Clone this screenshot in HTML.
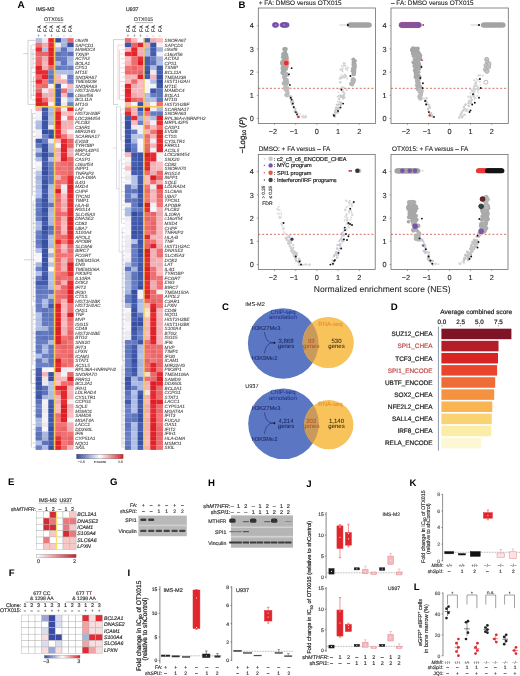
<!DOCTYPE html>
<html><head><meta charset="utf-8"><title>Figure</title>
<style>html,body{margin:0;padding:0;background:#fff;} svg{display:block;filter:blur(0.35px);} text{font-family:"Liberation Sans", Arial, sans-serif;text-rendering:geometricPrecision;}</style>
</head><body>
<svg width="520" height="676" viewBox="0 0 520 676">
<rect width="520" height="676" fill="#fff"/>
<text x="17.50" y="7.90" font-size="10.0" font-weight="bold" fill="#000">A</text>
<text x="36.00" y="10.60" font-size="5.3" fill="#333" stroke="#333" stroke-width="0.177">IMS-M2</text>
<text x="43.90" y="20.70" font-size="5.25" fill="#444" stroke="#444" stroke-width="0.120">OTX015</text>
<rect x="45.40" y="22.10" width="17.80" height="1.00" fill="#b8b8b8"/>
<text x="40.57" y="31.90" font-size="5.0" fill="#333" stroke="#333" stroke-width="0.150" transform="rotate(-90 40.57 31.90)" letter-spacing="0.5">FA</text>
<text x="38.77" y="37.00" font-size="4.2" text-anchor="middle" fill="#667" stroke="#667" stroke-width="0.140">+</text>
<text x="46.90" y="31.90" font-size="5.0" fill="#333" stroke="#333" stroke-width="0.150" transform="rotate(-90 46.90 31.90)" letter-spacing="0.5">FA</text>
<text x="45.10" y="37.00" font-size="4.2" text-anchor="middle" fill="#667" stroke="#667" stroke-width="0.140">+</text>
<text x="53.23" y="31.90" font-size="5.0" fill="#333" stroke="#333" stroke-width="0.150" transform="rotate(-90 53.23 31.90)" letter-spacing="0.5">FA</text>
<text x="51.43" y="37.00" font-size="4.2" text-anchor="middle" fill="#667" stroke="#667" stroke-width="0.140">+</text>
<text x="59.57" y="31.90" font-size="5.0" fill="#333" stroke="#333" stroke-width="0.150" transform="rotate(-90 59.57 31.90)" letter-spacing="0.5">FA</text>
<text x="57.77" y="37.00" font-size="4.2" text-anchor="middle" fill="#8aa0d8" stroke="#8aa0d8" stroke-width="0.140">–</text>
<text x="65.90" y="31.90" font-size="5.0" fill="#333" stroke="#333" stroke-width="0.150" transform="rotate(-90 65.90 31.90)" letter-spacing="0.5">FA</text>
<text x="64.10" y="37.00" font-size="4.2" text-anchor="middle" fill="#e89aa8" stroke="#e89aa8" stroke-width="0.140">–</text>
<text x="72.23" y="31.90" font-size="5.0" fill="#333" stroke="#333" stroke-width="0.150" transform="rotate(-90 72.23 31.90)" letter-spacing="0.5">FA</text>
<text x="70.43" y="37.00" font-size="4.2" text-anchor="middle" fill="#9cc8c0" stroke="#9cc8c0" stroke-width="0.140">–</text>
<text x="125.90" y="10.60" font-size="5.3" fill="#333" stroke="#333" stroke-width="0.177">U937</text>
<text x="133.70" y="20.70" font-size="5.25" fill="#444" stroke="#444" stroke-width="0.120">OTX015</text>
<rect x="135.20" y="22.10" width="17.80" height="1.00" fill="#b8b8b8"/>
<text x="129.87" y="31.90" font-size="5.0" fill="#333" stroke="#333" stroke-width="0.150" transform="rotate(-90 129.87 31.90)" letter-spacing="0.5">FA</text>
<text x="128.07" y="37.00" font-size="4.2" text-anchor="middle" fill="#667" stroke="#667" stroke-width="0.140">+</text>
<text x="136.20" y="31.90" font-size="5.0" fill="#333" stroke="#333" stroke-width="0.150" transform="rotate(-90 136.20 31.90)" letter-spacing="0.5">FA</text>
<text x="134.40" y="37.00" font-size="4.2" text-anchor="middle" fill="#667" stroke="#667" stroke-width="0.140">+</text>
<text x="142.53" y="31.90" font-size="5.0" fill="#333" stroke="#333" stroke-width="0.150" transform="rotate(-90 142.53 31.90)" letter-spacing="0.5">FA</text>
<text x="140.73" y="37.00" font-size="4.2" text-anchor="middle" fill="#667" stroke="#667" stroke-width="0.140">+</text>
<text x="148.87" y="31.90" font-size="5.0" fill="#333" stroke="#333" stroke-width="0.150" transform="rotate(-90 148.87 31.90)" letter-spacing="0.5">FA</text>
<text x="147.07" y="37.00" font-size="4.2" text-anchor="middle" fill="#8aa0d8" stroke="#8aa0d8" stroke-width="0.140">–</text>
<text x="155.20" y="31.90" font-size="5.0" fill="#333" stroke="#333" stroke-width="0.150" transform="rotate(-90 155.20 31.90)" letter-spacing="0.5">FA</text>
<text x="153.40" y="37.00" font-size="4.2" text-anchor="middle" fill="#e89aa8" stroke="#e89aa8" stroke-width="0.140">–</text>
<text x="161.53" y="31.90" font-size="5.0" fill="#333" stroke="#333" stroke-width="0.150" transform="rotate(-90 161.53 31.90)" letter-spacing="0.5">FA</text>
<text x="159.73" y="37.00" font-size="4.2" text-anchor="middle" fill="#9cc8c0" stroke="#9cc8c0" stroke-width="0.140">–</text>
<rect x="35.60" y="38.10" width="6.38" height="4.62" fill="#b0bde4"/>
<rect x="41.93" y="38.10" width="6.38" height="4.62" fill="#edeaf0"/>
<rect x="48.27" y="38.10" width="6.38" height="4.62" fill="#e72a2f"/>
<rect x="54.60" y="38.10" width="6.38" height="4.62" fill="#364fa1"/>
<rect x="60.93" y="38.10" width="6.38" height="4.62" fill="#a8b5dc"/>
<rect x="67.27" y="38.10" width="6.38" height="4.62" fill="#e96669"/>
<text x="75.20" y="41.99" font-size="4.62" font-style="italic" fill="#404040" stroke="#404040" stroke-width="0.080">c9orf9</text>
<rect x="35.60" y="42.68" width="6.38" height="4.62" fill="#f16e71"/>
<rect x="41.93" y="42.68" width="6.38" height="4.62" fill="#eeadb1"/>
<rect x="48.27" y="42.68" width="6.38" height="4.62" fill="#eb2e33"/>
<rect x="54.60" y="42.68" width="6.38" height="4.62" fill="#efecf2"/>
<rect x="60.93" y="42.68" width="6.38" height="4.62" fill="#a7b4db"/>
<rect x="67.27" y="42.68" width="6.38" height="4.62" fill="#3750a2"/>
<text x="75.20" y="46.56" font-size="4.62" font-style="italic" fill="#404040" stroke="#404040" stroke-width="0.080">SAPCD1</text>
<rect x="35.60" y="47.25" width="6.38" height="4.62" fill="#e82b30"/>
<rect x="41.93" y="47.25" width="6.38" height="4.62" fill="#b3c0e7"/>
<rect x="48.27" y="47.25" width="6.38" height="4.62" fill="#dd2025"/>
<rect x="54.60" y="47.25" width="6.38" height="4.62" fill="#adbae1"/>
<rect x="60.93" y="47.25" width="6.38" height="4.62" fill="#5d73ba"/>
<rect x="67.27" y="47.25" width="6.38" height="4.62" fill="#b3c0e7"/>
<text x="75.20" y="51.14" font-size="4.62" font-style="italic" fill="#404040" stroke="#404040" stroke-width="0.080">MAMDC4</text>
<rect x="35.60" y="51.83" width="6.38" height="4.62" fill="#e76467"/>
<rect x="41.93" y="51.83" width="6.38" height="4.62" fill="#e96669"/>
<rect x="48.27" y="51.83" width="6.38" height="4.62" fill="#e2252a"/>
<rect x="54.60" y="51.83" width="6.38" height="4.62" fill="#5c72b9"/>
<rect x="60.93" y="51.83" width="6.38" height="4.62" fill="#677dc4"/>
<rect x="67.27" y="51.83" width="6.38" height="4.62" fill="#5c72b9"/>
<text x="75.20" y="55.71" font-size="4.62" font-style="italic" fill="#404040" stroke="#404040" stroke-width="0.080">TXNIP</text>
<rect x="35.60" y="56.40" width="6.38" height="4.62" fill="#ed6a6d"/>
<rect x="41.93" y="56.40" width="6.38" height="4.62" fill="#eeadb1"/>
<rect x="48.27" y="56.40" width="6.38" height="4.62" fill="#df2227"/>
<rect x="54.60" y="56.40" width="6.38" height="4.62" fill="#647ac1"/>
<rect x="60.93" y="56.40" width="6.38" height="4.62" fill="#687ec5"/>
<rect x="67.27" y="56.40" width="6.38" height="4.62" fill="#aab7de"/>
<text x="75.20" y="60.29" font-size="4.62" font-style="italic" fill="#404040" stroke="#404040" stroke-width="0.080">ACTA2</text>
<rect x="35.60" y="60.98" width="6.38" height="4.62" fill="#e96669"/>
<rect x="41.93" y="60.98" width="6.38" height="4.62" fill="#f6b5b9"/>
<rect x="48.27" y="60.98" width="6.38" height="4.62" fill="#e02328"/>
<rect x="54.60" y="60.98" width="6.38" height="4.62" fill="#a9b6dd"/>
<rect x="60.93" y="60.98" width="6.38" height="4.62" fill="#6177be"/>
<rect x="67.27" y="60.98" width="6.38" height="4.62" fill="#b1bee5"/>
<text x="75.20" y="64.86" font-size="4.62" font-style="italic" fill="#404040" stroke="#404040" stroke-width="0.080">BOLA1</text>
<rect x="35.60" y="65.55" width="6.38" height="4.62" fill="#de2126"/>
<rect x="41.93" y="65.55" width="6.38" height="4.62" fill="#efaeb2"/>
<rect x="48.27" y="65.55" width="6.38" height="4.62" fill="#e76467"/>
<rect x="54.60" y="65.55" width="6.38" height="4.62" fill="#6177be"/>
<rect x="60.93" y="65.55" width="6.38" height="4.62" fill="#6a80c7"/>
<rect x="67.27" y="65.55" width="6.38" height="4.62" fill="#687ec5"/>
<text x="75.20" y="69.44" font-size="4.62" font-style="italic" fill="#404040" stroke="#404040" stroke-width="0.080">CPS1</text>
<rect x="35.60" y="70.12" width="6.38" height="4.62" fill="#e5282d"/>
<rect x="41.93" y="70.12" width="6.38" height="4.62" fill="#e92c31"/>
<rect x="48.27" y="70.12" width="6.38" height="4.62" fill="#697fc6"/>
<rect x="54.60" y="70.12" width="6.38" height="4.62" fill="#b1bee5"/>
<rect x="60.93" y="70.12" width="6.38" height="4.62" fill="#afbce3"/>
<rect x="67.27" y="70.12" width="6.38" height="4.62" fill="#adbae1"/>
<text x="75.20" y="74.01" font-size="4.62" font-style="italic" fill="#404040" stroke="#404040" stroke-width="0.080">MT1E</text>
<rect x="35.60" y="74.70" width="6.38" height="4.62" fill="#eb686b"/>
<rect x="41.93" y="74.70" width="6.38" height="4.62" fill="#e2252a"/>
<rect x="48.27" y="74.70" width="6.38" height="4.62" fill="#5d73ba"/>
<rect x="54.60" y="74.70" width="6.38" height="4.62" fill="#f6b5b9"/>
<rect x="60.93" y="74.70" width="6.38" height="4.62" fill="#f9f6fc"/>
<rect x="67.27" y="74.70" width="6.38" height="4.62" fill="#6a80c7"/>
<text x="75.20" y="78.59" font-size="4.62" font-style="italic" fill="#404040" stroke="#404040" stroke-width="0.080">SNORA67</text>
<rect x="35.60" y="79.28" width="6.38" height="4.62" fill="#e5282d"/>
<rect x="41.93" y="79.28" width="6.38" height="4.62" fill="#f47174"/>
<rect x="48.27" y="79.28" width="6.38" height="4.62" fill="#647ac1"/>
<rect x="54.60" y="79.28" width="6.38" height="4.62" fill="#efaeb2"/>
<rect x="60.93" y="79.28" width="6.38" height="4.62" fill="#f0afb3"/>
<rect x="67.27" y="79.28" width="6.38" height="4.62" fill="#6b81c8"/>
<text x="75.20" y="83.16" font-size="4.62" font-style="italic" fill="#404040" stroke="#404040" stroke-width="0.080">TMEM238</text>
<rect x="35.60" y="83.85" width="6.38" height="4.62" fill="#f37073"/>
<rect x="41.93" y="83.85" width="6.38" height="4.62" fill="#eb686b"/>
<rect x="48.27" y="83.85" width="6.38" height="4.62" fill="#f3f0f6"/>
<rect x="54.60" y="83.85" width="6.38" height="4.62" fill="#3952a4"/>
<rect x="60.93" y="83.85" width="6.38" height="4.62" fill="#f8f5fb"/>
<rect x="67.27" y="83.85" width="6.38" height="4.62" fill="#fab9bd"/>
<text x="75.20" y="87.74" font-size="4.62" font-style="italic" fill="#404040" stroke="#404040" stroke-width="0.080">SNORA63</text>
<rect x="35.60" y="88.43" width="6.38" height="4.62" fill="#e76467"/>
<rect x="41.93" y="88.43" width="6.38" height="4.62" fill="#ebe8ee"/>
<rect x="48.27" y="88.43" width="6.38" height="4.62" fill="#f7b6ba"/>
<rect x="54.60" y="88.43" width="6.38" height="4.62" fill="#3f58aa"/>
<rect x="60.93" y="88.43" width="6.38" height="4.62" fill="#f16e71"/>
<rect x="67.27" y="88.43" width="6.38" height="4.62" fill="#b5c2e9"/>
<text x="75.20" y="92.31" font-size="4.62" font-style="italic" fill="#404040" stroke="#404040" stroke-width="0.080">HIST1H2AH</text>
<rect x="35.60" y="93.00" width="6.38" height="4.62" fill="#e92c31"/>
<rect x="41.93" y="93.00" width="6.38" height="4.62" fill="#efaeb2"/>
<rect x="48.27" y="93.00" width="6.38" height="4.62" fill="#efaeb2"/>
<rect x="54.60" y="93.00" width="6.38" height="4.62" fill="#3d56a8"/>
<rect x="60.93" y="93.00" width="6.38" height="4.62" fill="#fcbbbf"/>
<rect x="67.27" y="93.00" width="6.38" height="4.62" fill="#5d73ba"/>
<text x="75.20" y="96.89" font-size="4.62" font-style="italic" fill="#404040" stroke="#404040" stroke-width="0.080">c16orf56</text>
<rect x="35.60" y="97.58" width="6.38" height="4.62" fill="#dc1f24"/>
<rect x="41.93" y="97.58" width="6.38" height="4.62" fill="#ef6c6f"/>
<rect x="48.27" y="97.58" width="6.38" height="4.62" fill="#fbbabe"/>
<rect x="54.60" y="97.58" width="6.38" height="4.62" fill="#3e57a9"/>
<rect x="60.93" y="97.58" width="6.38" height="4.62" fill="#f5f2f8"/>
<rect x="67.27" y="97.58" width="6.38" height="4.62" fill="#b1bee5"/>
<text x="75.20" y="101.46" font-size="4.62" font-style="italic" fill="#404040" stroke="#404040" stroke-width="0.080">BCL11A</text>
<rect x="35.60" y="102.15" width="6.38" height="4.62" fill="#db1e23"/>
<rect x="41.93" y="102.15" width="6.38" height="4.62" fill="#e92c31"/>
<rect x="48.27" y="102.15" width="6.38" height="4.62" fill="#f4f1f7"/>
<rect x="54.60" y="102.15" width="6.38" height="4.62" fill="#3a53a5"/>
<rect x="60.93" y="102.15" width="6.38" height="4.62" fill="#ece9ef"/>
<rect x="67.27" y="102.15" width="6.38" height="4.62" fill="#6a80c7"/>
<text x="75.20" y="106.04" font-size="4.62" font-style="italic" fill="#404040" stroke="#404040" stroke-width="0.080">MT1G</text>
<rect x="35.60" y="106.72" width="6.38" height="4.62" fill="#eeadb1"/>
<rect x="41.93" y="106.72" width="6.38" height="4.62" fill="#3b54a6"/>
<rect x="48.27" y="106.72" width="6.38" height="4.62" fill="#afbce3"/>
<rect x="54.60" y="106.72" width="6.38" height="4.62" fill="#ea676a"/>
<rect x="60.93" y="106.72" width="6.38" height="4.62" fill="#f0edf3"/>
<rect x="67.27" y="106.72" width="6.38" height="4.62" fill="#e72a2f"/>
<text x="75.20" y="110.61" font-size="4.62" font-style="italic" fill="#404040" stroke="#404040" stroke-width="0.080">LAT</text>
<rect x="35.60" y="111.30" width="6.38" height="4.62" fill="#f5f2f8"/>
<rect x="41.93" y="111.30" width="6.38" height="4.62" fill="#445daf"/>
<rect x="48.27" y="111.30" width="6.38" height="4.62" fill="#a8b5dc"/>
<rect x="54.60" y="111.30" width="6.38" height="4.62" fill="#e02328"/>
<rect x="60.93" y="111.30" width="6.38" height="4.62" fill="#fbbabe"/>
<rect x="67.27" y="111.30" width="6.38" height="4.62" fill="#f9b8bc"/>
<text x="75.20" y="115.19" font-size="4.62" font-style="italic" fill="#404040" stroke="#404040" stroke-width="0.080">HIST2H2BF</text>
<rect x="35.60" y="115.88" width="6.38" height="4.62" fill="#f1eef4"/>
<rect x="41.93" y="115.88" width="6.38" height="4.62" fill="#3952a4"/>
<rect x="48.27" y="115.88" width="6.38" height="4.62" fill="#b3c0e7"/>
<rect x="54.60" y="115.88" width="6.38" height="4.62" fill="#e3262b"/>
<rect x="60.93" y="115.88" width="6.38" height="4.62" fill="#f6f3f9"/>
<rect x="67.27" y="115.88" width="6.38" height="4.62" fill="#f16e71"/>
<text x="75.20" y="119.76" font-size="4.62" font-style="italic" fill="#404040" stroke="#404040" stroke-width="0.080">LOC284454</text>
<rect x="35.60" y="120.45" width="6.38" height="4.62" fill="#b2bfe6"/>
<rect x="41.93" y="120.45" width="6.38" height="4.62" fill="#3c55a7"/>
<rect x="48.27" y="120.45" width="6.38" height="4.62" fill="#aab7de"/>
<rect x="54.60" y="120.45" width="6.38" height="4.62" fill="#dd2025"/>
<rect x="60.93" y="120.45" width="6.38" height="4.62" fill="#f2b1b5"/>
<rect x="67.27" y="120.45" width="6.38" height="4.62" fill="#f1b0b4"/>
<text x="75.20" y="124.34" font-size="4.62" font-style="italic" fill="#404040" stroke="#404040" stroke-width="0.080">PLCB2</text>
<rect x="35.60" y="125.03" width="6.38" height="4.62" fill="#adbae1"/>
<rect x="41.93" y="125.03" width="6.38" height="4.62" fill="#3c55a7"/>
<rect x="48.27" y="125.03" width="6.38" height="4.62" fill="#e9e6ec"/>
<rect x="54.60" y="125.03" width="6.38" height="4.62" fill="#ea2d32"/>
<rect x="60.93" y="125.03" width="6.38" height="4.62" fill="#f2b1b5"/>
<rect x="67.27" y="125.03" width="6.38" height="4.62" fill="#f5b4b8"/>
<text x="75.20" y="128.91" font-size="4.62" font-style="italic" fill="#404040" stroke="#404040" stroke-width="0.080">C3AR1</text>
<rect x="35.60" y="129.60" width="6.38" height="4.62" fill="#f2eff5"/>
<rect x="41.93" y="129.60" width="6.38" height="4.62" fill="#354ea0"/>
<rect x="48.27" y="129.60" width="6.38" height="4.62" fill="#3952a4"/>
<rect x="54.60" y="129.60" width="6.38" height="4.62" fill="#e82b30"/>
<rect x="60.93" y="129.60" width="6.38" height="4.62" fill="#f8b7bb"/>
<rect x="67.27" y="129.60" width="6.38" height="4.62" fill="#f3f0f6"/>
<text x="75.20" y="133.49" font-size="4.62" font-style="italic" fill="#404040" stroke="#404040" stroke-width="0.080">MIR22HG</text>
<rect x="35.60" y="134.18" width="6.38" height="4.62" fill="#edeaf0"/>
<rect x="41.93" y="134.18" width="6.38" height="4.62" fill="#6b81c8"/>
<rect x="48.27" y="134.18" width="6.38" height="4.62" fill="#364fa1"/>
<rect x="54.60" y="134.18" width="6.38" height="4.62" fill="#e92c31"/>
<rect x="60.93" y="134.18" width="6.38" height="4.62" fill="#f26f72"/>
<rect x="67.27" y="134.18" width="6.38" height="4.62" fill="#f9b8bc"/>
<text x="75.20" y="138.06" font-size="4.62" font-style="italic" fill="#404040" stroke="#404040" stroke-width="0.080">SCARNA17</text>
<rect x="35.60" y="138.75" width="6.38" height="4.62" fill="#415aac"/>
<rect x="41.93" y="138.75" width="6.38" height="4.62" fill="#677dc4"/>
<rect x="48.27" y="138.75" width="6.38" height="4.62" fill="#ece9ef"/>
<rect x="54.60" y="138.75" width="6.38" height="4.62" fill="#fcbbbf"/>
<rect x="60.93" y="138.75" width="6.38" height="4.62" fill="#e72a2f"/>
<rect x="67.27" y="138.75" width="6.38" height="4.62" fill="#e76467"/>
<text x="75.20" y="142.64" font-size="4.62" font-style="italic" fill="#404040" stroke="#404040" stroke-width="0.080">EVI2B</text>
<rect x="35.60" y="143.33" width="6.38" height="4.62" fill="#6177be"/>
<rect x="41.93" y="143.33" width="6.38" height="4.62" fill="#3750a2"/>
<rect x="48.27" y="143.33" width="6.38" height="4.62" fill="#acb9e0"/>
<rect x="54.60" y="143.33" width="6.38" height="4.62" fill="#f7f4fa"/>
<rect x="60.93" y="143.33" width="6.38" height="4.62" fill="#e02328"/>
<rect x="67.27" y="143.33" width="6.38" height="4.62" fill="#e96669"/>
<text x="75.20" y="147.21" font-size="4.62" font-style="italic" fill="#404040" stroke="#404040" stroke-width="0.080">TYROBP</text>
<rect x="35.60" y="147.90" width="6.38" height="4.62" fill="#b0bde4"/>
<rect x="41.93" y="147.90" width="6.38" height="4.62" fill="#364fa1"/>
<rect x="48.27" y="147.90" width="6.38" height="4.62" fill="#a9b6dd"/>
<rect x="54.60" y="147.90" width="6.38" height="4.62" fill="#edacb0"/>
<rect x="60.93" y="147.90" width="6.38" height="4.62" fill="#df2227"/>
<rect x="67.27" y="147.90" width="6.38" height="4.62" fill="#f0afb3"/>
<text x="75.20" y="151.79" font-size="4.62" font-style="italic" fill="#404040" stroke="#404040" stroke-width="0.080">MRPL42P5</text>
<rect x="35.60" y="152.47" width="6.38" height="4.62" fill="#667cc3"/>
<rect x="41.93" y="152.47" width="6.38" height="4.62" fill="#354ea0"/>
<rect x="48.27" y="152.47" width="6.38" height="4.62" fill="#5d73ba"/>
<rect x="54.60" y="152.47" width="6.38" height="4.62" fill="#f3b2b6"/>
<rect x="60.93" y="152.47" width="6.38" height="4.62" fill="#e72a2f"/>
<rect x="67.27" y="152.47" width="6.38" height="4.62" fill="#f1b0b4"/>
<text x="75.20" y="156.36" font-size="4.62" font-style="italic" fill="#404040" stroke="#404040" stroke-width="0.080">FUCA2</text>
<rect x="35.60" y="157.05" width="6.38" height="4.62" fill="#aebbe2"/>
<rect x="41.93" y="157.05" width="6.38" height="4.62" fill="#4059ab"/>
<rect x="48.27" y="157.05" width="6.38" height="4.62" fill="#b1bee5"/>
<rect x="54.60" y="157.05" width="6.38" height="4.62" fill="#fcbbbf"/>
<rect x="60.93" y="157.05" width="6.38" height="4.62" fill="#de2126"/>
<rect x="67.27" y="157.05" width="6.38" height="4.62" fill="#e96669"/>
<text x="75.20" y="160.94" font-size="4.62" font-style="italic" fill="#404040" stroke="#404040" stroke-width="0.080">CASP1</text>
<rect x="35.60" y="161.62" width="6.38" height="4.62" fill="#f8f5fb"/>
<rect x="41.93" y="161.62" width="6.38" height="4.62" fill="#435cae"/>
<rect x="48.27" y="161.62" width="6.38" height="4.62" fill="#6a80c7"/>
<rect x="54.60" y="161.62" width="6.38" height="4.62" fill="#f57275"/>
<rect x="60.93" y="161.62" width="6.38" height="4.62" fill="#ef6c6f"/>
<rect x="67.27" y="161.62" width="6.38" height="4.62" fill="#e86568"/>
<text x="75.20" y="165.51" font-size="4.62" font-style="italic" fill="#404040" stroke="#404040" stroke-width="0.080">c16orf54</text>
<rect x="35.60" y="166.20" width="6.38" height="4.62" fill="#edeaf0"/>
<rect x="41.93" y="166.20" width="6.38" height="4.62" fill="#3851a3"/>
<rect x="48.27" y="166.20" width="6.38" height="4.62" fill="#657bc2"/>
<rect x="54.60" y="166.20" width="6.38" height="4.62" fill="#ee6b6e"/>
<rect x="60.93" y="166.20" width="6.38" height="4.62" fill="#f57275"/>
<rect x="67.27" y="166.20" width="6.38" height="4.62" fill="#eb686b"/>
<text x="75.20" y="170.09" font-size="4.62" font-style="italic" fill="#404040" stroke="#404040" stroke-width="0.080">INPP1</text>
<rect x="35.60" y="170.78" width="6.38" height="4.62" fill="#b6c3ea"/>
<rect x="41.93" y="170.78" width="6.38" height="4.62" fill="#354ea0"/>
<rect x="48.27" y="170.78" width="6.38" height="4.62" fill="#6177be"/>
<rect x="54.60" y="170.78" width="6.38" height="4.62" fill="#f67376"/>
<rect x="60.93" y="170.78" width="6.38" height="4.62" fill="#f16e71"/>
<rect x="67.27" y="170.78" width="6.38" height="4.62" fill="#ea676a"/>
<text x="75.20" y="174.66" font-size="4.62" font-style="italic" fill="#404040" stroke="#404040" stroke-width="0.080">TNFAIP2</text>
<rect x="35.60" y="175.35" width="6.38" height="4.62" fill="#a6b3da"/>
<rect x="41.93" y="175.35" width="6.38" height="4.62" fill="#455eb0"/>
<rect x="48.27" y="175.35" width="6.38" height="4.62" fill="#647ac1"/>
<rect x="54.60" y="175.35" width="6.38" height="4.62" fill="#efaeb2"/>
<rect x="60.93" y="175.35" width="6.38" height="4.62" fill="#ee6b6e"/>
<rect x="67.27" y="175.35" width="6.38" height="4.62" fill="#eb2e33"/>
<text x="75.20" y="179.24" font-size="4.62" font-style="italic" fill="#404040" stroke="#404040" stroke-width="0.080">HLA-DMA</text>
<rect x="35.60" y="179.93" width="6.38" height="4.62" fill="#b1bee5"/>
<rect x="41.93" y="179.93" width="6.38" height="4.62" fill="#3a53a5"/>
<rect x="48.27" y="179.93" width="6.38" height="4.62" fill="#667cc3"/>
<rect x="54.60" y="179.93" width="6.38" height="4.62" fill="#ed6a6d"/>
<rect x="60.93" y="179.93" width="6.38" height="4.62" fill="#f67376"/>
<rect x="67.27" y="179.93" width="6.38" height="4.62" fill="#e5282d"/>
<text x="75.20" y="183.81" font-size="4.62" font-style="italic" fill="#404040" stroke="#404040" stroke-width="0.080">IL4I1</text>
<rect x="35.60" y="184.50" width="6.38" height="4.62" fill="#adbae1"/>
<rect x="41.93" y="184.50" width="6.38" height="4.62" fill="#3b54a6"/>
<rect x="48.27" y="184.50" width="6.38" height="4.62" fill="#adbae1"/>
<rect x="54.60" y="184.50" width="6.38" height="4.62" fill="#f26f72"/>
<rect x="60.93" y="184.50" width="6.38" height="4.62" fill="#f0edf3"/>
<rect x="67.27" y="184.50" width="6.38" height="4.62" fill="#e12429"/>
<text x="75.20" y="188.39" font-size="4.62" font-style="italic" fill="#404040" stroke="#404040" stroke-width="0.080">MXD4</text>
<rect x="35.60" y="189.07" width="6.38" height="4.62" fill="#b6c3ea"/>
<rect x="41.93" y="189.07" width="6.38" height="4.62" fill="#445daf"/>
<rect x="48.27" y="189.07" width="6.38" height="4.62" fill="#b1bee5"/>
<rect x="54.60" y="189.07" width="6.38" height="4.62" fill="#db1e23"/>
<rect x="60.93" y="189.07" width="6.38" height="4.62" fill="#e9e6ec"/>
<rect x="67.27" y="189.07" width="6.38" height="4.62" fill="#e3262b"/>
<text x="75.20" y="192.96" font-size="4.62" font-style="italic" fill="#404040" stroke="#404040" stroke-width="0.080">CHPF</text>
<rect x="35.60" y="193.65" width="6.38" height="4.62" fill="#b5c2e9"/>
<rect x="41.93" y="193.65" width="6.38" height="4.62" fill="#3d56a8"/>
<rect x="48.27" y="193.65" width="6.38" height="4.62" fill="#acb9e0"/>
<rect x="54.60" y="193.65" width="6.38" height="4.62" fill="#f16e71"/>
<rect x="60.93" y="193.65" width="6.38" height="4.62" fill="#fbbabe"/>
<rect x="67.27" y="193.65" width="6.38" height="4.62" fill="#e6292e"/>
<text x="75.20" y="197.54" font-size="4.62" font-style="italic" fill="#404040" stroke="#404040" stroke-width="0.080">TPCN1</text>
<rect x="35.60" y="198.22" width="6.38" height="4.62" fill="#667cc3"/>
<rect x="41.93" y="198.22" width="6.38" height="4.62" fill="#3750a2"/>
<rect x="48.27" y="198.22" width="6.38" height="4.62" fill="#adbae1"/>
<rect x="54.60" y="198.22" width="6.38" height="4.62" fill="#e96669"/>
<rect x="60.93" y="198.22" width="6.38" height="4.62" fill="#f4b3b7"/>
<rect x="67.27" y="198.22" width="6.38" height="4.62" fill="#ea2d32"/>
<text x="75.20" y="202.11" font-size="4.62" font-style="italic" fill="#404040" stroke="#404040" stroke-width="0.080">TIMP1</text>
<rect x="35.60" y="202.80" width="6.38" height="4.62" fill="#6177be"/>
<rect x="41.93" y="202.80" width="6.38" height="4.62" fill="#3f58aa"/>
<rect x="48.27" y="202.80" width="6.38" height="4.62" fill="#6177be"/>
<rect x="54.60" y="202.80" width="6.38" height="4.62" fill="#f57275"/>
<rect x="60.93" y="202.80" width="6.38" height="4.62" fill="#edacb0"/>
<rect x="67.27" y="202.80" width="6.38" height="4.62" fill="#ea2d32"/>
<text x="75.20" y="206.69" font-size="4.62" font-style="italic" fill="#404040" stroke="#404040" stroke-width="0.080">HLA-B</text>
<rect x="35.60" y="207.38" width="6.38" height="4.62" fill="#667cc3"/>
<rect x="41.93" y="207.38" width="6.38" height="4.62" fill="#3750a2"/>
<rect x="48.27" y="207.38" width="6.38" height="4.62" fill="#a9b6dd"/>
<rect x="54.60" y="207.38" width="6.38" height="4.62" fill="#f26f72"/>
<rect x="60.93" y="207.38" width="6.38" height="4.62" fill="#f3b2b6"/>
<rect x="67.27" y="207.38" width="6.38" height="4.62" fill="#ea2d32"/>
<text x="75.20" y="211.26" font-size="4.62" font-style="italic" fill="#404040" stroke="#404040" stroke-width="0.080">RGS14</text>
<rect x="35.60" y="211.95" width="6.38" height="4.62" fill="#6076bd"/>
<rect x="41.93" y="211.95" width="6.38" height="4.62" fill="#425bad"/>
<rect x="48.27" y="211.95" width="6.38" height="4.62" fill="#b0bde4"/>
<rect x="54.60" y="211.95" width="6.38" height="4.62" fill="#e86568"/>
<rect x="60.93" y="211.95" width="6.38" height="4.62" fill="#f26f72"/>
<rect x="67.27" y="211.95" width="6.38" height="4.62" fill="#e92c31"/>
<text x="75.20" y="215.84" font-size="4.62" font-style="italic" fill="#404040" stroke="#404040" stroke-width="0.080">SLC45A3</text>
<rect x="35.60" y="216.53" width="6.38" height="4.62" fill="#677dc4"/>
<rect x="41.93" y="216.53" width="6.38" height="4.62" fill="#3750a2"/>
<rect x="48.27" y="216.53" width="6.38" height="4.62" fill="#abb8df"/>
<rect x="54.60" y="216.53" width="6.38" height="4.62" fill="#eb686b"/>
<rect x="60.93" y="216.53" width="6.38" height="4.62" fill="#f1b0b4"/>
<rect x="67.27" y="216.53" width="6.38" height="4.62" fill="#db1e23"/>
<text x="75.20" y="220.41" font-size="4.62" font-style="italic" fill="#404040" stroke="#404040" stroke-width="0.080">DNASE2</text>
<rect x="35.60" y="221.10" width="6.38" height="4.62" fill="#aab7de"/>
<rect x="41.93" y="221.10" width="6.38" height="4.62" fill="#435cae"/>
<rect x="48.27" y="221.10" width="6.38" height="4.62" fill="#aab7de"/>
<rect x="54.60" y="221.10" width="6.38" height="4.62" fill="#f57275"/>
<rect x="60.93" y="221.10" width="6.38" height="4.62" fill="#f8b7bb"/>
<rect x="67.27" y="221.10" width="6.38" height="4.62" fill="#df2227"/>
<text x="75.20" y="224.99" font-size="4.62" font-style="italic" fill="#404040" stroke="#404040" stroke-width="0.080">CD82</text>
<rect x="35.60" y="225.68" width="6.38" height="4.62" fill="#aab7de"/>
<rect x="41.93" y="225.68" width="6.38" height="4.62" fill="#354ea0"/>
<rect x="48.27" y="225.68" width="6.38" height="4.62" fill="#5b71b8"/>
<rect x="54.60" y="225.68" width="6.38" height="4.62" fill="#e96669"/>
<rect x="60.93" y="225.68" width="6.38" height="4.62" fill="#fdbcc0"/>
<rect x="67.27" y="225.68" width="6.38" height="4.62" fill="#df2227"/>
<text x="75.20" y="229.56" font-size="4.62" font-style="italic" fill="#404040" stroke="#404040" stroke-width="0.080">UBA7</text>
<rect x="35.60" y="230.25" width="6.38" height="4.62" fill="#687ec5"/>
<rect x="41.93" y="230.25" width="6.38" height="4.62" fill="#3b54a6"/>
<rect x="48.27" y="230.25" width="6.38" height="4.62" fill="#6177be"/>
<rect x="54.60" y="230.25" width="6.38" height="4.62" fill="#e66366"/>
<rect x="60.93" y="230.25" width="6.38" height="4.62" fill="#f5b4b8"/>
<rect x="67.27" y="230.25" width="6.38" height="4.62" fill="#e12429"/>
<text x="75.20" y="234.14" font-size="4.62" font-style="italic" fill="#404040" stroke="#404040" stroke-width="0.080">S100A4</text>
<rect x="35.60" y="234.82" width="6.38" height="4.62" fill="#647ac1"/>
<rect x="41.93" y="234.82" width="6.38" height="4.62" fill="#455eb0"/>
<rect x="48.27" y="234.82" width="6.38" height="4.62" fill="#adbae1"/>
<rect x="54.60" y="234.82" width="6.38" height="4.62" fill="#f06d70"/>
<rect x="60.93" y="234.82" width="6.38" height="4.62" fill="#ee6b6e"/>
<rect x="67.27" y="234.82" width="6.38" height="4.62" fill="#e82b30"/>
<text x="75.20" y="238.71" font-size="4.62" font-style="italic" fill="#404040" stroke="#404040" stroke-width="0.080">APOL2</text>
<rect x="35.60" y="239.40" width="6.38" height="4.62" fill="#5f75bc"/>
<rect x="41.93" y="239.40" width="6.38" height="4.62" fill="#364fa1"/>
<rect x="48.27" y="239.40" width="6.38" height="4.62" fill="#b1bee5"/>
<rect x="54.60" y="239.40" width="6.38" height="4.62" fill="#e92c31"/>
<rect x="60.93" y="239.40" width="6.38" height="4.62" fill="#f67376"/>
<rect x="67.27" y="239.40" width="6.38" height="4.62" fill="#e82b30"/>
<text x="75.20" y="243.29" font-size="4.62" font-style="italic" fill="#404040" stroke="#404040" stroke-width="0.080">APOBR</text>
<rect x="35.60" y="243.97" width="6.38" height="4.62" fill="#6b81c8"/>
<rect x="41.93" y="243.97" width="6.38" height="4.62" fill="#3952a4"/>
<rect x="48.27" y="243.97" width="6.38" height="4.62" fill="#aab7de"/>
<rect x="54.60" y="243.97" width="6.38" height="4.62" fill="#f67376"/>
<rect x="60.93" y="243.97" width="6.38" height="4.62" fill="#fdbcc0"/>
<rect x="67.27" y="243.97" width="6.38" height="4.62" fill="#e66366"/>
<text x="75.20" y="247.86" font-size="4.62" font-style="italic" fill="#404040" stroke="#404040" stroke-width="0.080">SLC6A6</text>
<rect x="35.60" y="248.55" width="6.38" height="4.62" fill="#b4c1e8"/>
<rect x="41.93" y="248.55" width="6.38" height="4.62" fill="#3a53a5"/>
<rect x="48.27" y="248.55" width="6.38" height="4.62" fill="#e9e6ec"/>
<rect x="54.60" y="248.55" width="6.38" height="4.62" fill="#ea676a"/>
<rect x="60.93" y="248.55" width="6.38" height="4.62" fill="#f2b1b5"/>
<rect x="67.27" y="248.55" width="6.38" height="4.62" fill="#ea676a"/>
<text x="75.20" y="252.44" font-size="4.62" font-style="italic" fill="#404040" stroke="#404040" stroke-width="0.080">BIRC7</text>
<rect x="35.60" y="253.12" width="6.38" height="4.62" fill="#f8f5fb"/>
<rect x="41.93" y="253.12" width="6.38" height="4.62" fill="#3851a3"/>
<rect x="48.27" y="253.12" width="6.38" height="4.62" fill="#a7b4db"/>
<rect x="54.60" y="253.12" width="6.38" height="4.62" fill="#f06d70"/>
<rect x="60.93" y="253.12" width="6.38" height="4.62" fill="#f67376"/>
<rect x="67.27" y="253.12" width="6.38" height="4.62" fill="#f67376"/>
<text x="75.20" y="257.01" font-size="4.62" font-style="italic" fill="#404040" stroke="#404040" stroke-width="0.080">FCGRT</text>
<rect x="35.60" y="257.70" width="6.38" height="4.62" fill="#f8f5fb"/>
<rect x="41.93" y="257.70" width="6.38" height="4.62" fill="#3851a3"/>
<rect x="48.27" y="257.70" width="6.38" height="4.62" fill="#eae7ed"/>
<rect x="54.60" y="257.70" width="6.38" height="4.62" fill="#ed6a6d"/>
<rect x="60.93" y="257.70" width="6.38" height="4.62" fill="#f3b2b6"/>
<rect x="67.27" y="257.70" width="6.38" height="4.62" fill="#ee6b6e"/>
<text x="75.20" y="261.59" font-size="4.62" font-style="italic" fill="#404040" stroke="#404040" stroke-width="0.080">TMEM150A</text>
<rect x="35.60" y="262.28" width="6.38" height="4.62" fill="#a7b4db"/>
<rect x="41.93" y="262.28" width="6.38" height="4.62" fill="#3851a3"/>
<rect x="48.27" y="262.28" width="6.38" height="4.62" fill="#b6c3ea"/>
<rect x="54.60" y="262.28" width="6.38" height="4.62" fill="#f47174"/>
<rect x="60.93" y="262.28" width="6.38" height="4.62" fill="#edacb0"/>
<rect x="67.27" y="262.28" width="6.38" height="4.62" fill="#dd2025"/>
<text x="75.20" y="266.16" font-size="4.62" font-style="italic" fill="#404040" stroke="#404040" stroke-width="0.080">ENG</text>
<rect x="35.60" y="266.85" width="6.38" height="4.62" fill="#697fc6"/>
<rect x="41.93" y="266.85" width="6.38" height="4.62" fill="#3f58aa"/>
<rect x="48.27" y="266.85" width="6.38" height="4.62" fill="#f9f6fc"/>
<rect x="54.60" y="266.85" width="6.38" height="4.62" fill="#f67376"/>
<rect x="60.93" y="266.85" width="6.38" height="4.62" fill="#f3b2b6"/>
<rect x="67.27" y="266.85" width="6.38" height="4.62" fill="#e3262b"/>
<text x="75.20" y="270.74" font-size="4.62" font-style="italic" fill="#404040" stroke="#404040" stroke-width="0.080">TMEM106A</text>
<rect x="35.60" y="271.43" width="6.38" height="4.62" fill="#b4c1e8"/>
<rect x="41.93" y="271.43" width="6.38" height="4.62" fill="#455eb0"/>
<rect x="48.27" y="271.43" width="6.38" height="4.62" fill="#b5c2e9"/>
<rect x="54.60" y="271.43" width="6.38" height="4.62" fill="#f67376"/>
<rect x="60.93" y="271.43" width="6.38" height="4.62" fill="#ed6a6d"/>
<rect x="67.27" y="271.43" width="6.38" height="4.62" fill="#eb2e33"/>
<text x="75.20" y="275.31" font-size="4.62" font-style="italic" fill="#404040" stroke="#404040" stroke-width="0.080">PIK3IP1</text>
<rect x="35.60" y="276.00" width="6.38" height="4.62" fill="#6379c0"/>
<rect x="41.93" y="276.00" width="6.38" height="4.62" fill="#3b54a6"/>
<rect x="48.27" y="276.00" width="6.38" height="4.62" fill="#b4c1e8"/>
<rect x="54.60" y="276.00" width="6.38" height="4.62" fill="#ea676a"/>
<rect x="60.93" y="276.00" width="6.38" height="4.62" fill="#f37073"/>
<rect x="67.27" y="276.00" width="6.38" height="4.62" fill="#e96669"/>
<text x="75.20" y="279.89" font-size="4.62" font-style="italic" fill="#404040" stroke="#404040" stroke-width="0.080">IL10RA</text>
<rect x="35.60" y="280.58" width="6.38" height="4.62" fill="#415aac"/>
<rect x="41.93" y="280.58" width="6.38" height="4.62" fill="#435cae"/>
<rect x="48.27" y="280.58" width="6.38" height="4.62" fill="#b0bde4"/>
<rect x="54.60" y="280.58" width="6.38" height="4.62" fill="#e86568"/>
<rect x="60.93" y="280.58" width="6.38" height="4.62" fill="#f4b3b7"/>
<rect x="67.27" y="280.58" width="6.38" height="4.62" fill="#e82b30"/>
<text x="75.20" y="284.46" font-size="4.62" font-style="italic" fill="#404040" stroke="#404040" stroke-width="0.080">DOK2</text>
<rect x="35.60" y="285.15" width="6.38" height="4.62" fill="#5d73ba"/>
<rect x="41.93" y="285.15" width="6.38" height="4.62" fill="#6177be"/>
<rect x="48.27" y="285.15" width="6.38" height="4.62" fill="#afbce3"/>
<rect x="54.60" y="285.15" width="6.38" height="4.62" fill="#f0afb3"/>
<rect x="60.93" y="285.15" width="6.38" height="4.62" fill="#ea676a"/>
<rect x="67.27" y="285.15" width="6.38" height="4.62" fill="#e6292e"/>
<text x="75.20" y="289.04" font-size="4.62" font-style="italic" fill="#404040" stroke="#404040" stroke-width="0.080">IFIT2</text>
<rect x="35.60" y="289.73" width="6.38" height="4.62" fill="#5f75bc"/>
<rect x="41.93" y="289.73" width="6.38" height="4.62" fill="#6379c0"/>
<rect x="48.27" y="289.73" width="6.38" height="4.62" fill="#5f75bc"/>
<rect x="54.60" y="289.73" width="6.38" height="4.62" fill="#f47174"/>
<rect x="60.93" y="289.73" width="6.38" height="4.62" fill="#ed6a6d"/>
<rect x="67.27" y="289.73" width="6.38" height="4.62" fill="#de2126"/>
<text x="75.20" y="293.61" font-size="4.62" font-style="italic" fill="#404040" stroke="#404040" stroke-width="0.080">IFI30</text>
<rect x="35.60" y="294.30" width="6.38" height="4.62" fill="#677dc4"/>
<rect x="41.93" y="294.30" width="6.38" height="4.62" fill="#6a80c7"/>
<rect x="48.27" y="294.30" width="6.38" height="4.62" fill="#abb8df"/>
<rect x="54.60" y="294.30" width="6.38" height="4.62" fill="#ed6a6d"/>
<rect x="60.93" y="294.30" width="6.38" height="4.62" fill="#eb686b"/>
<rect x="67.27" y="294.30" width="6.38" height="4.62" fill="#e82b30"/>
<text x="75.20" y="298.19" font-size="4.62" font-style="italic" fill="#404040" stroke="#404040" stroke-width="0.080">CTSS</text>
<rect x="35.60" y="298.88" width="6.38" height="4.62" fill="#6b81c8"/>
<rect x="41.93" y="298.88" width="6.38" height="4.62" fill="#b2bfe6"/>
<rect x="48.27" y="298.88" width="6.38" height="4.62" fill="#657bc2"/>
<rect x="54.60" y="298.88" width="6.38" height="4.62" fill="#f37073"/>
<rect x="60.93" y="298.88" width="6.38" height="4.62" fill="#f3b2b6"/>
<rect x="67.27" y="298.88" width="6.38" height="4.62" fill="#e6292e"/>
<text x="75.20" y="302.76" font-size="4.62" font-style="italic" fill="#404040" stroke="#404040" stroke-width="0.080">HIST1H2BK</text>
<rect x="35.60" y="303.45" width="6.38" height="4.62" fill="#657bc2"/>
<rect x="41.93" y="303.45" width="6.38" height="4.62" fill="#a8b5dc"/>
<rect x="48.27" y="303.45" width="6.38" height="4.62" fill="#4059ab"/>
<rect x="54.60" y="303.45" width="6.38" height="4.62" fill="#db1e23"/>
<rect x="60.93" y="303.45" width="6.38" height="4.62" fill="#f7b6ba"/>
<rect x="67.27" y="303.45" width="6.38" height="4.62" fill="#f47174"/>
<text x="75.20" y="307.34" font-size="4.62" font-style="italic" fill="#404040" stroke="#404040" stroke-width="0.080">HIST1H2AC</text>
<rect x="35.60" y="308.03" width="6.38" height="4.62" fill="#697fc6"/>
<rect x="41.93" y="308.03" width="6.38" height="4.62" fill="#5b71b8"/>
<rect x="48.27" y="308.03" width="6.38" height="4.62" fill="#677dc4"/>
<rect x="54.60" y="308.03" width="6.38" height="4.62" fill="#e5282d"/>
<rect x="60.93" y="308.03" width="6.38" height="4.62" fill="#fdbcc0"/>
<rect x="67.27" y="308.03" width="6.38" height="4.62" fill="#ef6c6f"/>
<text x="75.20" y="311.91" font-size="4.62" font-style="italic" fill="#404040" stroke="#404040" stroke-width="0.080">OAS1</text>
<rect x="35.60" y="312.60" width="6.38" height="4.62" fill="#b6c3ea"/>
<rect x="41.93" y="312.60" width="6.38" height="4.62" fill="#5d73ba"/>
<rect x="48.27" y="312.60" width="6.38" height="4.62" fill="#5e74bb"/>
<rect x="54.60" y="312.60" width="6.38" height="4.62" fill="#e2252a"/>
<rect x="60.93" y="312.60" width="6.38" height="4.62" fill="#f0afb3"/>
<rect x="67.27" y="312.60" width="6.38" height="4.62" fill="#dd2025"/>
<text x="75.20" y="316.49" font-size="4.62" font-style="italic" fill="#404040" stroke="#404040" stroke-width="0.080">TNF</text>
<rect x="35.60" y="317.18" width="6.38" height="4.62" fill="#aebbe2"/>
<rect x="41.93" y="317.18" width="6.38" height="4.62" fill="#6379c0"/>
<rect x="48.27" y="317.18" width="6.38" height="4.62" fill="#5c72b9"/>
<rect x="54.60" y="317.18" width="6.38" height="4.62" fill="#e02328"/>
<rect x="60.93" y="317.18" width="6.38" height="4.62" fill="#f5b4b8"/>
<rect x="67.27" y="317.18" width="6.38" height="4.62" fill="#ea676a"/>
<text x="75.20" y="321.06" font-size="4.62" font-style="italic" fill="#404040" stroke="#404040" stroke-width="0.080">MVP</text>
<rect x="35.60" y="321.75" width="6.38" height="4.62" fill="#b3c0e7"/>
<rect x="41.93" y="321.75" width="6.38" height="4.62" fill="#6379c0"/>
<rect x="48.27" y="321.75" width="6.38" height="4.62" fill="#677dc4"/>
<rect x="54.60" y="321.75" width="6.38" height="4.62" fill="#df2227"/>
<rect x="60.93" y="321.75" width="6.38" height="4.62" fill="#fdbcc0"/>
<rect x="67.27" y="321.75" width="6.38" height="4.62" fill="#f57275"/>
<text x="75.20" y="325.64" font-size="4.62" font-style="italic" fill="#404040" stroke="#404040" stroke-width="0.080">ISG15</text>
<rect x="35.60" y="326.33" width="6.38" height="4.62" fill="#b0bde4"/>
<rect x="41.93" y="326.33" width="6.38" height="4.62" fill="#a8b5dc"/>
<rect x="48.27" y="326.33" width="6.38" height="4.62" fill="#6379c0"/>
<rect x="54.60" y="326.33" width="6.38" height="4.62" fill="#dc1f24"/>
<rect x="60.93" y="326.33" width="6.38" height="4.62" fill="#f2b1b5"/>
<rect x="67.27" y="326.33" width="6.38" height="4.62" fill="#f37073"/>
<text x="75.20" y="330.21" font-size="4.62" font-style="italic" fill="#404040" stroke="#404040" stroke-width="0.080">CD48</text>
<rect x="35.60" y="330.90" width="6.38" height="4.62" fill="#5d73ba"/>
<rect x="41.93" y="330.90" width="6.38" height="4.62" fill="#6379c0"/>
<rect x="48.27" y="330.90" width="6.38" height="4.62" fill="#5b71b8"/>
<rect x="54.60" y="330.90" width="6.38" height="4.62" fill="#dd2025"/>
<rect x="60.93" y="330.90" width="6.38" height="4.62" fill="#f5b4b8"/>
<rect x="67.27" y="330.90" width="6.38" height="4.62" fill="#e86568"/>
<text x="75.20" y="334.79" font-size="4.62" font-style="italic" fill="#404040" stroke="#404040" stroke-width="0.080">HIST2H2BE</text>
<rect x="35.60" y="335.48" width="6.38" height="4.62" fill="#6278bf"/>
<rect x="41.93" y="335.48" width="6.38" height="4.62" fill="#5d73ba"/>
<rect x="48.27" y="335.48" width="6.38" height="4.62" fill="#6379c0"/>
<rect x="54.60" y="335.48" width="6.38" height="4.62" fill="#de2126"/>
<rect x="60.93" y="335.48" width="6.38" height="4.62" fill="#f47174"/>
<rect x="67.27" y="335.48" width="6.38" height="4.62" fill="#e66366"/>
<text x="75.20" y="339.36" font-size="4.62" font-style="italic" fill="#404040" stroke="#404040" stroke-width="0.080">BTG2</text>
<rect x="35.60" y="340.05" width="6.38" height="4.62" fill="#657bc2"/>
<rect x="41.93" y="340.05" width="6.38" height="4.62" fill="#687ec5"/>
<rect x="48.27" y="340.05" width="6.38" height="4.62" fill="#aebbe2"/>
<rect x="54.60" y="340.05" width="6.38" height="4.62" fill="#df2227"/>
<rect x="60.93" y="340.05" width="6.38" height="4.62" fill="#e76467"/>
<rect x="67.27" y="340.05" width="6.38" height="4.62" fill="#f67376"/>
<text x="75.20" y="343.94" font-size="4.62" font-style="italic" fill="#404040" stroke="#404040" stroke-width="0.080">SNX20</text>
<rect x="35.60" y="344.63" width="6.38" height="4.62" fill="#6278bf"/>
<rect x="41.93" y="344.63" width="6.38" height="4.62" fill="#a9b6dd"/>
<rect x="48.27" y="344.63" width="6.38" height="4.62" fill="#6076bd"/>
<rect x="54.60" y="344.63" width="6.38" height="4.62" fill="#ee6b6e"/>
<rect x="60.93" y="344.63" width="6.38" height="4.62" fill="#e76467"/>
<rect x="67.27" y="344.63" width="6.38" height="4.62" fill="#eb686b"/>
<text x="75.20" y="348.51" font-size="4.62" font-style="italic" fill="#404040" stroke="#404040" stroke-width="0.080">IFIT3</text>
<rect x="35.60" y="349.20" width="6.38" height="4.62" fill="#6177be"/>
<rect x="41.93" y="349.20" width="6.38" height="4.62" fill="#afbce3"/>
<rect x="48.27" y="349.20" width="6.38" height="4.62" fill="#647ac1"/>
<rect x="54.60" y="349.20" width="6.38" height="4.62" fill="#f67376"/>
<rect x="60.93" y="349.20" width="6.38" height="4.62" fill="#ec696c"/>
<rect x="67.27" y="349.20" width="6.38" height="4.62" fill="#ef6c6f"/>
<text x="75.20" y="353.09" font-size="4.62" font-style="italic" fill="#404040" stroke="#404040" stroke-width="0.080">LPXN</text>
<rect x="35.60" y="353.78" width="6.38" height="4.62" fill="#b4c1e8"/>
<rect x="41.93" y="353.78" width="6.38" height="4.62" fill="#6b81c8"/>
<rect x="48.27" y="353.78" width="6.38" height="4.62" fill="#6076bd"/>
<rect x="54.60" y="353.78" width="6.38" height="4.62" fill="#ee6b6e"/>
<rect x="60.93" y="353.78" width="6.38" height="4.62" fill="#f16e71"/>
<rect x="67.27" y="353.78" width="6.38" height="4.62" fill="#e66366"/>
<text x="75.20" y="357.66" font-size="4.62" font-style="italic" fill="#404040" stroke="#404040" stroke-width="0.080">ICAM1</text>
<rect x="35.60" y="358.35" width="6.38" height="4.62" fill="#6379c0"/>
<rect x="41.93" y="358.35" width="6.38" height="4.62" fill="#a7b4db"/>
<rect x="48.27" y="358.35" width="6.38" height="4.62" fill="#5b71b8"/>
<rect x="54.60" y="358.35" width="6.38" height="4.62" fill="#db1e23"/>
<rect x="60.93" y="358.35" width="6.38" height="4.62" fill="#f67376"/>
<rect x="67.27" y="358.35" width="6.38" height="4.62" fill="#ec696c"/>
<text x="75.20" y="362.24" font-size="4.62" font-style="italic" fill="#404040" stroke="#404040" stroke-width="0.080">STAT1</text>
<rect x="35.60" y="362.93" width="6.38" height="4.62" fill="#6b81c8"/>
<rect x="41.93" y="362.93" width="6.38" height="4.62" fill="#6a80c7"/>
<rect x="48.27" y="362.93" width="6.38" height="4.62" fill="#6278bf"/>
<rect x="54.60" y="362.93" width="6.38" height="4.62" fill="#e92c31"/>
<rect x="60.93" y="362.93" width="6.38" height="4.62" fill="#e96669"/>
<rect x="67.27" y="362.93" width="6.38" height="4.62" fill="#f37073"/>
<text x="75.20" y="366.81" font-size="4.62" font-style="italic" fill="#404040" stroke="#404040" stroke-width="0.080">ACSL5</text>
<rect x="35.60" y="367.50" width="6.38" height="4.62" fill="#445daf"/>
<rect x="41.93" y="367.50" width="6.38" height="4.62" fill="#f5f2f8"/>
<rect x="48.27" y="367.50" width="6.38" height="4.62" fill="#f9f6fc"/>
<rect x="54.60" y="367.50" width="6.38" height="4.62" fill="#e4272c"/>
<rect x="60.93" y="367.50" width="6.38" height="4.62" fill="#efecf2"/>
<rect x="67.27" y="367.50" width="6.38" height="4.62" fill="#f0edf3"/>
<text x="75.20" y="371.39" font-size="4.62" font-style="italic" fill="#404040" stroke="#404040" stroke-width="0.080">RPL36A-HNRNPH2</text>
<rect x="35.60" y="372.08" width="6.38" height="4.62" fill="#3f58aa"/>
<rect x="41.93" y="372.08" width="6.38" height="4.62" fill="#f3b2b6"/>
<rect x="48.27" y="372.08" width="6.38" height="4.62" fill="#3952a4"/>
<rect x="54.60" y="372.08" width="6.38" height="4.62" fill="#f9b8bc"/>
<rect x="60.93" y="372.08" width="6.38" height="4.62" fill="#f4f1f7"/>
<rect x="67.27" y="372.08" width="6.38" height="4.62" fill="#e76467"/>
<text x="75.20" y="375.96" font-size="4.62" font-style="italic" fill="#404040" stroke="#404040" stroke-width="0.080">SNORA70</text>
<rect x="35.60" y="376.65" width="6.38" height="4.62" fill="#3952a4"/>
<rect x="41.93" y="376.65" width="6.38" height="4.62" fill="#e9e6ec"/>
<rect x="48.27" y="376.65" width="6.38" height="4.62" fill="#3750a2"/>
<rect x="54.60" y="376.65" width="6.38" height="4.62" fill="#f5b4b8"/>
<rect x="60.93" y="376.65" width="6.38" height="4.62" fill="#fab9bd"/>
<rect x="67.27" y="376.65" width="6.38" height="4.62" fill="#e02328"/>
<text x="75.20" y="380.54" font-size="4.62" font-style="italic" fill="#404040" stroke="#404040" stroke-width="0.080">FRRS1</text>
<rect x="35.60" y="381.23" width="6.38" height="4.62" fill="#364fa1"/>
<rect x="41.93" y="381.23" width="6.38" height="4.62" fill="#ebe8ee"/>
<rect x="48.27" y="381.23" width="6.38" height="4.62" fill="#b2bfe6"/>
<rect x="54.60" y="381.23" width="6.38" height="4.62" fill="#fdbcc0"/>
<rect x="60.93" y="381.23" width="6.38" height="4.62" fill="#ef6c6f"/>
<rect x="67.27" y="381.23" width="6.38" height="4.62" fill="#ed6a6d"/>
<text x="75.20" y="385.11" font-size="4.62" font-style="italic" fill="#404040" stroke="#404040" stroke-width="0.080">BCL2A1</text>
<rect x="35.60" y="385.80" width="6.38" height="4.62" fill="#3e57a9"/>
<rect x="41.93" y="385.80" width="6.38" height="4.62" fill="#5c72b9"/>
<rect x="48.27" y="385.80" width="6.38" height="4.62" fill="#b4c1e8"/>
<rect x="54.60" y="385.80" width="6.38" height="4.62" fill="#e02328"/>
<rect x="60.93" y="385.80" width="6.38" height="4.62" fill="#e02328"/>
<rect x="67.27" y="385.80" width="6.38" height="4.62" fill="#f5b4b8"/>
<text x="75.20" y="389.69" font-size="4.62" font-style="italic" fill="#404040" stroke="#404040" stroke-width="0.080">IFIH1</text>
<rect x="35.60" y="390.38" width="6.38" height="4.62" fill="#435cae"/>
<rect x="41.93" y="390.38" width="6.38" height="4.62" fill="#5b71b8"/>
<rect x="48.27" y="390.38" width="6.38" height="4.62" fill="#aebbe2"/>
<rect x="54.60" y="390.38" width="6.38" height="4.62" fill="#f16e71"/>
<rect x="60.93" y="390.38" width="6.38" height="4.62" fill="#e5282d"/>
<rect x="67.27" y="390.38" width="6.38" height="4.62" fill="#f7b6ba"/>
<text x="75.20" y="394.26" font-size="4.62" font-style="italic" fill="#404040" stroke="#404040" stroke-width="0.080">LDLRAD4</text>
<rect x="35.60" y="394.95" width="6.38" height="4.62" fill="#3c55a7"/>
<rect x="41.93" y="394.95" width="6.38" height="4.62" fill="#a7b4db"/>
<rect x="48.27" y="394.95" width="6.38" height="4.62" fill="#afbce3"/>
<rect x="54.60" y="394.95" width="6.38" height="4.62" fill="#f3b2b6"/>
<rect x="60.93" y="394.95" width="6.38" height="4.62" fill="#e6292e"/>
<rect x="67.27" y="394.95" width="6.38" height="4.62" fill="#f2b1b5"/>
<text x="75.20" y="398.84" font-size="4.62" font-style="italic" fill="#404040" stroke="#404040" stroke-width="0.080">CYSLTR1</text>
<rect x="35.60" y="399.53" width="6.38" height="4.62" fill="#5b71b8"/>
<rect x="41.93" y="399.53" width="6.38" height="4.62" fill="#f3f0f6"/>
<rect x="48.27" y="399.53" width="6.38" height="4.62" fill="#415aac"/>
<rect x="54.60" y="399.53" width="6.38" height="4.62" fill="#efaeb2"/>
<rect x="60.93" y="399.53" width="6.38" height="4.62" fill="#ea2d32"/>
<rect x="67.27" y="399.53" width="6.38" height="4.62" fill="#f1eef4"/>
<text x="75.20" y="403.41" font-size="4.62" font-style="italic" fill="#404040" stroke="#404040" stroke-width="0.080">CCPG1</text>
<rect x="35.60" y="404.10" width="6.38" height="4.62" fill="#6b81c8"/>
<rect x="41.93" y="404.10" width="6.38" height="4.62" fill="#efecf2"/>
<rect x="48.27" y="404.10" width="6.38" height="4.62" fill="#3c55a7"/>
<rect x="54.60" y="404.10" width="6.38" height="4.62" fill="#fdbcc0"/>
<rect x="60.93" y="404.10" width="6.38" height="4.62" fill="#db1e23"/>
<rect x="67.27" y="404.10" width="6.38" height="4.62" fill="#efaeb2"/>
<text x="75.20" y="407.99" font-size="4.62" font-style="italic" fill="#404040" stroke="#404040" stroke-width="0.080">SQLE</text>
<rect x="35.60" y="408.68" width="6.38" height="4.62" fill="#6379c0"/>
<rect x="41.93" y="408.68" width="6.38" height="4.62" fill="#ebe8ee"/>
<rect x="48.27" y="408.68" width="6.38" height="4.62" fill="#3952a4"/>
<rect x="54.60" y="408.68" width="6.38" height="4.62" fill="#f9b8bc"/>
<rect x="60.93" y="408.68" width="6.38" height="4.62" fill="#dc1f24"/>
<rect x="67.27" y="408.68" width="6.38" height="4.62" fill="#f9b8bc"/>
<text x="75.20" y="412.56" font-size="4.62" font-style="italic" fill="#404040" stroke="#404040" stroke-width="0.080">MSMO1</text>
<rect x="35.60" y="413.25" width="6.38" height="4.62" fill="#5b71b8"/>
<rect x="41.93" y="413.25" width="6.38" height="4.62" fill="#f2eff5"/>
<rect x="48.27" y="413.25" width="6.38" height="4.62" fill="#3e57a9"/>
<rect x="54.60" y="413.25" width="6.38" height="4.62" fill="#ed6a6d"/>
<rect x="60.93" y="413.25" width="6.38" height="4.62" fill="#dd2025"/>
<rect x="67.27" y="413.25" width="6.38" height="4.62" fill="#fdbcc0"/>
<text x="75.20" y="417.14" font-size="4.62" font-style="italic" fill="#404040" stroke="#404040" stroke-width="0.080">SAMD9</text>
<rect x="35.60" y="417.83" width="6.38" height="4.62" fill="#aab7de"/>
<rect x="41.93" y="417.83" width="6.38" height="4.62" fill="#f5f2f8"/>
<rect x="48.27" y="417.83" width="6.38" height="4.62" fill="#3f58aa"/>
<rect x="54.60" y="417.83" width="6.38" height="4.62" fill="#f57275"/>
<rect x="60.93" y="417.83" width="6.38" height="4.62" fill="#df2227"/>
<rect x="67.27" y="417.83" width="6.38" height="4.62" fill="#f2eff5"/>
<text x="75.20" y="421.71" font-size="4.62" font-style="italic" fill="#404040" stroke="#404040" stroke-width="0.080">MGAT4A</text>
<rect x="35.60" y="422.40" width="6.38" height="4.62" fill="#aab7de"/>
<rect x="41.93" y="422.40" width="6.38" height="4.62" fill="#eae7ed"/>
<rect x="48.27" y="422.40" width="6.38" height="4.62" fill="#455eb0"/>
<rect x="54.60" y="422.40" width="6.38" height="4.62" fill="#f37073"/>
<rect x="60.93" y="422.40" width="6.38" height="4.62" fill="#f67376"/>
<rect x="67.27" y="422.40" width="6.38" height="4.62" fill="#f1b0b4"/>
<text x="75.20" y="426.29" font-size="4.62" font-style="italic" fill="#404040" stroke="#404040" stroke-width="0.080">LACC1</text>
<rect x="35.60" y="426.98" width="6.38" height="4.62" fill="#6b81c8"/>
<rect x="41.93" y="426.98" width="6.38" height="4.62" fill="#f9f6fc"/>
<rect x="48.27" y="426.98" width="6.38" height="4.62" fill="#354ea0"/>
<rect x="54.60" y="426.98" width="6.38" height="4.62" fill="#ed6a6d"/>
<rect x="60.93" y="426.98" width="6.38" height="4.62" fill="#e86568"/>
<rect x="67.27" y="426.98" width="6.38" height="4.62" fill="#edacb0"/>
<text x="75.20" y="430.86" font-size="4.62" font-style="italic" fill="#404040" stroke="#404040" stroke-width="0.080">DDX60L</text>
<rect x="35.60" y="431.55" width="6.38" height="4.62" fill="#5c72b9"/>
<rect x="41.93" y="431.55" width="6.38" height="4.62" fill="#aab7de"/>
<rect x="48.27" y="431.55" width="6.38" height="4.62" fill="#4059ab"/>
<rect x="54.60" y="431.55" width="6.38" height="4.62" fill="#e96669"/>
<rect x="60.93" y="431.55" width="6.38" height="4.62" fill="#f26f72"/>
<rect x="67.27" y="431.55" width="6.38" height="4.62" fill="#f47174"/>
<text x="75.20" y="435.44" font-size="4.62" font-style="italic" fill="#404040" stroke="#404040" stroke-width="0.080">IFI6</text>
<rect x="35.60" y="436.13" width="6.38" height="4.62" fill="#5c72b9"/>
<rect x="41.93" y="436.13" width="6.38" height="4.62" fill="#a6b3da"/>
<rect x="48.27" y="436.13" width="6.38" height="4.62" fill="#3c55a7"/>
<rect x="54.60" y="436.13" width="6.38" height="4.62" fill="#ea2d32"/>
<rect x="60.93" y="436.13" width="6.38" height="4.62" fill="#ee6b6e"/>
<rect x="67.27" y="436.13" width="6.38" height="4.62" fill="#e66366"/>
<text x="75.20" y="440.01" font-size="4.62" font-style="italic" fill="#404040" stroke="#404040" stroke-width="0.080">CYP51A1</text>
<rect x="35.60" y="440.70" width="6.38" height="4.62" fill="#b4c1e8"/>
<rect x="41.93" y="440.70" width="6.38" height="4.62" fill="#5d73ba"/>
<rect x="48.27" y="440.70" width="6.38" height="4.62" fill="#455eb0"/>
<rect x="54.60" y="440.70" width="6.38" height="4.62" fill="#dd2025"/>
<rect x="60.93" y="440.70" width="6.38" height="4.62" fill="#f67376"/>
<rect x="67.27" y="440.70" width="6.38" height="4.62" fill="#e86568"/>
<text x="75.20" y="444.59" font-size="4.62" font-style="italic" fill="#404040" stroke="#404040" stroke-width="0.080">NQO1</text>
<rect x="35.60" y="445.28" width="6.38" height="4.62" fill="#6a80c7"/>
<rect x="41.93" y="445.28" width="6.38" height="4.62" fill="#aebbe2"/>
<rect x="48.27" y="445.28" width="6.38" height="4.62" fill="#3750a2"/>
<rect x="54.60" y="445.28" width="6.38" height="4.62" fill="#e3262b"/>
<rect x="60.93" y="445.28" width="6.38" height="4.62" fill="#ed6a6d"/>
<rect x="67.27" y="445.28" width="6.38" height="4.62" fill="#f3b2b6"/>
<text x="75.20" y="449.16" font-size="4.62" font-style="italic" fill="#404040" stroke="#404040" stroke-width="0.080">SKIL</text>
<rect x="53.80" y="38.10" width="1.60" height="411.75" fill="#f2cc5a"/>
<rect x="35.60" y="105.92" width="38.00" height="1.60" fill="#f2cc5a"/>
<rect x="124.90" y="38.10" width="6.38" height="4.62" fill="#ed6a6d"/>
<rect x="131.23" y="38.10" width="6.38" height="4.62" fill="#fbbabe"/>
<rect x="137.57" y="38.10" width="6.38" height="4.62" fill="#f8f5fb"/>
<rect x="143.90" y="38.10" width="6.38" height="4.62" fill="#415aac"/>
<rect x="150.23" y="38.10" width="6.38" height="4.62" fill="#efaeb2"/>
<rect x="156.56" y="38.10" width="6.38" height="4.62" fill="#fcbbbf"/>
<text x="164.60" y="41.99" font-size="4.62" font-style="italic" fill="#404040" stroke="#404040" stroke-width="0.080">SNORA67</text>
<rect x="124.90" y="42.68" width="6.38" height="4.62" fill="#3e57a9"/>
<rect x="131.23" y="42.68" width="6.38" height="4.62" fill="#e76467"/>
<rect x="137.57" y="42.68" width="6.38" height="4.62" fill="#e12429"/>
<rect x="143.90" y="42.68" width="6.38" height="4.62" fill="#efaeb2"/>
<rect x="150.23" y="42.68" width="6.38" height="4.62" fill="#3952a4"/>
<rect x="156.56" y="42.68" width="6.38" height="4.62" fill="#f3f0f6"/>
<text x="164.60" y="46.56" font-size="4.62" font-style="italic" fill="#404040" stroke="#404040" stroke-width="0.080">SAPCD1</text>
<rect x="124.90" y="47.25" width="6.38" height="4.62" fill="#f5b4b8"/>
<rect x="131.23" y="47.25" width="6.38" height="4.62" fill="#e4272c"/>
<rect x="137.57" y="47.25" width="6.38" height="4.62" fill="#f1b0b4"/>
<rect x="143.90" y="47.25" width="6.38" height="4.62" fill="#a6b3da"/>
<rect x="150.23" y="47.25" width="6.38" height="4.62" fill="#445daf"/>
<rect x="156.56" y="47.25" width="6.38" height="4.62" fill="#a7b4db"/>
<text x="164.60" y="51.14" font-size="4.62" font-style="italic" fill="#404040" stroke="#404040" stroke-width="0.080">c9orf9</text>
<rect x="124.90" y="51.83" width="6.38" height="4.62" fill="#ea2d32"/>
<rect x="131.23" y="51.83" width="6.38" height="4.62" fill="#e3262b"/>
<rect x="137.57" y="51.83" width="6.38" height="4.62" fill="#f0afb3"/>
<rect x="143.90" y="51.83" width="6.38" height="4.62" fill="#acb9e0"/>
<rect x="150.23" y="51.83" width="6.38" height="4.62" fill="#445daf"/>
<rect x="156.56" y="51.83" width="6.38" height="4.62" fill="#f2eff5"/>
<text x="164.60" y="55.71" font-size="4.62" font-style="italic" fill="#404040" stroke="#404040" stroke-width="0.080">c16orf56</text>
<rect x="124.90" y="56.40" width="6.38" height="4.62" fill="#fdbcc0"/>
<rect x="131.23" y="56.40" width="6.38" height="4.62" fill="#ef6c6f"/>
<rect x="137.57" y="56.40" width="6.38" height="4.62" fill="#e92c31"/>
<rect x="143.90" y="56.40" width="6.38" height="4.62" fill="#435cae"/>
<rect x="150.23" y="56.40" width="6.38" height="4.62" fill="#697fc6"/>
<rect x="156.56" y="56.40" width="6.38" height="4.62" fill="#a9b6dd"/>
<text x="164.60" y="60.29" font-size="4.62" font-style="italic" fill="#404040" stroke="#404040" stroke-width="0.080">ACTA2</text>
<rect x="124.90" y="60.98" width="6.38" height="4.62" fill="#f3b2b6"/>
<rect x="131.23" y="60.98" width="6.38" height="4.62" fill="#ef6c6f"/>
<rect x="137.57" y="60.98" width="6.38" height="4.62" fill="#dd2025"/>
<rect x="143.90" y="60.98" width="6.38" height="4.62" fill="#445daf"/>
<rect x="150.23" y="60.98" width="6.38" height="4.62" fill="#5b71b8"/>
<rect x="156.56" y="60.98" width="6.38" height="4.62" fill="#afbce3"/>
<text x="164.60" y="64.86" font-size="4.62" font-style="italic" fill="#404040" stroke="#404040" stroke-width="0.080">CPS1</text>
<rect x="124.90" y="65.55" width="6.38" height="4.62" fill="#f47174"/>
<rect x="131.23" y="65.55" width="6.38" height="4.62" fill="#e86568"/>
<rect x="137.57" y="65.55" width="6.38" height="4.62" fill="#f67376"/>
<rect x="143.90" y="65.55" width="6.38" height="4.62" fill="#435cae"/>
<rect x="150.23" y="65.55" width="6.38" height="4.62" fill="#aebbe2"/>
<rect x="156.56" y="65.55" width="6.38" height="4.62" fill="#415aac"/>
<text x="164.60" y="69.44" font-size="4.62" font-style="italic" fill="#404040" stroke="#404040" stroke-width="0.080">TXNIP</text>
<rect x="124.90" y="70.12" width="6.38" height="4.62" fill="#ec696c"/>
<rect x="131.23" y="70.12" width="6.38" height="4.62" fill="#ec696c"/>
<rect x="137.57" y="70.12" width="6.38" height="4.62" fill="#e86568"/>
<rect x="143.90" y="70.12" width="6.38" height="4.62" fill="#3750a2"/>
<rect x="150.23" y="70.12" width="6.38" height="4.62" fill="#edeaf0"/>
<rect x="156.56" y="70.12" width="6.38" height="4.62" fill="#455eb0"/>
<text x="164.60" y="74.01" font-size="4.62" font-style="italic" fill="#404040" stroke="#404040" stroke-width="0.080">BCL11A</text>
<rect x="124.90" y="74.70" width="6.38" height="4.62" fill="#f5b4b8"/>
<rect x="131.23" y="74.70" width="6.38" height="4.62" fill="#f8b7bb"/>
<rect x="137.57" y="74.70" width="6.38" height="4.62" fill="#df2227"/>
<rect x="143.90" y="74.70" width="6.38" height="4.62" fill="#455eb0"/>
<rect x="150.23" y="74.70" width="6.38" height="4.62" fill="#f5b4b8"/>
<rect x="156.56" y="74.70" width="6.38" height="4.62" fill="#3851a3"/>
<text x="164.60" y="78.59" font-size="4.62" font-style="italic" fill="#404040" stroke="#404040" stroke-width="0.080">TMEM238</text>
<rect x="124.90" y="79.28" width="6.38" height="4.62" fill="#f8b7bb"/>
<rect x="131.23" y="79.28" width="6.38" height="4.62" fill="#ed6a6d"/>
<rect x="137.57" y="79.28" width="6.38" height="4.62" fill="#fcbbbf"/>
<rect x="143.90" y="79.28" width="6.38" height="4.62" fill="#f8f5fb"/>
<rect x="150.23" y="79.28" width="6.38" height="4.62" fill="#b2bfe6"/>
<rect x="156.56" y="79.28" width="6.38" height="4.62" fill="#354ea0"/>
<text x="164.60" y="83.16" font-size="4.62" font-style="italic" fill="#404040" stroke="#404040" stroke-width="0.080">HIST1H2AH</text>
<rect x="124.90" y="83.85" width="6.38" height="4.62" fill="#e02328"/>
<rect x="131.23" y="83.85" width="6.38" height="4.62" fill="#edacb0"/>
<rect x="137.57" y="83.85" width="6.38" height="4.62" fill="#fcbbbf"/>
<rect x="143.90" y="83.85" width="6.38" height="4.62" fill="#f7f4fa"/>
<rect x="150.23" y="83.85" width="6.38" height="4.62" fill="#f5f2f8"/>
<rect x="156.56" y="83.85" width="6.38" height="4.62" fill="#3e57a9"/>
<text x="164.60" y="87.74" font-size="4.62" font-style="italic" fill="#404040" stroke="#404040" stroke-width="0.080">MT1E</text>
<rect x="124.90" y="88.43" width="6.38" height="4.62" fill="#df2227"/>
<rect x="131.23" y="88.43" width="6.38" height="4.62" fill="#fab9bd"/>
<rect x="137.57" y="88.43" width="6.38" height="4.62" fill="#f8b7bb"/>
<rect x="143.90" y="88.43" width="6.38" height="4.62" fill="#f5f2f8"/>
<rect x="150.23" y="88.43" width="6.38" height="4.62" fill="#3f58aa"/>
<rect x="156.56" y="88.43" width="6.38" height="4.62" fill="#5e74bb"/>
<text x="164.60" y="92.31" font-size="4.62" font-style="italic" fill="#404040" stroke="#404040" stroke-width="0.080">MAMDC4</text>
<rect x="124.90" y="93.00" width="6.38" height="4.62" fill="#e5282d"/>
<rect x="131.23" y="93.00" width="6.38" height="4.62" fill="#edacb0"/>
<rect x="137.57" y="93.00" width="6.38" height="4.62" fill="#f7b6ba"/>
<rect x="143.90" y="93.00" width="6.38" height="4.62" fill="#b0bde4"/>
<rect x="150.23" y="93.00" width="6.38" height="4.62" fill="#677dc4"/>
<rect x="156.56" y="93.00" width="6.38" height="4.62" fill="#5e74bb"/>
<text x="164.60" y="96.89" font-size="4.62" font-style="italic" fill="#404040" stroke="#404040" stroke-width="0.080">BOLA1</text>
<rect x="124.90" y="97.58" width="6.38" height="4.62" fill="#e12429"/>
<rect x="131.23" y="97.58" width="6.38" height="4.62" fill="#e66366"/>
<rect x="137.57" y="97.58" width="6.38" height="4.62" fill="#ef6c6f"/>
<rect x="143.90" y="97.58" width="6.38" height="4.62" fill="#aebbe2"/>
<rect x="150.23" y="97.58" width="6.38" height="4.62" fill="#b1bee5"/>
<rect x="156.56" y="97.58" width="6.38" height="4.62" fill="#5d73ba"/>
<text x="164.60" y="101.46" font-size="4.62" font-style="italic" fill="#404040" stroke="#404040" stroke-width="0.080">MT1G</text>
<rect x="124.90" y="102.15" width="6.38" height="4.62" fill="#f9b8bc"/>
<rect x="131.23" y="102.15" width="6.38" height="4.62" fill="#f5f2f8"/>
<rect x="137.57" y="102.15" width="6.38" height="4.62" fill="#3750a2"/>
<rect x="143.90" y="102.15" width="6.38" height="4.62" fill="#f8b7bb"/>
<rect x="150.23" y="102.15" width="6.38" height="4.62" fill="#f6f3f9"/>
<rect x="156.56" y="102.15" width="6.38" height="4.62" fill="#ee6b6e"/>
<text x="164.60" y="106.04" font-size="4.62" font-style="italic" fill="#404040" stroke="#404040" stroke-width="0.080">HIST2H2BF</text>
<rect x="124.90" y="106.72" width="6.38" height="4.62" fill="#e76467"/>
<rect x="131.23" y="106.72" width="6.38" height="4.62" fill="#f5b4b8"/>
<rect x="137.57" y="106.72" width="6.38" height="4.62" fill="#3851a3"/>
<rect x="143.90" y="106.72" width="6.38" height="4.62" fill="#dc1f24"/>
<rect x="150.23" y="106.72" width="6.38" height="4.62" fill="#f2eff5"/>
<rect x="156.56" y="106.72" width="6.38" height="4.62" fill="#aab7de"/>
<text x="164.60" y="110.61" font-size="4.62" font-style="italic" fill="#404040" stroke="#404040" stroke-width="0.080">SCARNA17</text>
<rect x="124.90" y="111.30" width="6.38" height="4.62" fill="#e2252a"/>
<rect x="131.23" y="111.30" width="6.38" height="4.62" fill="#f5b4b8"/>
<rect x="137.57" y="111.30" width="6.38" height="4.62" fill="#687ec5"/>
<rect x="143.90" y="111.30" width="6.38" height="4.62" fill="#f67376"/>
<rect x="150.23" y="111.30" width="6.38" height="4.62" fill="#657bc2"/>
<rect x="156.56" y="111.30" width="6.38" height="4.62" fill="#6177be"/>
<text x="164.60" y="115.19" font-size="4.62" font-style="italic" fill="#404040" stroke="#404040" stroke-width="0.080">SNORA63</text>
<rect x="124.90" y="115.88" width="6.38" height="4.62" fill="#4059ab"/>
<rect x="131.23" y="115.88" width="6.38" height="4.62" fill="#e82b30"/>
<rect x="137.57" y="115.88" width="6.38" height="4.62" fill="#a6b3da"/>
<rect x="143.90" y="115.88" width="6.38" height="4.62" fill="#f9b8bc"/>
<rect x="150.23" y="115.88" width="6.38" height="4.62" fill="#acb9e0"/>
<rect x="156.56" y="115.88" width="6.38" height="4.62" fill="#dd2025"/>
<text x="164.60" y="119.76" font-size="4.62" font-style="italic" fill="#404040" stroke="#404040" stroke-width="0.080">RPL36A-HNRNPH2</text>
<rect x="124.90" y="120.45" width="6.38" height="4.62" fill="#364fa1"/>
<rect x="131.23" y="120.45" width="6.38" height="4.62" fill="#fab9bd"/>
<rect x="137.57" y="120.45" width="6.38" height="4.62" fill="#697fc6"/>
<rect x="143.90" y="120.45" width="6.38" height="4.62" fill="#f1b0b4"/>
<rect x="150.23" y="120.45" width="6.38" height="4.62" fill="#f2eff5"/>
<rect x="156.56" y="120.45" width="6.38" height="4.62" fill="#ea2d32"/>
<text x="164.60" y="124.34" font-size="4.62" font-style="italic" fill="#404040" stroke="#404040" stroke-width="0.080">MRPL42P5</text>
<rect x="124.90" y="125.03" width="6.38" height="4.62" fill="#364fa1"/>
<rect x="131.23" y="125.03" width="6.38" height="4.62" fill="#edeaf0"/>
<rect x="137.57" y="125.03" width="6.38" height="4.62" fill="#eeebf1"/>
<rect x="143.90" y="125.03" width="6.38" height="4.62" fill="#f57275"/>
<rect x="150.23" y="125.03" width="6.38" height="4.62" fill="#fab9bd"/>
<rect x="156.56" y="125.03" width="6.38" height="4.62" fill="#f06d70"/>
<text x="164.60" y="128.91" font-size="4.62" font-style="italic" fill="#404040" stroke="#404040" stroke-width="0.080">CASP1</text>
<rect x="124.90" y="129.60" width="6.38" height="4.62" fill="#3e57a9"/>
<rect x="131.23" y="129.60" width="6.38" height="4.62" fill="#647ac1"/>
<rect x="137.57" y="129.60" width="6.38" height="4.62" fill="#f1eef4"/>
<rect x="143.90" y="129.60" width="6.38" height="4.62" fill="#f5b4b8"/>
<rect x="150.23" y="129.60" width="6.38" height="4.62" fill="#f26f72"/>
<rect x="156.56" y="129.60" width="6.38" height="4.62" fill="#e2252a"/>
<text x="164.60" y="133.49" font-size="4.62" font-style="italic" fill="#404040" stroke="#404040" stroke-width="0.080">EVI2B</text>
<rect x="124.90" y="134.18" width="6.38" height="4.62" fill="#3e57a9"/>
<rect x="131.23" y="134.18" width="6.38" height="4.62" fill="#b5c2e9"/>
<rect x="137.57" y="134.18" width="6.38" height="4.62" fill="#b2bfe6"/>
<rect x="143.90" y="134.18" width="6.38" height="4.62" fill="#e96669"/>
<rect x="150.23" y="134.18" width="6.38" height="4.62" fill="#f2b1b5"/>
<rect x="156.56" y="134.18" width="6.38" height="4.62" fill="#e02328"/>
<text x="164.60" y="138.06" font-size="4.62" font-style="italic" fill="#404040" stroke="#404040" stroke-width="0.080">CTSS</text>
<rect x="124.90" y="138.75" width="6.38" height="4.62" fill="#3750a2"/>
<rect x="131.23" y="138.75" width="6.38" height="4.62" fill="#acb9e0"/>
<rect x="137.57" y="138.75" width="6.38" height="4.62" fill="#f9f6fc"/>
<rect x="143.90" y="138.75" width="6.38" height="4.62" fill="#f57275"/>
<rect x="150.23" y="138.75" width="6.38" height="4.62" fill="#f0edf3"/>
<rect x="156.56" y="138.75" width="6.38" height="4.62" fill="#e92c31"/>
<text x="164.60" y="142.64" font-size="4.62" font-style="italic" fill="#404040" stroke="#404040" stroke-width="0.080">CYSLTR1</text>
<rect x="124.90" y="143.33" width="6.38" height="4.62" fill="#3f58aa"/>
<rect x="131.23" y="143.33" width="6.38" height="4.62" fill="#697fc6"/>
<rect x="137.57" y="143.33" width="6.38" height="4.62" fill="#f6f3f9"/>
<rect x="143.90" y="143.33" width="6.38" height="4.62" fill="#ea676a"/>
<rect x="150.23" y="143.33" width="6.38" height="4.62" fill="#f3b2b6"/>
<rect x="156.56" y="143.33" width="6.38" height="4.62" fill="#e2252a"/>
<text x="164.60" y="147.21" font-size="4.62" font-style="italic" fill="#404040" stroke="#404040" stroke-width="0.080">FRRS1</text>
<rect x="124.90" y="147.90" width="6.38" height="4.62" fill="#3750a2"/>
<rect x="131.23" y="147.90" width="6.38" height="4.62" fill="#6076bd"/>
<rect x="137.57" y="147.90" width="6.38" height="4.62" fill="#f3f0f6"/>
<rect x="143.90" y="147.90" width="6.38" height="4.62" fill="#e86568"/>
<rect x="150.23" y="147.90" width="6.38" height="4.62" fill="#f3f0f6"/>
<rect x="156.56" y="147.90" width="6.38" height="4.62" fill="#e2252a"/>
<text x="164.60" y="151.79" font-size="4.62" font-style="italic" fill="#404040" stroke="#404040" stroke-width="0.080">ACSL5</text>
<rect x="124.90" y="152.47" width="6.38" height="4.62" fill="#f8b7bb"/>
<rect x="131.23" y="152.47" width="6.38" height="4.62" fill="#3d56a8"/>
<rect x="137.57" y="152.47" width="6.38" height="4.62" fill="#3b54a6"/>
<rect x="143.90" y="152.47" width="6.38" height="4.62" fill="#db1e23"/>
<rect x="150.23" y="152.47" width="6.38" height="4.62" fill="#e82b30"/>
<rect x="156.56" y="152.47" width="6.38" height="4.62" fill="#f5f2f8"/>
<text x="164.60" y="156.36" font-size="4.62" font-style="italic" fill="#404040" stroke="#404040" stroke-width="0.080">LOC284454</text>
<rect x="124.90" y="157.05" width="6.38" height="4.62" fill="#f6f3f9"/>
<rect x="131.23" y="157.05" width="6.38" height="4.62" fill="#455eb0"/>
<rect x="137.57" y="157.05" width="6.38" height="4.62" fill="#3b54a6"/>
<rect x="143.90" y="157.05" width="6.38" height="4.62" fill="#e72a2f"/>
<rect x="150.23" y="157.05" width="6.38" height="4.62" fill="#e3262b"/>
<rect x="156.56" y="157.05" width="6.38" height="4.62" fill="#f3f0f6"/>
<text x="164.60" y="160.94" font-size="4.62" font-style="italic" fill="#404040" stroke="#404040" stroke-width="0.080">SNX20</text>
<rect x="124.90" y="161.62" width="6.38" height="4.62" fill="#eae7ed"/>
<rect x="131.23" y="161.62" width="6.38" height="4.62" fill="#445daf"/>
<rect x="137.57" y="161.62" width="6.38" height="4.62" fill="#3d56a8"/>
<rect x="143.90" y="161.62" width="6.38" height="4.62" fill="#e6292e"/>
<rect x="150.23" y="161.62" width="6.38" height="4.62" fill="#f1b0b4"/>
<rect x="156.56" y="161.62" width="6.38" height="4.62" fill="#fdbcc0"/>
<text x="164.60" y="165.51" font-size="4.62" font-style="italic" fill="#404040" stroke="#404040" stroke-width="0.080">CD82</text>
<rect x="124.90" y="166.20" width="6.38" height="4.62" fill="#fdbcc0"/>
<rect x="131.23" y="166.20" width="6.38" height="4.62" fill="#3b54a6"/>
<rect x="137.57" y="166.20" width="6.38" height="4.62" fill="#3750a2"/>
<rect x="143.90" y="166.20" width="6.38" height="4.62" fill="#e3262b"/>
<rect x="150.23" y="166.20" width="6.38" height="4.62" fill="#f4b3b7"/>
<rect x="156.56" y="166.20" width="6.38" height="4.62" fill="#f9b8bc"/>
<text x="164.60" y="170.09" font-size="4.62" font-style="italic" fill="#404040" stroke="#404040" stroke-width="0.080">SNORA70</text>
<rect x="124.90" y="170.78" width="6.38" height="4.62" fill="#f5f2f8"/>
<rect x="131.23" y="170.78" width="6.38" height="4.62" fill="#435cae"/>
<rect x="137.57" y="170.78" width="6.38" height="4.62" fill="#425bad"/>
<rect x="143.90" y="170.78" width="6.38" height="4.62" fill="#ef6c6f"/>
<rect x="150.23" y="170.78" width="6.38" height="4.62" fill="#edacb0"/>
<rect x="156.56" y="170.78" width="6.38" height="4.62" fill="#ea676a"/>
<text x="164.60" y="174.66" font-size="4.62" font-style="italic" fill="#404040" stroke="#404040" stroke-width="0.080">RGS14</text>
<rect x="124.90" y="175.35" width="6.38" height="4.62" fill="#eae7ed"/>
<rect x="131.23" y="175.35" width="6.38" height="4.62" fill="#b3c0e7"/>
<rect x="137.57" y="175.35" width="6.38" height="4.62" fill="#445daf"/>
<rect x="143.90" y="175.35" width="6.38" height="4.62" fill="#fcbbbf"/>
<rect x="150.23" y="175.35" width="6.38" height="4.62" fill="#db1e23"/>
<rect x="156.56" y="175.35" width="6.38" height="4.62" fill="#e86568"/>
<text x="164.60" y="179.24" font-size="4.62" font-style="italic" fill="#404040" stroke="#404040" stroke-width="0.080">INPP1</text>
<rect x="124.90" y="179.93" width="6.38" height="4.62" fill="#f5f2f8"/>
<rect x="131.23" y="179.93" width="6.38" height="4.62" fill="#b6c3ea"/>
<rect x="137.57" y="179.93" width="6.38" height="4.62" fill="#435cae"/>
<rect x="143.90" y="179.93" width="6.38" height="4.62" fill="#fbbabe"/>
<rect x="150.23" y="179.93" width="6.38" height="4.62" fill="#ed6a6d"/>
<rect x="156.56" y="179.93" width="6.38" height="4.62" fill="#f0afb3"/>
<text x="164.60" y="183.81" font-size="4.62" font-style="italic" fill="#404040" stroke="#404040" stroke-width="0.080">SQLE</text>
<rect x="124.90" y="184.50" width="6.38" height="4.62" fill="#6278bf"/>
<rect x="131.23" y="184.50" width="6.38" height="4.62" fill="#aab7de"/>
<rect x="137.57" y="184.50" width="6.38" height="4.62" fill="#3952a4"/>
<rect x="143.90" y="184.50" width="6.38" height="4.62" fill="#f67376"/>
<rect x="150.23" y="184.50" width="6.38" height="4.62" fill="#ece9ef"/>
<rect x="156.56" y="184.50" width="6.38" height="4.62" fill="#e92c31"/>
<text x="164.60" y="188.39" font-size="4.62" font-style="italic" fill="#404040" stroke="#404040" stroke-width="0.080">LDLRAD4</text>
<rect x="124.90" y="189.07" width="6.38" height="4.62" fill="#5d73ba"/>
<rect x="131.23" y="189.07" width="6.38" height="4.62" fill="#5c72b9"/>
<rect x="137.57" y="189.07" width="6.38" height="4.62" fill="#354ea0"/>
<rect x="143.90" y="189.07" width="6.38" height="4.62" fill="#ea676a"/>
<rect x="150.23" y="189.07" width="6.38" height="4.62" fill="#f4b3b7"/>
<rect x="156.56" y="189.07" width="6.38" height="4.62" fill="#e76467"/>
<text x="164.60" y="192.96" font-size="4.62" font-style="italic" fill="#404040" stroke="#404040" stroke-width="0.080">SLC6A6</text>
<rect x="124.90" y="193.65" width="6.38" height="4.62" fill="#647ac1"/>
<rect x="131.23" y="193.65" width="6.38" height="4.62" fill="#aab7de"/>
<rect x="137.57" y="193.65" width="6.38" height="4.62" fill="#3d56a8"/>
<rect x="143.90" y="193.65" width="6.38" height="4.62" fill="#f67376"/>
<rect x="150.23" y="193.65" width="6.38" height="4.62" fill="#fab9bd"/>
<rect x="156.56" y="193.65" width="6.38" height="4.62" fill="#e96669"/>
<text x="164.60" y="197.54" font-size="4.62" font-style="italic" fill="#404040" stroke="#404040" stroke-width="0.080">UBA7</text>
<rect x="124.90" y="198.22" width="6.38" height="4.62" fill="#5e74bb"/>
<rect x="131.23" y="198.22" width="6.38" height="4.62" fill="#5d73ba"/>
<rect x="137.57" y="198.22" width="6.38" height="4.62" fill="#3e57a9"/>
<rect x="143.90" y="198.22" width="6.38" height="4.62" fill="#f67376"/>
<rect x="150.23" y="198.22" width="6.38" height="4.62" fill="#f3b2b6"/>
<rect x="156.56" y="198.22" width="6.38" height="4.62" fill="#f26f72"/>
<text x="164.60" y="202.11" font-size="4.62" font-style="italic" fill="#404040" stroke="#404040" stroke-width="0.080">TPCN1</text>
<rect x="124.90" y="202.80" width="6.38" height="4.62" fill="#f1eef4"/>
<rect x="131.23" y="202.80" width="6.38" height="4.62" fill="#6278bf"/>
<rect x="137.57" y="202.80" width="6.38" height="4.62" fill="#354ea0"/>
<rect x="143.90" y="202.80" width="6.38" height="4.62" fill="#db1e23"/>
<rect x="150.23" y="202.80" width="6.38" height="4.62" fill="#f2eff5"/>
<rect x="156.56" y="202.80" width="6.38" height="4.62" fill="#f47174"/>
<text x="164.60" y="206.69" font-size="4.62" font-style="italic" fill="#404040" stroke="#404040" stroke-width="0.080">APOBR</text>
<rect x="124.90" y="207.38" width="6.38" height="4.62" fill="#aebbe2"/>
<rect x="131.23" y="207.38" width="6.38" height="4.62" fill="#657bc2"/>
<rect x="137.57" y="207.38" width="6.38" height="4.62" fill="#6278bf"/>
<rect x="143.90" y="207.38" width="6.38" height="4.62" fill="#ea2d32"/>
<rect x="150.23" y="207.38" width="6.38" height="4.62" fill="#f9f6fc"/>
<rect x="156.56" y="207.38" width="6.38" height="4.62" fill="#f4b3b7"/>
<text x="164.60" y="211.26" font-size="4.62" font-style="italic" fill="#404040" stroke="#404040" stroke-width="0.080">PLCB2</text>
<rect x="124.90" y="211.95" width="6.38" height="4.62" fill="#adbae1"/>
<rect x="131.23" y="211.95" width="6.38" height="4.62" fill="#354ea0"/>
<rect x="137.57" y="211.95" width="6.38" height="4.62" fill="#425bad"/>
<rect x="143.90" y="211.95" width="6.38" height="4.62" fill="#ef6c6f"/>
<rect x="150.23" y="211.95" width="6.38" height="4.62" fill="#e76467"/>
<rect x="156.56" y="211.95" width="6.38" height="4.62" fill="#edacb0"/>
<text x="164.60" y="215.84" font-size="4.62" font-style="italic" fill="#404040" stroke="#404040" stroke-width="0.080">IL10RA</text>
<rect x="124.90" y="216.53" width="6.38" height="4.62" fill="#efecf2"/>
<rect x="131.23" y="216.53" width="6.38" height="4.62" fill="#445daf"/>
<rect x="137.57" y="216.53" width="6.38" height="4.62" fill="#425bad"/>
<rect x="143.90" y="216.53" width="6.38" height="4.62" fill="#e86568"/>
<rect x="150.23" y="216.53" width="6.38" height="4.62" fill="#ee6b6e"/>
<rect x="156.56" y="216.53" width="6.38" height="4.62" fill="#f4b3b7"/>
<text x="164.60" y="220.41" font-size="4.62" font-style="italic" fill="#404040" stroke="#404040" stroke-width="0.080">c16orf54</text>
<rect x="124.90" y="221.10" width="6.38" height="4.62" fill="#f6f3f9"/>
<rect x="131.23" y="221.10" width="6.38" height="4.62" fill="#4059ab"/>
<rect x="137.57" y="221.10" width="6.38" height="4.62" fill="#3c55a7"/>
<rect x="143.90" y="221.10" width="6.38" height="4.62" fill="#f57275"/>
<rect x="150.23" y="221.10" width="6.38" height="4.62" fill="#e76467"/>
<rect x="156.56" y="221.10" width="6.38" height="4.62" fill="#f7b6ba"/>
<text x="164.60" y="224.99" font-size="4.62" font-style="italic" fill="#404040" stroke="#404040" stroke-width="0.080">MXD4</text>
<rect x="124.90" y="225.68" width="6.38" height="4.62" fill="#f6f3f9"/>
<rect x="131.23" y="225.68" width="6.38" height="4.62" fill="#4059ab"/>
<rect x="137.57" y="225.68" width="6.38" height="4.62" fill="#415aac"/>
<rect x="143.90" y="225.68" width="6.38" height="4.62" fill="#ec696c"/>
<rect x="150.23" y="225.68" width="6.38" height="4.62" fill="#e66366"/>
<rect x="156.56" y="225.68" width="6.38" height="4.62" fill="#f6b5b9"/>
<text x="164.60" y="229.56" font-size="4.62" font-style="italic" fill="#404040" stroke="#404040" stroke-width="0.080">CHPF</text>
<rect x="124.90" y="230.25" width="6.38" height="4.62" fill="#f9f6fc"/>
<rect x="131.23" y="230.25" width="6.38" height="4.62" fill="#3750a2"/>
<rect x="137.57" y="230.25" width="6.38" height="4.62" fill="#3b54a6"/>
<rect x="143.90" y="230.25" width="6.38" height="4.62" fill="#f57275"/>
<rect x="150.23" y="230.25" width="6.38" height="4.62" fill="#ec696c"/>
<rect x="156.56" y="230.25" width="6.38" height="4.62" fill="#f6b5b9"/>
<text x="164.60" y="234.14" font-size="4.62" font-style="italic" fill="#404040" stroke="#404040" stroke-width="0.080">TNFAIP2</text>
<rect x="124.90" y="234.82" width="6.38" height="4.62" fill="#efecf2"/>
<rect x="131.23" y="234.82" width="6.38" height="4.62" fill="#3c55a7"/>
<rect x="137.57" y="234.82" width="6.38" height="4.62" fill="#435cae"/>
<rect x="143.90" y="234.82" width="6.38" height="4.62" fill="#e2252a"/>
<rect x="150.23" y="234.82" width="6.38" height="4.62" fill="#f5b4b8"/>
<rect x="156.56" y="234.82" width="6.38" height="4.62" fill="#f6b5b9"/>
<text x="164.60" y="238.71" font-size="4.62" font-style="italic" fill="#404040" stroke="#404040" stroke-width="0.080">HLA-B</text>
<rect x="124.90" y="239.40" width="6.38" height="4.62" fill="#ece9ef"/>
<rect x="131.23" y="239.40" width="6.38" height="4.62" fill="#b5c2e9"/>
<rect x="137.57" y="239.40" width="6.38" height="4.62" fill="#3a53a5"/>
<rect x="143.90" y="239.40" width="6.38" height="4.62" fill="#ed6a6d"/>
<rect x="150.23" y="239.40" width="6.38" height="4.62" fill="#f57275"/>
<rect x="156.56" y="239.40" width="6.38" height="4.62" fill="#fab9bd"/>
<text x="164.60" y="243.29" font-size="4.62" font-style="italic" fill="#404040" stroke="#404040" stroke-width="0.080">TNF</text>
<rect x="124.90" y="243.97" width="6.38" height="4.62" fill="#eae7ed"/>
<rect x="131.23" y="243.97" width="6.38" height="4.62" fill="#5f75bc"/>
<rect x="137.57" y="243.97" width="6.38" height="4.62" fill="#415aac"/>
<rect x="143.90" y="243.97" width="6.38" height="4.62" fill="#e76467"/>
<rect x="150.23" y="243.97" width="6.38" height="4.62" fill="#e12429"/>
<rect x="156.56" y="243.97" width="6.38" height="4.62" fill="#edacb0"/>
<text x="164.60" y="247.86" font-size="4.62" font-style="italic" fill="#404040" stroke="#404040" stroke-width="0.080">HIST1H2AC</text>
<rect x="124.90" y="248.55" width="6.38" height="4.62" fill="#edeaf0"/>
<rect x="131.23" y="248.55" width="6.38" height="4.62" fill="#687ec5"/>
<rect x="137.57" y="248.55" width="6.38" height="4.62" fill="#364fa1"/>
<rect x="143.90" y="248.55" width="6.38" height="4.62" fill="#dc1f24"/>
<rect x="150.23" y="248.55" width="6.38" height="4.62" fill="#f2b1b5"/>
<rect x="156.56" y="248.55" width="6.38" height="4.62" fill="#f26f72"/>
<text x="164.60" y="252.44" font-size="4.62" font-style="italic" fill="#404040" stroke="#404040" stroke-width="0.080">DNASE2</text>
<rect x="124.90" y="253.12" width="6.38" height="4.62" fill="#f7f4fa"/>
<rect x="131.23" y="253.12" width="6.38" height="4.62" fill="#657bc2"/>
<rect x="137.57" y="253.12" width="6.38" height="4.62" fill="#3851a3"/>
<rect x="143.90" y="253.12" width="6.38" height="4.62" fill="#dd2025"/>
<rect x="150.23" y="253.12" width="6.38" height="4.62" fill="#f2b1b5"/>
<rect x="156.56" y="253.12" width="6.38" height="4.62" fill="#f06d70"/>
<text x="164.60" y="257.01" font-size="4.62" font-style="italic" fill="#404040" stroke="#404040" stroke-width="0.080">SLC45A3</text>
<rect x="124.90" y="257.70" width="6.38" height="4.62" fill="#efecf2"/>
<rect x="131.23" y="257.70" width="6.38" height="4.62" fill="#6076bd"/>
<rect x="137.57" y="257.70" width="6.38" height="4.62" fill="#455eb0"/>
<rect x="143.90" y="257.70" width="6.38" height="4.62" fill="#e92c31"/>
<rect x="150.23" y="257.70" width="6.38" height="4.62" fill="#eeadb1"/>
<rect x="156.56" y="257.70" width="6.38" height="4.62" fill="#f6b5b9"/>
<text x="164.60" y="261.59" font-size="4.62" font-style="italic" fill="#404040" stroke="#404040" stroke-width="0.080">DOK2</text>
<rect x="124.90" y="262.28" width="6.38" height="4.62" fill="#b2bfe6"/>
<rect x="131.23" y="262.28" width="6.38" height="4.62" fill="#667cc3"/>
<rect x="137.57" y="262.28" width="6.38" height="4.62" fill="#3f58aa"/>
<rect x="143.90" y="262.28" width="6.38" height="4.62" fill="#e92c31"/>
<rect x="150.23" y="262.28" width="6.38" height="4.62" fill="#f2b1b5"/>
<rect x="156.56" y="262.28" width="6.38" height="4.62" fill="#f0afb3"/>
<text x="164.60" y="266.16" font-size="4.62" font-style="italic" fill="#404040" stroke="#404040" stroke-width="0.080">LAT</text>
<rect x="124.90" y="266.85" width="6.38" height="4.62" fill="#5b71b8"/>
<rect x="131.23" y="266.85" width="6.38" height="4.62" fill="#a8b5dc"/>
<rect x="137.57" y="266.85" width="6.38" height="4.62" fill="#3d56a8"/>
<rect x="143.90" y="266.85" width="6.38" height="4.62" fill="#dd2025"/>
<rect x="150.23" y="266.85" width="6.38" height="4.62" fill="#f16e71"/>
<rect x="156.56" y="266.85" width="6.38" height="4.62" fill="#fab9bd"/>
<text x="164.60" y="270.74" font-size="4.62" font-style="italic" fill="#404040" stroke="#404040" stroke-width="0.080">IL4I1</text>
<rect x="124.90" y="271.43" width="6.38" height="4.62" fill="#a9b6dd"/>
<rect x="131.23" y="271.43" width="6.38" height="4.62" fill="#6177be"/>
<rect x="137.57" y="271.43" width="6.38" height="4.62" fill="#415aac"/>
<rect x="143.90" y="271.43" width="6.38" height="4.62" fill="#e6292e"/>
<rect x="150.23" y="271.43" width="6.38" height="4.62" fill="#ef6c6f"/>
<rect x="156.56" y="271.43" width="6.38" height="4.62" fill="#fab9bd"/>
<text x="164.60" y="275.31" font-size="4.62" font-style="italic" fill="#404040" stroke="#404040" stroke-width="0.080">TYROBP</text>
<rect x="124.90" y="276.00" width="6.38" height="4.62" fill="#a8b5dc"/>
<rect x="131.23" y="276.00" width="6.38" height="4.62" fill="#5c72b9"/>
<rect x="137.57" y="276.00" width="6.38" height="4.62" fill="#445daf"/>
<rect x="143.90" y="276.00" width="6.38" height="4.62" fill="#e12429"/>
<rect x="150.23" y="276.00" width="6.38" height="4.62" fill="#f16e71"/>
<rect x="156.56" y="276.00" width="6.38" height="4.62" fill="#f47174"/>
<text x="164.60" y="279.89" font-size="4.62" font-style="italic" fill="#404040" stroke="#404040" stroke-width="0.080">FCGRT</text>
<rect x="124.90" y="280.58" width="6.38" height="4.62" fill="#acb9e0"/>
<rect x="131.23" y="280.58" width="6.38" height="4.62" fill="#657bc2"/>
<rect x="137.57" y="280.58" width="6.38" height="4.62" fill="#4059ab"/>
<rect x="143.90" y="280.58" width="6.38" height="4.62" fill="#ea2d32"/>
<rect x="150.23" y="280.58" width="6.38" height="4.62" fill="#edacb0"/>
<rect x="156.56" y="280.58" width="6.38" height="4.62" fill="#f37073"/>
<text x="164.60" y="284.46" font-size="4.62" font-style="italic" fill="#404040" stroke="#404040" stroke-width="0.080">ENG</text>
<rect x="124.90" y="285.15" width="6.38" height="4.62" fill="#adbae1"/>
<rect x="131.23" y="285.15" width="6.38" height="4.62" fill="#677dc4"/>
<rect x="137.57" y="285.15" width="6.38" height="4.62" fill="#364fa1"/>
<rect x="143.90" y="285.15" width="6.38" height="4.62" fill="#e72a2f"/>
<rect x="150.23" y="285.15" width="6.38" height="4.62" fill="#eeadb1"/>
<rect x="156.56" y="285.15" width="6.38" height="4.62" fill="#f47174"/>
<text x="164.60" y="289.04" font-size="4.62" font-style="italic" fill="#404040" stroke="#404040" stroke-width="0.080">BIRC7</text>
<rect x="124.90" y="289.73" width="6.38" height="4.62" fill="#a8b5dc"/>
<rect x="131.23" y="289.73" width="6.38" height="4.62" fill="#364fa1"/>
<rect x="137.57" y="289.73" width="6.38" height="4.62" fill="#f1eef4"/>
<rect x="143.90" y="289.73" width="6.38" height="4.62" fill="#e12429"/>
<rect x="150.23" y="289.73" width="6.38" height="4.62" fill="#e86568"/>
<rect x="156.56" y="289.73" width="6.38" height="4.62" fill="#f3f0f6"/>
<text x="164.60" y="293.61" font-size="4.62" font-style="italic" fill="#404040" stroke="#404040" stroke-width="0.080">TMEM150A</text>
<rect x="124.90" y="294.30" width="6.38" height="4.62" fill="#667cc3"/>
<rect x="131.23" y="294.30" width="6.38" height="4.62" fill="#3d56a8"/>
<rect x="137.57" y="294.30" width="6.38" height="4.62" fill="#f3f0f6"/>
<rect x="143.90" y="294.30" width="6.38" height="4.62" fill="#dc1f24"/>
<rect x="150.23" y="294.30" width="6.38" height="4.62" fill="#ee6b6e"/>
<rect x="156.56" y="294.30" width="6.38" height="4.62" fill="#f06d70"/>
<text x="164.60" y="298.19" font-size="4.62" font-style="italic" fill="#404040" stroke="#404040" stroke-width="0.080">APOL2</text>
<rect x="124.90" y="298.88" width="6.38" height="4.62" fill="#6379c0"/>
<rect x="131.23" y="298.88" width="6.38" height="4.62" fill="#3e57a9"/>
<rect x="137.57" y="298.88" width="6.38" height="4.62" fill="#a6b3da"/>
<rect x="143.90" y="298.88" width="6.38" height="4.62" fill="#e86568"/>
<rect x="150.23" y="298.88" width="6.38" height="4.62" fill="#e66366"/>
<rect x="156.56" y="298.88" width="6.38" height="4.62" fill="#ed6a6d"/>
<text x="164.60" y="302.76" font-size="4.62" font-style="italic" fill="#404040" stroke="#404040" stroke-width="0.080">C3AR1</text>
<rect x="124.90" y="303.45" width="6.38" height="4.62" fill="#a9b6dd"/>
<rect x="131.23" y="303.45" width="6.38" height="4.62" fill="#445daf"/>
<rect x="137.57" y="303.45" width="6.38" height="4.62" fill="#b4c1e8"/>
<rect x="143.90" y="303.45" width="6.38" height="4.62" fill="#f9b8bc"/>
<rect x="150.23" y="303.45" width="6.38" height="4.62" fill="#e3262b"/>
<rect x="156.56" y="303.45" width="6.38" height="4.62" fill="#f37073"/>
<text x="164.60" y="307.34" font-size="4.62" font-style="italic" fill="#404040" stroke="#404040" stroke-width="0.080">LPXN</text>
<rect x="124.90" y="308.03" width="6.38" height="4.62" fill="#f8f5fb"/>
<rect x="131.23" y="308.03" width="6.38" height="4.62" fill="#3952a4"/>
<rect x="137.57" y="308.03" width="6.38" height="4.62" fill="#b5c2e9"/>
<rect x="143.90" y="308.03" width="6.38" height="4.62" fill="#f3e6c5"/>
<rect x="150.23" y="308.03" width="6.38" height="4.62" fill="#db1e23"/>
<rect x="156.56" y="308.03" width="6.38" height="4.62" fill="#f6b5b9"/>
<text x="164.60" y="311.91" font-size="4.62" font-style="italic" fill="#404040" stroke="#404040" stroke-width="0.080">CD48</text>
<rect x="124.90" y="312.60" width="6.38" height="4.62" fill="#edeaf0"/>
<rect x="131.23" y="312.60" width="6.38" height="4.62" fill="#3c55a7"/>
<rect x="137.57" y="312.60" width="6.38" height="4.62" fill="#657bc2"/>
<rect x="143.90" y="312.60" width="6.38" height="4.62" fill="#f8ebca"/>
<rect x="150.23" y="312.60" width="6.38" height="4.62" fill="#e92c31"/>
<rect x="156.56" y="312.60" width="6.38" height="4.62" fill="#f8b7bb"/>
<text x="164.60" y="316.49" font-size="4.62" font-style="italic" fill="#404040" stroke="#404040" stroke-width="0.080">NQO1</text>
<rect x="124.90" y="317.18" width="6.38" height="4.62" fill="#ebe8ee"/>
<rect x="131.23" y="317.18" width="6.38" height="4.62" fill="#455eb0"/>
<rect x="137.57" y="317.18" width="6.38" height="4.62" fill="#3b54a6"/>
<rect x="143.90" y="317.18" width="6.38" height="4.62" fill="#f9b8bc"/>
<rect x="150.23" y="317.18" width="6.38" height="4.62" fill="#e02328"/>
<rect x="156.56" y="317.18" width="6.38" height="4.62" fill="#f4b3b7"/>
<text x="164.60" y="321.06" font-size="4.62" font-style="italic" fill="#404040" stroke="#404040" stroke-width="0.080">HIST2H2BE</text>
<rect x="124.90" y="321.75" width="6.38" height="4.62" fill="#f6f3f9"/>
<rect x="131.23" y="321.75" width="6.38" height="4.62" fill="#3750a2"/>
<rect x="137.57" y="321.75" width="6.38" height="4.62" fill="#364fa1"/>
<rect x="143.90" y="321.75" width="6.38" height="4.62" fill="#fcbbbf"/>
<rect x="150.23" y="321.75" width="6.38" height="4.62" fill="#e5282d"/>
<rect x="156.56" y="321.75" width="6.38" height="4.62" fill="#f2b1b5"/>
<text x="164.60" y="325.64" font-size="4.62" font-style="italic" fill="#404040" stroke="#404040" stroke-width="0.080">HIST1H2BK</text>
<rect x="124.90" y="326.33" width="6.38" height="4.62" fill="#f6f3f9"/>
<rect x="131.23" y="326.33" width="6.38" height="4.62" fill="#3851a3"/>
<rect x="137.57" y="326.33" width="6.38" height="4.62" fill="#5d73ba"/>
<rect x="143.90" y="326.33" width="6.38" height="4.62" fill="#f5b4b8"/>
<rect x="150.23" y="326.33" width="6.38" height="4.62" fill="#dd2025"/>
<rect x="156.56" y="326.33" width="6.38" height="4.62" fill="#f3b2b6"/>
<text x="164.60" y="330.21" font-size="4.62" font-style="italic" fill="#404040" stroke="#404040" stroke-width="0.080">S100A4</text>
<rect x="124.90" y="330.90" width="6.38" height="4.62" fill="#ece9ef"/>
<rect x="131.23" y="330.90" width="6.38" height="4.62" fill="#425bad"/>
<rect x="137.57" y="330.90" width="6.38" height="4.62" fill="#6a80c7"/>
<rect x="143.90" y="330.90" width="6.38" height="4.62" fill="#fbbabe"/>
<rect x="150.23" y="330.90" width="6.38" height="4.62" fill="#e02328"/>
<rect x="156.56" y="330.90" width="6.38" height="4.62" fill="#f4b3b7"/>
<text x="164.60" y="334.79" font-size="4.62" font-style="italic" fill="#404040" stroke="#404040" stroke-width="0.080">BTG2</text>
<rect x="124.90" y="335.48" width="6.38" height="4.62" fill="#edeaf0"/>
<rect x="131.23" y="335.48" width="6.38" height="4.62" fill="#425bad"/>
<rect x="137.57" y="335.48" width="6.38" height="4.62" fill="#697fc6"/>
<rect x="143.90" y="335.48" width="6.38" height="4.62" fill="#f4b3b7"/>
<rect x="150.23" y="335.48" width="6.38" height="4.62" fill="#de2126"/>
<rect x="156.56" y="335.48" width="6.38" height="4.62" fill="#f6b5b9"/>
<text x="164.60" y="339.36" font-size="4.62" font-style="italic" fill="#404040" stroke="#404040" stroke-width="0.080">ISG15</text>
<rect x="124.90" y="340.05" width="6.38" height="4.62" fill="#647ac1"/>
<rect x="131.23" y="340.05" width="6.38" height="4.62" fill="#6379c0"/>
<rect x="137.57" y="340.05" width="6.38" height="4.62" fill="#3d56a8"/>
<rect x="143.90" y="340.05" width="6.38" height="4.62" fill="#f16e71"/>
<rect x="150.23" y="340.05" width="6.38" height="4.62" fill="#e3262b"/>
<rect x="156.56" y="340.05" width="6.38" height="4.62" fill="#f5b4b8"/>
<text x="164.60" y="343.94" font-size="4.62" font-style="italic" fill="#404040" stroke="#404040" stroke-width="0.080">IFI6</text>
<rect x="124.90" y="344.63" width="6.38" height="4.62" fill="#6177be"/>
<rect x="131.23" y="344.63" width="6.38" height="4.62" fill="#435cae"/>
<rect x="137.57" y="344.63" width="6.38" height="4.62" fill="#adbae1"/>
<rect x="143.90" y="344.63" width="6.38" height="4.62" fill="#eb686b"/>
<rect x="150.23" y="344.63" width="6.38" height="4.62" fill="#ed6a6d"/>
<rect x="156.56" y="344.63" width="6.38" height="4.62" fill="#ed6a6d"/>
<text x="164.60" y="348.51" font-size="4.62" font-style="italic" fill="#404040" stroke="#404040" stroke-width="0.080">MVP</text>
<rect x="124.90" y="349.20" width="6.38" height="4.62" fill="#5f75bc"/>
<rect x="131.23" y="349.20" width="6.38" height="4.62" fill="#3e57a9"/>
<rect x="137.57" y="349.20" width="6.38" height="4.62" fill="#acb9e0"/>
<rect x="143.90" y="349.20" width="6.38" height="4.62" fill="#f06d70"/>
<rect x="150.23" y="349.20" width="6.38" height="4.62" fill="#e86568"/>
<rect x="156.56" y="349.20" width="6.38" height="4.62" fill="#f26f72"/>
<text x="164.60" y="353.09" font-size="4.62" font-style="italic" fill="#404040" stroke="#404040" stroke-width="0.080">TIMP1</text>
<rect x="124.90" y="353.78" width="6.38" height="4.62" fill="#6379c0"/>
<rect x="131.23" y="353.78" width="6.38" height="4.62" fill="#3c55a7"/>
<rect x="137.57" y="353.78" width="6.38" height="4.62" fill="#b6c3ea"/>
<rect x="143.90" y="353.78" width="6.38" height="4.62" fill="#f67376"/>
<rect x="150.23" y="353.78" width="6.38" height="4.62" fill="#ed6a6d"/>
<rect x="156.56" y="353.78" width="6.38" height="4.62" fill="#e96669"/>
<text x="164.60" y="357.66" font-size="4.62" font-style="italic" fill="#404040" stroke="#404040" stroke-width="0.080">IFI30</text>
<rect x="124.90" y="358.35" width="6.38" height="4.62" fill="#697fc6"/>
<rect x="131.23" y="358.35" width="6.38" height="4.62" fill="#364fa1"/>
<rect x="137.57" y="358.35" width="6.38" height="4.62" fill="#a9b6dd"/>
<rect x="143.90" y="358.35" width="6.38" height="4.62" fill="#e66366"/>
<rect x="150.23" y="358.35" width="6.38" height="4.62" fill="#f57275"/>
<rect x="156.56" y="358.35" width="6.38" height="4.62" fill="#ed6a6d"/>
<text x="164.60" y="362.24" font-size="4.62" font-style="italic" fill="#404040" stroke="#404040" stroke-width="0.080">ICAM1</text>
<rect x="124.90" y="362.93" width="6.38" height="4.62" fill="#697fc6"/>
<rect x="131.23" y="362.93" width="6.38" height="4.62" fill="#4059ab"/>
<rect x="137.57" y="362.93" width="6.38" height="4.62" fill="#a7b4db"/>
<rect x="143.90" y="362.93" width="6.38" height="4.62" fill="#ef6c6f"/>
<rect x="150.23" y="362.93" width="6.38" height="4.62" fill="#e2252a"/>
<rect x="156.56" y="362.93" width="6.38" height="4.62" fill="#e96669"/>
<text x="164.60" y="366.81" font-size="4.62" font-style="italic" fill="#404040" stroke="#404040" stroke-width="0.080">MIR22HG</text>
<rect x="124.90" y="367.50" width="6.38" height="4.62" fill="#5c72b9"/>
<rect x="131.23" y="367.50" width="6.38" height="4.62" fill="#3b54a6"/>
<rect x="137.57" y="367.50" width="6.38" height="4.62" fill="#acb9e0"/>
<rect x="143.90" y="367.50" width="6.38" height="4.62" fill="#e86568"/>
<rect x="150.23" y="367.50" width="6.38" height="4.62" fill="#e6292e"/>
<rect x="156.56" y="367.50" width="6.38" height="4.62" fill="#f67376"/>
<text x="164.60" y="371.39" font-size="4.62" font-style="italic" fill="#404040" stroke="#404040" stroke-width="0.080">PIK3IP1</text>
<rect x="124.90" y="372.08" width="6.38" height="4.62" fill="#6076bd"/>
<rect x="131.23" y="372.08" width="6.38" height="4.62" fill="#435cae"/>
<rect x="137.57" y="372.08" width="6.38" height="4.62" fill="#aebbe2"/>
<rect x="143.90" y="372.08" width="6.38" height="4.62" fill="#eee1c0"/>
<rect x="150.23" y="372.08" width="6.38" height="4.62" fill="#e96669"/>
<rect x="156.56" y="372.08" width="6.38" height="4.62" fill="#e6292e"/>
<text x="164.60" y="375.96" font-size="4.62" font-style="italic" fill="#404040" stroke="#404040" stroke-width="0.080">TMEM106A</text>
<rect x="124.90" y="376.65" width="6.38" height="4.62" fill="#3b54a6"/>
<rect x="131.23" y="376.65" width="6.38" height="4.62" fill="#a7b4db"/>
<rect x="137.57" y="376.65" width="6.38" height="4.62" fill="#667cc3"/>
<rect x="143.90" y="376.65" width="6.38" height="4.62" fill="#f06d70"/>
<rect x="150.23" y="376.65" width="6.38" height="4.62" fill="#ea676a"/>
<rect x="156.56" y="376.65" width="6.38" height="4.62" fill="#dc1f24"/>
<text x="164.60" y="380.54" font-size="4.62" font-style="italic" fill="#404040" stroke="#404040" stroke-width="0.080">SAMD9</text>
<rect x="124.90" y="381.23" width="6.38" height="4.62" fill="#3b54a6"/>
<rect x="131.23" y="381.23" width="6.38" height="4.62" fill="#aebbe2"/>
<rect x="137.57" y="381.23" width="6.38" height="4.62" fill="#a7b4db"/>
<rect x="143.90" y="381.23" width="6.38" height="4.62" fill="#f3b2b6"/>
<rect x="150.23" y="381.23" width="6.38" height="4.62" fill="#db1e23"/>
<rect x="156.56" y="381.23" width="6.38" height="4.62" fill="#e5282d"/>
<text x="164.60" y="385.11" font-size="4.62" font-style="italic" fill="#404040" stroke="#404040" stroke-width="0.080">DDX60L</text>
<rect x="124.90" y="385.80" width="6.38" height="4.62" fill="#425bad"/>
<rect x="131.23" y="385.80" width="6.38" height="4.62" fill="#667cc3"/>
<rect x="137.57" y="385.80" width="6.38" height="4.62" fill="#abb8df"/>
<rect x="143.90" y="385.80" width="6.38" height="4.62" fill="#f6b5b9"/>
<rect x="150.23" y="385.80" width="6.38" height="4.62" fill="#dd2025"/>
<rect x="156.56" y="385.80" width="6.38" height="4.62" fill="#ec696c"/>
<text x="164.60" y="389.69" font-size="4.62" font-style="italic" fill="#404040" stroke="#404040" stroke-width="0.080">BCL2A1</text>
<rect x="124.90" y="390.38" width="6.38" height="4.62" fill="#5c72b9"/>
<rect x="131.23" y="390.38" width="6.38" height="4.62" fill="#b5c2e9"/>
<rect x="137.57" y="390.38" width="6.38" height="4.62" fill="#445daf"/>
<rect x="143.90" y="390.38" width="6.38" height="4.62" fill="#ebe8ee"/>
<rect x="150.23" y="390.38" width="6.38" height="4.62" fill="#e82b30"/>
<rect x="156.56" y="390.38" width="6.38" height="4.62" fill="#e96669"/>
<text x="164.60" y="394.26" font-size="4.62" font-style="italic" fill="#404040" stroke="#404040" stroke-width="0.080">CCPG1</text>
<rect x="124.90" y="394.95" width="6.38" height="4.62" fill="#677dc4"/>
<rect x="131.23" y="394.95" width="6.38" height="4.62" fill="#aab7de"/>
<rect x="137.57" y="394.95" width="6.38" height="4.62" fill="#3750a2"/>
<rect x="143.90" y="394.95" width="6.38" height="4.62" fill="#f2b1b5"/>
<rect x="150.23" y="394.95" width="6.38" height="4.62" fill="#e72a2f"/>
<rect x="156.56" y="394.95" width="6.38" height="4.62" fill="#ee6b6e"/>
<text x="164.60" y="398.84" font-size="4.62" font-style="italic" fill="#404040" stroke="#404040" stroke-width="0.080">STAT1</text>
<rect x="124.90" y="399.53" width="6.38" height="4.62" fill="#425bad"/>
<rect x="131.23" y="399.53" width="6.38" height="4.62" fill="#afbce3"/>
<rect x="137.57" y="399.53" width="6.38" height="4.62" fill="#3e57a9"/>
<rect x="143.90" y="399.53" width="6.38" height="4.62" fill="#fab9bd"/>
<rect x="150.23" y="399.53" width="6.38" height="4.62" fill="#dc1f24"/>
<rect x="156.56" y="399.53" width="6.38" height="4.62" fill="#e4272c"/>
<text x="164.60" y="403.41" font-size="4.62" font-style="italic" fill="#404040" stroke="#404040" stroke-width="0.080">LACC1</text>
<rect x="124.90" y="404.10" width="6.38" height="4.62" fill="#667cc3"/>
<rect x="131.23" y="404.10" width="6.38" height="4.62" fill="#b3c0e7"/>
<rect x="137.57" y="404.10" width="6.38" height="4.62" fill="#425bad"/>
<rect x="143.90" y="404.10" width="6.38" height="4.62" fill="#edacb0"/>
<rect x="150.23" y="404.10" width="6.38" height="4.62" fill="#e6292e"/>
<rect x="156.56" y="404.10" width="6.38" height="4.62" fill="#ec696c"/>
<text x="164.60" y="407.99" font-size="4.62" font-style="italic" fill="#404040" stroke="#404040" stroke-width="0.080">CYP51A1</text>
<rect x="124.90" y="408.68" width="6.38" height="4.62" fill="#677dc4"/>
<rect x="131.23" y="408.68" width="6.38" height="4.62" fill="#b2bfe6"/>
<rect x="137.57" y="408.68" width="6.38" height="4.62" fill="#3b54a6"/>
<rect x="143.90" y="408.68" width="6.38" height="4.62" fill="#edacb0"/>
<rect x="150.23" y="408.68" width="6.38" height="4.62" fill="#e82b30"/>
<rect x="156.56" y="408.68" width="6.38" height="4.62" fill="#eb686b"/>
<text x="164.60" y="412.56" font-size="4.62" font-style="italic" fill="#404040" stroke="#404040" stroke-width="0.080">MGAT4A</text>
<rect x="124.90" y="413.25" width="6.38" height="4.62" fill="#687ec5"/>
<rect x="131.23" y="413.25" width="6.38" height="4.62" fill="#5e74bb"/>
<rect x="137.57" y="413.25" width="6.38" height="4.62" fill="#3750a2"/>
<rect x="143.90" y="413.25" width="6.38" height="4.62" fill="#f9b8bc"/>
<rect x="150.23" y="413.25" width="6.38" height="4.62" fill="#e6292e"/>
<rect x="156.56" y="413.25" width="6.38" height="4.62" fill="#f47174"/>
<text x="164.60" y="417.14" font-size="4.62" font-style="italic" fill="#404040" stroke="#404040" stroke-width="0.080">IFIT3</text>
<rect x="124.90" y="417.83" width="6.38" height="4.62" fill="#6076bd"/>
<rect x="131.23" y="417.83" width="6.38" height="4.62" fill="#5f75bc"/>
<rect x="137.57" y="417.83" width="6.38" height="4.62" fill="#354ea0"/>
<rect x="143.90" y="417.83" width="6.38" height="4.62" fill="#eeadb1"/>
<rect x="150.23" y="417.83" width="6.38" height="4.62" fill="#df2227"/>
<rect x="156.56" y="417.83" width="6.38" height="4.62" fill="#f26f72"/>
<text x="164.60" y="421.71" font-size="4.62" font-style="italic" fill="#404040" stroke="#404040" stroke-width="0.080">FUCA2</text>
<rect x="124.90" y="422.40" width="6.38" height="4.62" fill="#5d73ba"/>
<rect x="131.23" y="422.40" width="6.38" height="4.62" fill="#b1bee5"/>
<rect x="137.57" y="422.40" width="6.38" height="4.62" fill="#455eb0"/>
<rect x="143.90" y="422.40" width="6.38" height="4.62" fill="#f2b1b5"/>
<rect x="150.23" y="422.40" width="6.38" height="4.62" fill="#df2227"/>
<rect x="156.56" y="422.40" width="6.38" height="4.62" fill="#f16e71"/>
<text x="164.60" y="426.29" font-size="4.62" font-style="italic" fill="#404040" stroke="#404040" stroke-width="0.080">OAS1</text>
<rect x="124.90" y="426.98" width="6.38" height="4.62" fill="#647ac1"/>
<rect x="131.23" y="426.98" width="6.38" height="4.62" fill="#abb8df"/>
<rect x="137.57" y="426.98" width="6.38" height="4.62" fill="#455eb0"/>
<rect x="143.90" y="426.98" width="6.38" height="4.62" fill="#f2b1b5"/>
<rect x="150.23" y="426.98" width="6.38" height="4.62" fill="#dd2025"/>
<rect x="156.56" y="426.98" width="6.38" height="4.62" fill="#e96669"/>
<text x="164.60" y="430.86" font-size="4.62" font-style="italic" fill="#404040" stroke="#404040" stroke-width="0.080">IFIT2</text>
<rect x="124.90" y="431.55" width="6.38" height="4.62" fill="#677dc4"/>
<rect x="131.23" y="431.55" width="6.38" height="4.62" fill="#b5c2e9"/>
<rect x="137.57" y="431.55" width="6.38" height="4.62" fill="#3b54a6"/>
<rect x="143.90" y="431.55" width="6.38" height="4.62" fill="#f6b5b9"/>
<rect x="150.23" y="431.55" width="6.38" height="4.62" fill="#df2227"/>
<rect x="156.56" y="431.55" width="6.38" height="4.62" fill="#e76467"/>
<text x="164.60" y="435.44" font-size="4.62" font-style="italic" fill="#404040" stroke="#404040" stroke-width="0.080">IFIH1</text>
<rect x="124.90" y="436.13" width="6.38" height="4.62" fill="#6a80c7"/>
<rect x="131.23" y="436.13" width="6.38" height="4.62" fill="#b0bde4"/>
<rect x="137.57" y="436.13" width="6.38" height="4.62" fill="#364fa1"/>
<rect x="143.90" y="436.13" width="6.38" height="4.62" fill="#f9b8bc"/>
<rect x="150.23" y="436.13" width="6.38" height="4.62" fill="#dd2025"/>
<rect x="156.56" y="436.13" width="6.38" height="4.62" fill="#eb686b"/>
<text x="164.60" y="440.01" font-size="4.62" font-style="italic" fill="#404040" stroke="#404040" stroke-width="0.080">HLA-DMA</text>
<rect x="124.90" y="440.70" width="6.38" height="4.62" fill="#6278bf"/>
<rect x="131.23" y="440.70" width="6.38" height="4.62" fill="#b2bfe6"/>
<rect x="137.57" y="440.70" width="6.38" height="4.62" fill="#3b54a6"/>
<rect x="143.90" y="440.70" width="6.38" height="4.62" fill="#fcbbbf"/>
<rect x="150.23" y="440.70" width="6.38" height="4.62" fill="#e02328"/>
<rect x="156.56" y="440.70" width="6.38" height="4.62" fill="#ec696c"/>
<text x="164.60" y="444.59" font-size="4.62" font-style="italic" fill="#404040" stroke="#404040" stroke-width="0.080">MSMO1</text>
<rect x="124.90" y="445.28" width="6.38" height="4.62" fill="#5c72b9"/>
<rect x="131.23" y="445.28" width="6.38" height="4.62" fill="#b2bfe6"/>
<rect x="137.57" y="445.28" width="6.38" height="4.62" fill="#455eb0"/>
<rect x="143.90" y="445.28" width="6.38" height="4.62" fill="#f2b1b5"/>
<rect x="150.23" y="445.28" width="6.38" height="4.62" fill="#e72a2f"/>
<rect x="156.56" y="445.28" width="6.38" height="4.62" fill="#f16e71"/>
<text x="164.60" y="449.16" font-size="4.62" font-style="italic" fill="#404040" stroke="#404040" stroke-width="0.080">SKIL</text>
<rect x="143.10" y="38.10" width="1.60" height="411.75" fill="#f2cc5a"/>
<rect x="124.90" y="105.92" width="38.00" height="1.60" fill="#f2cc5a"/>
<line x1="28.00" y1="40.39" x2="35.60" y2="40.39" stroke="#9a9aa6" stroke-width="0.45"/>
<line x1="28.00" y1="40.39" x2="28.00" y2="104.44" stroke="#9a9aa6" stroke-width="0.45"/>
<line x1="23.30" y1="53.70" x2="28.00" y2="53.70" stroke="#9a9aa6" stroke-width="0.45"/>
<line x1="28.00" y1="104.44" x2="35.60" y2="104.44" stroke="#9a9aa6" stroke-width="0.45"/>
<line x1="32.30" y1="44.96" x2="35.60" y2="44.96" stroke="#9a9aa6" stroke-width="0.45"/>
<line x1="33.60" y1="49.54" x2="35.60" y2="49.54" stroke="#9a9aa6" stroke-width="0.45"/>
<line x1="31.00" y1="54.11" x2="35.60" y2="54.11" stroke="#9a9aa6" stroke-width="0.45"/>
<line x1="32.30" y1="58.69" x2="35.60" y2="58.69" stroke="#9a9aa6" stroke-width="0.45"/>
<line x1="33.60" y1="63.26" x2="35.60" y2="63.26" stroke="#9a9aa6" stroke-width="0.45"/>
<line x1="31.00" y1="67.84" x2="35.60" y2="67.84" stroke="#9a9aa6" stroke-width="0.45"/>
<line x1="32.30" y1="72.41" x2="35.60" y2="72.41" stroke="#9a9aa6" stroke-width="0.45"/>
<line x1="33.60" y1="76.99" x2="35.60" y2="76.99" stroke="#9a9aa6" stroke-width="0.45"/>
<line x1="31.00" y1="81.56" x2="35.60" y2="81.56" stroke="#9a9aa6" stroke-width="0.45"/>
<line x1="32.30" y1="86.14" x2="35.60" y2="86.14" stroke="#9a9aa6" stroke-width="0.45"/>
<line x1="33.60" y1="90.71" x2="35.60" y2="90.71" stroke="#9a9aa6" stroke-width="0.45"/>
<line x1="31.00" y1="95.29" x2="35.60" y2="95.29" stroke="#9a9aa6" stroke-width="0.45"/>
<line x1="32.30" y1="99.86" x2="35.60" y2="99.86" stroke="#9a9aa6" stroke-width="0.45"/>
<line x1="31.00" y1="44.96" x2="31.00" y2="99.86" stroke="#9a9aa6" stroke-width="0.45"/>
<line x1="33.00" y1="49.54" x2="33.00" y2="67.84" stroke="#9a9aa6" stroke-width="0.45"/>
<line x1="33.50" y1="76.99" x2="33.50" y2="95.29" stroke="#9a9aa6" stroke-width="0.45"/>
<line x1="31.40" y1="109.01" x2="31.40" y2="369.79" stroke="#9a9aa6" stroke-width="0.45"/>
<line x1="24.00" y1="259.80" x2="31.40" y2="259.80" stroke="#9a9aa6" stroke-width="0.45"/>
<line x1="34.60" y1="109.01" x2="35.60" y2="109.01" stroke="#9a9aa6" stroke-width="0.45"/>
<line x1="32.50" y1="113.59" x2="35.60" y2="113.59" stroke="#9a9aa6" stroke-width="0.45"/>
<line x1="33.20" y1="118.16" x2="35.60" y2="118.16" stroke="#9a9aa6" stroke-width="0.45"/>
<line x1="33.90" y1="122.74" x2="35.60" y2="122.74" stroke="#9a9aa6" stroke-width="0.45"/>
<line x1="34.60" y1="127.31" x2="35.60" y2="127.31" stroke="#9a9aa6" stroke-width="0.45"/>
<line x1="32.50" y1="131.89" x2="35.60" y2="131.89" stroke="#9a9aa6" stroke-width="0.45"/>
<line x1="33.20" y1="136.46" x2="35.60" y2="136.46" stroke="#9a9aa6" stroke-width="0.45"/>
<line x1="33.90" y1="141.04" x2="35.60" y2="141.04" stroke="#9a9aa6" stroke-width="0.45"/>
<line x1="34.60" y1="145.61" x2="35.60" y2="145.61" stroke="#9a9aa6" stroke-width="0.45"/>
<line x1="32.50" y1="150.19" x2="35.60" y2="150.19" stroke="#9a9aa6" stroke-width="0.45"/>
<line x1="33.20" y1="154.76" x2="35.60" y2="154.76" stroke="#9a9aa6" stroke-width="0.45"/>
<line x1="33.90" y1="159.34" x2="35.60" y2="159.34" stroke="#9a9aa6" stroke-width="0.45"/>
<line x1="34.60" y1="163.91" x2="35.60" y2="163.91" stroke="#9a9aa6" stroke-width="0.45"/>
<line x1="32.50" y1="168.49" x2="35.60" y2="168.49" stroke="#9a9aa6" stroke-width="0.45"/>
<line x1="33.20" y1="173.06" x2="35.60" y2="173.06" stroke="#9a9aa6" stroke-width="0.45"/>
<line x1="33.90" y1="177.64" x2="35.60" y2="177.64" stroke="#9a9aa6" stroke-width="0.45"/>
<line x1="34.60" y1="182.21" x2="35.60" y2="182.21" stroke="#9a9aa6" stroke-width="0.45"/>
<line x1="32.50" y1="186.79" x2="35.60" y2="186.79" stroke="#9a9aa6" stroke-width="0.45"/>
<line x1="33.20" y1="191.36" x2="35.60" y2="191.36" stroke="#9a9aa6" stroke-width="0.45"/>
<line x1="33.90" y1="195.94" x2="35.60" y2="195.94" stroke="#9a9aa6" stroke-width="0.45"/>
<line x1="34.60" y1="200.51" x2="35.60" y2="200.51" stroke="#9a9aa6" stroke-width="0.45"/>
<line x1="32.50" y1="205.09" x2="35.60" y2="205.09" stroke="#9a9aa6" stroke-width="0.45"/>
<line x1="33.20" y1="209.66" x2="35.60" y2="209.66" stroke="#9a9aa6" stroke-width="0.45"/>
<line x1="33.90" y1="214.24" x2="35.60" y2="214.24" stroke="#9a9aa6" stroke-width="0.45"/>
<line x1="34.60" y1="218.81" x2="35.60" y2="218.81" stroke="#9a9aa6" stroke-width="0.45"/>
<line x1="32.50" y1="223.39" x2="35.60" y2="223.39" stroke="#9a9aa6" stroke-width="0.45"/>
<line x1="33.20" y1="227.96" x2="35.60" y2="227.96" stroke="#9a9aa6" stroke-width="0.45"/>
<line x1="33.90" y1="232.54" x2="35.60" y2="232.54" stroke="#9a9aa6" stroke-width="0.45"/>
<line x1="34.60" y1="237.11" x2="35.60" y2="237.11" stroke="#9a9aa6" stroke-width="0.45"/>
<line x1="32.50" y1="241.69" x2="35.60" y2="241.69" stroke="#9a9aa6" stroke-width="0.45"/>
<line x1="33.20" y1="246.26" x2="35.60" y2="246.26" stroke="#9a9aa6" stroke-width="0.45"/>
<line x1="33.90" y1="250.84" x2="35.60" y2="250.84" stroke="#9a9aa6" stroke-width="0.45"/>
<line x1="34.60" y1="255.41" x2="35.60" y2="255.41" stroke="#9a9aa6" stroke-width="0.45"/>
<line x1="32.50" y1="259.99" x2="35.60" y2="259.99" stroke="#9a9aa6" stroke-width="0.45"/>
<line x1="33.20" y1="264.56" x2="35.60" y2="264.56" stroke="#9a9aa6" stroke-width="0.45"/>
<line x1="33.90" y1="269.14" x2="35.60" y2="269.14" stroke="#9a9aa6" stroke-width="0.45"/>
<line x1="34.60" y1="273.71" x2="35.60" y2="273.71" stroke="#9a9aa6" stroke-width="0.45"/>
<line x1="32.50" y1="278.29" x2="35.60" y2="278.29" stroke="#9a9aa6" stroke-width="0.45"/>
<line x1="33.20" y1="282.86" x2="35.60" y2="282.86" stroke="#9a9aa6" stroke-width="0.45"/>
<line x1="33.90" y1="287.44" x2="35.60" y2="287.44" stroke="#9a9aa6" stroke-width="0.45"/>
<line x1="34.60" y1="292.01" x2="35.60" y2="292.01" stroke="#9a9aa6" stroke-width="0.45"/>
<line x1="32.50" y1="296.59" x2="35.60" y2="296.59" stroke="#9a9aa6" stroke-width="0.45"/>
<line x1="33.20" y1="301.16" x2="35.60" y2="301.16" stroke="#9a9aa6" stroke-width="0.45"/>
<line x1="33.90" y1="305.74" x2="35.60" y2="305.74" stroke="#9a9aa6" stroke-width="0.45"/>
<line x1="34.60" y1="310.31" x2="35.60" y2="310.31" stroke="#9a9aa6" stroke-width="0.45"/>
<line x1="32.50" y1="314.89" x2="35.60" y2="314.89" stroke="#9a9aa6" stroke-width="0.45"/>
<line x1="33.20" y1="319.46" x2="35.60" y2="319.46" stroke="#9a9aa6" stroke-width="0.45"/>
<line x1="33.90" y1="324.04" x2="35.60" y2="324.04" stroke="#9a9aa6" stroke-width="0.45"/>
<line x1="34.60" y1="328.61" x2="35.60" y2="328.61" stroke="#9a9aa6" stroke-width="0.45"/>
<line x1="32.50" y1="333.19" x2="35.60" y2="333.19" stroke="#9a9aa6" stroke-width="0.45"/>
<line x1="33.20" y1="337.76" x2="35.60" y2="337.76" stroke="#9a9aa6" stroke-width="0.45"/>
<line x1="33.90" y1="342.34" x2="35.60" y2="342.34" stroke="#9a9aa6" stroke-width="0.45"/>
<line x1="34.60" y1="346.91" x2="35.60" y2="346.91" stroke="#9a9aa6" stroke-width="0.45"/>
<line x1="32.50" y1="351.49" x2="35.60" y2="351.49" stroke="#9a9aa6" stroke-width="0.45"/>
<line x1="33.20" y1="356.06" x2="35.60" y2="356.06" stroke="#9a9aa6" stroke-width="0.45"/>
<line x1="33.90" y1="360.64" x2="35.60" y2="360.64" stroke="#9a9aa6" stroke-width="0.45"/>
<line x1="34.60" y1="365.21" x2="35.60" y2="365.21" stroke="#9a9aa6" stroke-width="0.45"/>
<line x1="32.50" y1="369.79" x2="35.60" y2="369.79" stroke="#9a9aa6" stroke-width="0.45"/>
<line x1="33.20" y1="374.36" x2="35.60" y2="374.36" stroke="#9a9aa6" stroke-width="0.45"/>
<line x1="33.90" y1="378.94" x2="35.60" y2="378.94" stroke="#9a9aa6" stroke-width="0.45"/>
<line x1="34.60" y1="383.51" x2="35.60" y2="383.51" stroke="#9a9aa6" stroke-width="0.45"/>
<line x1="32.50" y1="388.09" x2="35.60" y2="388.09" stroke="#9a9aa6" stroke-width="0.45"/>
<line x1="33.20" y1="392.66" x2="35.60" y2="392.66" stroke="#9a9aa6" stroke-width="0.45"/>
<line x1="33.90" y1="397.24" x2="35.60" y2="397.24" stroke="#9a9aa6" stroke-width="0.45"/>
<line x1="34.60" y1="401.81" x2="35.60" y2="401.81" stroke="#9a9aa6" stroke-width="0.45"/>
<line x1="32.50" y1="406.39" x2="35.60" y2="406.39" stroke="#9a9aa6" stroke-width="0.45"/>
<line x1="33.20" y1="410.96" x2="35.60" y2="410.96" stroke="#9a9aa6" stroke-width="0.45"/>
<line x1="33.90" y1="415.54" x2="35.60" y2="415.54" stroke="#9a9aa6" stroke-width="0.45"/>
<line x1="34.60" y1="420.11" x2="35.60" y2="420.11" stroke="#9a9aa6" stroke-width="0.45"/>
<line x1="32.50" y1="424.69" x2="35.60" y2="424.69" stroke="#9a9aa6" stroke-width="0.45"/>
<line x1="33.20" y1="429.26" x2="35.60" y2="429.26" stroke="#9a9aa6" stroke-width="0.45"/>
<line x1="33.90" y1="433.84" x2="35.60" y2="433.84" stroke="#9a9aa6" stroke-width="0.45"/>
<line x1="34.60" y1="438.41" x2="35.60" y2="438.41" stroke="#9a9aa6" stroke-width="0.45"/>
<line x1="32.50" y1="442.99" x2="35.60" y2="442.99" stroke="#9a9aa6" stroke-width="0.45"/>
<line x1="33.20" y1="447.56" x2="35.60" y2="447.56" stroke="#9a9aa6" stroke-width="0.45"/>
<line x1="32.50" y1="113.59" x2="32.50" y2="195.94" stroke="#9a9aa6" stroke-width="0.45"/>
<line x1="33.20" y1="200.51" x2="33.20" y2="301.16" stroke="#9a9aa6" stroke-width="0.45"/>
<line x1="32.80" y1="305.74" x2="32.80" y2="365.21" stroke="#9a9aa6" stroke-width="0.45"/>
<line x1="31.40" y1="369.79" x2="31.40" y2="447.56" stroke="#9a9aa6" stroke-width="0.45"/>
<line x1="31.40" y1="369.79" x2="35.60" y2="369.79" stroke="#9a9aa6" stroke-width="0.45"/>
<line x1="31.40" y1="383.51" x2="35.60" y2="383.51" stroke="#9a9aa6" stroke-width="0.45"/>
<line x1="31.00" y1="369.79" x2="31.00" y2="383.51" stroke="#9a9aa6" stroke-width="0.45"/>
<line x1="113.50" y1="39.60" x2="124.90" y2="39.60" stroke="#7fb89a" stroke-width="0.5"/>
<line x1="113.50" y1="39.60" x2="113.50" y2="104.44" stroke="#7fb89a" stroke-width="0.5"/>
<line x1="113.50" y1="104.44" x2="118.00" y2="104.44" stroke="#7fb89a" stroke-width="0.5"/>
<line x1="118.00" y1="44.96" x2="118.00" y2="99.86" stroke="#e0a0a8" stroke-width="0.45"/>
<line x1="118.00" y1="44.96" x2="124.90" y2="44.96" stroke="#e0a0a8" stroke-width="0.45"/>
<line x1="121.90" y1="49.54" x2="124.90" y2="49.54" stroke="#e0a0a8" stroke-width="0.45"/>
<line x1="119.50" y1="54.11" x2="124.90" y2="54.11" stroke="#e0a0a8" stroke-width="0.45"/>
<line x1="120.70" y1="58.69" x2="124.90" y2="58.69" stroke="#e0a0a8" stroke-width="0.45"/>
<line x1="121.90" y1="63.26" x2="124.90" y2="63.26" stroke="#e0a0a8" stroke-width="0.45"/>
<line x1="119.50" y1="67.84" x2="124.90" y2="67.84" stroke="#e0a0a8" stroke-width="0.45"/>
<line x1="120.70" y1="72.41" x2="124.90" y2="72.41" stroke="#e0a0a8" stroke-width="0.45"/>
<line x1="121.90" y1="76.99" x2="124.90" y2="76.99" stroke="#e0a0a8" stroke-width="0.45"/>
<line x1="119.50" y1="81.56" x2="124.90" y2="81.56" stroke="#e0a0a8" stroke-width="0.45"/>
<line x1="120.70" y1="86.14" x2="124.90" y2="86.14" stroke="#e0a0a8" stroke-width="0.45"/>
<line x1="121.90" y1="90.71" x2="124.90" y2="90.71" stroke="#e0a0a8" stroke-width="0.45"/>
<line x1="119.50" y1="95.29" x2="124.90" y2="95.29" stroke="#e0a0a8" stroke-width="0.45"/>
<line x1="120.70" y1="99.86" x2="124.90" y2="99.86" stroke="#e0a0a8" stroke-width="0.45"/>
<line x1="119.50" y1="49.54" x2="119.50" y2="99.86" stroke="#e0a0a8" stroke-width="0.45"/>
<line x1="116.50" y1="106.70" x2="116.50" y2="188.80" stroke="#b4b4c4" stroke-width="0.45"/>
<line x1="112.80" y1="148.00" x2="116.50" y2="148.00" stroke="#b4b4c4" stroke-width="0.45"/>
<line x1="116.50" y1="106.70" x2="120.50" y2="106.70" stroke="#b4b4c4" stroke-width="0.45"/>
<line x1="116.50" y1="188.80" x2="119.20" y2="188.80" stroke="#b4b4c4" stroke-width="0.45"/>
<line x1="119.20" y1="160.00" x2="119.20" y2="252.00" stroke="#b4b4c4" stroke-width="0.45"/>
<line x1="119.20" y1="252.00" x2="123.00" y2="252.00" stroke="#b4b4c4" stroke-width="0.45"/>
<line x1="119.20" y1="160.00" x2="121.00" y2="160.00" stroke="#b4b4c4" stroke-width="0.45"/>
<line x1="120.50" y1="106.70" x2="120.50" y2="140.00" stroke="#b4b4c4" stroke-width="0.45"/>
<line x1="120.50" y1="140.00" x2="122.00" y2="140.00" stroke="#b4b4c4" stroke-width="0.45"/>
<line x1="120.50" y1="110.00" x2="122.00" y2="110.00" stroke="#b4b4c4" stroke-width="0.45"/>
<line x1="121.50" y1="109.01" x2="124.90" y2="109.01" stroke="#b4b4c4" stroke-width="0.45"/>
<line x1="122.40" y1="113.59" x2="124.90" y2="113.59" stroke="#b4b4c4" stroke-width="0.45"/>
<line x1="123.30" y1="118.16" x2="124.90" y2="118.16" stroke="#b4b4c4" stroke-width="0.45"/>
<line x1="121.50" y1="122.74" x2="124.90" y2="122.74" stroke="#b4b4c4" stroke-width="0.45"/>
<line x1="122.40" y1="127.31" x2="124.90" y2="127.31" stroke="#b4b4c4" stroke-width="0.45"/>
<line x1="123.30" y1="131.89" x2="124.90" y2="131.89" stroke="#b4b4c4" stroke-width="0.45"/>
<line x1="121.50" y1="136.46" x2="124.90" y2="136.46" stroke="#b4b4c4" stroke-width="0.45"/>
<line x1="122.40" y1="141.04" x2="124.90" y2="141.04" stroke="#b4b4c4" stroke-width="0.45"/>
<line x1="123.30" y1="145.61" x2="124.90" y2="145.61" stroke="#b4b4c4" stroke-width="0.45"/>
<line x1="121.50" y1="150.19" x2="124.90" y2="150.19" stroke="#b4b4c4" stroke-width="0.45"/>
<line x1="122.40" y1="154.76" x2="124.90" y2="154.76" stroke="#b4b4c4" stroke-width="0.45"/>
<line x1="123.30" y1="159.34" x2="124.90" y2="159.34" stroke="#b4b4c4" stroke-width="0.45"/>
<line x1="121.50" y1="163.91" x2="124.90" y2="163.91" stroke="#b4b4c4" stroke-width="0.45"/>
<line x1="122.40" y1="168.49" x2="124.90" y2="168.49" stroke="#b4b4c4" stroke-width="0.45"/>
<line x1="123.30" y1="173.06" x2="124.90" y2="173.06" stroke="#b4b4c4" stroke-width="0.45"/>
<line x1="121.50" y1="177.64" x2="124.90" y2="177.64" stroke="#b4b4c4" stroke-width="0.45"/>
<line x1="122.40" y1="182.21" x2="124.90" y2="182.21" stroke="#b4b4c4" stroke-width="0.45"/>
<line x1="123.30" y1="186.79" x2="124.90" y2="186.79" stroke="#b4b4c4" stroke-width="0.45"/>
<line x1="121.50" y1="191.36" x2="124.90" y2="191.36" stroke="#b4b4c4" stroke-width="0.45"/>
<line x1="122.40" y1="195.94" x2="124.90" y2="195.94" stroke="#b4b4c4" stroke-width="0.45"/>
<line x1="123.30" y1="200.51" x2="124.90" y2="200.51" stroke="#b4b4c4" stroke-width="0.45"/>
<line x1="121.50" y1="205.09" x2="124.90" y2="205.09" stroke="#b4b4c4" stroke-width="0.45"/>
<line x1="122.40" y1="209.66" x2="124.90" y2="209.66" stroke="#b4b4c4" stroke-width="0.45"/>
<line x1="123.30" y1="214.24" x2="124.90" y2="214.24" stroke="#b4b4c4" stroke-width="0.45"/>
<line x1="121.50" y1="218.81" x2="124.90" y2="218.81" stroke="#b4b4c4" stroke-width="0.45"/>
<line x1="122.40" y1="223.39" x2="124.90" y2="223.39" stroke="#b4b4c4" stroke-width="0.45"/>
<line x1="123.30" y1="227.96" x2="124.90" y2="227.96" stroke="#b4b4c4" stroke-width="0.45"/>
<line x1="121.50" y1="232.54" x2="124.90" y2="232.54" stroke="#b4b4c4" stroke-width="0.45"/>
<line x1="122.40" y1="237.11" x2="124.90" y2="237.11" stroke="#b4b4c4" stroke-width="0.45"/>
<line x1="123.30" y1="241.69" x2="124.90" y2="241.69" stroke="#b4b4c4" stroke-width="0.45"/>
<line x1="121.50" y1="246.26" x2="124.90" y2="246.26" stroke="#b4b4c4" stroke-width="0.45"/>
<line x1="122.40" y1="250.84" x2="124.90" y2="250.84" stroke="#b4b4c4" stroke-width="0.45"/>
<line x1="123.30" y1="255.41" x2="124.90" y2="255.41" stroke="#b4b4c4" stroke-width="0.45"/>
<line x1="121.50" y1="259.99" x2="124.90" y2="259.99" stroke="#b4b4c4" stroke-width="0.45"/>
<line x1="122.40" y1="264.56" x2="124.90" y2="264.56" stroke="#b4b4c4" stroke-width="0.45"/>
<line x1="123.30" y1="269.14" x2="124.90" y2="269.14" stroke="#b4b4c4" stroke-width="0.45"/>
<line x1="121.50" y1="273.71" x2="124.90" y2="273.71" stroke="#b4b4c4" stroke-width="0.45"/>
<line x1="122.40" y1="278.29" x2="124.90" y2="278.29" stroke="#b4b4c4" stroke-width="0.45"/>
<line x1="123.30" y1="282.86" x2="124.90" y2="282.86" stroke="#b4b4c4" stroke-width="0.45"/>
<line x1="121.50" y1="287.44" x2="124.90" y2="287.44" stroke="#b4b4c4" stroke-width="0.45"/>
<line x1="122.40" y1="292.01" x2="124.90" y2="292.01" stroke="#b4b4c4" stroke-width="0.45"/>
<line x1="123.30" y1="296.59" x2="124.90" y2="296.59" stroke="#b4b4c4" stroke-width="0.45"/>
<line x1="121.50" y1="301.16" x2="124.90" y2="301.16" stroke="#b4b4c4" stroke-width="0.45"/>
<line x1="122.40" y1="305.74" x2="124.90" y2="305.74" stroke="#b4b4c4" stroke-width="0.45"/>
<line x1="123.30" y1="310.31" x2="124.90" y2="310.31" stroke="#b4b4c4" stroke-width="0.45"/>
<line x1="121.50" y1="314.89" x2="124.90" y2="314.89" stroke="#b4b4c4" stroke-width="0.45"/>
<line x1="122.40" y1="319.46" x2="124.90" y2="319.46" stroke="#b4b4c4" stroke-width="0.45"/>
<line x1="123.30" y1="324.04" x2="124.90" y2="324.04" stroke="#b4b4c4" stroke-width="0.45"/>
<line x1="121.50" y1="328.61" x2="124.90" y2="328.61" stroke="#b4b4c4" stroke-width="0.45"/>
<line x1="122.40" y1="333.19" x2="124.90" y2="333.19" stroke="#b4b4c4" stroke-width="0.45"/>
<line x1="123.30" y1="337.76" x2="124.90" y2="337.76" stroke="#b4b4c4" stroke-width="0.45"/>
<line x1="121.50" y1="342.34" x2="124.90" y2="342.34" stroke="#b4b4c4" stroke-width="0.45"/>
<line x1="122.40" y1="346.91" x2="124.90" y2="346.91" stroke="#b4b4c4" stroke-width="0.45"/>
<line x1="123.30" y1="351.49" x2="124.90" y2="351.49" stroke="#b4b4c4" stroke-width="0.45"/>
<line x1="121.50" y1="356.06" x2="124.90" y2="356.06" stroke="#b4b4c4" stroke-width="0.45"/>
<line x1="122.40" y1="360.64" x2="124.90" y2="360.64" stroke="#b4b4c4" stroke-width="0.45"/>
<line x1="123.30" y1="365.21" x2="124.90" y2="365.21" stroke="#b4b4c4" stroke-width="0.45"/>
<line x1="121.50" y1="369.79" x2="124.90" y2="369.79" stroke="#b4b4c4" stroke-width="0.45"/>
<line x1="122.40" y1="374.36" x2="124.90" y2="374.36" stroke="#b4b4c4" stroke-width="0.45"/>
<line x1="123.30" y1="378.94" x2="124.90" y2="378.94" stroke="#b4b4c4" stroke-width="0.45"/>
<line x1="121.50" y1="383.51" x2="124.90" y2="383.51" stroke="#b4b4c4" stroke-width="0.45"/>
<line x1="122.40" y1="388.09" x2="124.90" y2="388.09" stroke="#b4b4c4" stroke-width="0.45"/>
<line x1="123.30" y1="392.66" x2="124.90" y2="392.66" stroke="#b4b4c4" stroke-width="0.45"/>
<line x1="121.50" y1="397.24" x2="124.90" y2="397.24" stroke="#b4b4c4" stroke-width="0.45"/>
<line x1="122.40" y1="401.81" x2="124.90" y2="401.81" stroke="#b4b4c4" stroke-width="0.45"/>
<line x1="123.30" y1="406.39" x2="124.90" y2="406.39" stroke="#b4b4c4" stroke-width="0.45"/>
<line x1="121.50" y1="410.96" x2="124.90" y2="410.96" stroke="#b4b4c4" stroke-width="0.45"/>
<line x1="122.40" y1="415.54" x2="124.90" y2="415.54" stroke="#b4b4c4" stroke-width="0.45"/>
<line x1="123.30" y1="420.11" x2="124.90" y2="420.11" stroke="#b4b4c4" stroke-width="0.45"/>
<line x1="121.50" y1="424.69" x2="124.90" y2="424.69" stroke="#b4b4c4" stroke-width="0.45"/>
<line x1="122.40" y1="429.26" x2="124.90" y2="429.26" stroke="#b4b4c4" stroke-width="0.45"/>
<line x1="123.30" y1="433.84" x2="124.90" y2="433.84" stroke="#b4b4c4" stroke-width="0.45"/>
<line x1="121.50" y1="438.41" x2="124.90" y2="438.41" stroke="#b4b4c4" stroke-width="0.45"/>
<line x1="122.40" y1="442.99" x2="124.90" y2="442.99" stroke="#b4b4c4" stroke-width="0.45"/>
<line x1="123.30" y1="447.56" x2="124.90" y2="447.56" stroke="#b4b4c4" stroke-width="0.45"/>
<line x1="121.50" y1="113.59" x2="121.50" y2="223.39" stroke="#b4b4c4" stroke-width="0.45"/>
<line x1="122.20" y1="227.96" x2="122.20" y2="360.64" stroke="#b4b4c4" stroke-width="0.45"/>
<line x1="121.80" y1="365.21" x2="121.80" y2="447.56" stroke="#b4b4c4" stroke-width="0.45"/>
<line x1="123.00" y1="252.00" x2="123.00" y2="447.56" stroke="#b4b4c4" stroke-width="0.45"/>
<defs><linearGradient id="gz" x1="0" x2="1" y1="0" y2="0"><stop offset="0" stop-color="#3249a3"/><stop offset="0.5" stop-color="#ffffff"/><stop offset="1" stop-color="#d9232b"/></linearGradient><linearGradient id="gE" x1="0" x2="1"><stop offset="0" stop-color="#ffffff"/><stop offset="1" stop-color="#c8202a"/></linearGradient><linearGradient id="gF" x1="0" x2="1"><stop offset="0" stop-color="#3249a3"/><stop offset="0.5" stop-color="#ffffff"/><stop offset="1" stop-color="#d9232b"/></linearGradient></defs>
<rect x="76.60" y="454.20" width="46.50" height="4.60" fill="url(#gz)" stroke="#444" stroke-width="0.3"/>
<text x="77.80" y="463.20" font-size="3.6" fill="#444" stroke="#444" stroke-width="0.120">−1.5</text>
<text x="100.00" y="463.20" font-size="3.6" text-anchor="middle" fill="#444" stroke="#444" stroke-width="0.120">z-score</text>
<text x="123.00" y="463.20" font-size="3.6" text-anchor="end" fill="#444" stroke="#444" stroke-width="0.120">1.5</text>
<text x="238.40" y="7.80" font-size="9.6" font-weight="bold" fill="#000">B</text>
<rect x="258.30" y="8.00" width="117.10" height="115.40" fill="none" stroke="#6d6d6d" stroke-width="0.8"/>
<text x="258.80" y="5.30" font-size="6.45" fill="#222" stroke="#222" stroke-width="0.100">+ FA: DMSO versus OTX015</text>
<line x1="256.80" y1="118.50" x2="258.30" y2="118.50" stroke="#6d6d6d" stroke-width="0.6"/>
<text x="253.90" y="121.10" font-size="7.3" text-anchor="end" fill="#222" stroke="#222" stroke-width="0.100">0</text>
<line x1="256.80" y1="95.30" x2="258.30" y2="95.30" stroke="#6d6d6d" stroke-width="0.6"/>
<text x="253.90" y="97.90" font-size="7.3" text-anchor="end" fill="#222" stroke="#222" stroke-width="0.100">1</text>
<line x1="256.80" y1="72.10" x2="258.30" y2="72.10" stroke="#6d6d6d" stroke-width="0.6"/>
<text x="253.90" y="74.70" font-size="7.3" text-anchor="end" fill="#222" stroke="#222" stroke-width="0.100">2</text>
<line x1="256.80" y1="48.90" x2="258.30" y2="48.90" stroke="#6d6d6d" stroke-width="0.6"/>
<text x="253.90" y="51.50" font-size="7.3" text-anchor="end" fill="#222" stroke="#222" stroke-width="0.100">3</text>
<line x1="256.80" y1="25.70" x2="258.30" y2="25.70" stroke="#6d6d6d" stroke-width="0.6"/>
<text x="253.90" y="28.30" font-size="7.3" text-anchor="end" fill="#222" stroke="#222" stroke-width="0.100">4</text>
<line x1="274.50" y1="123.40" x2="274.50" y2="124.90" stroke="#6d6d6d" stroke-width="0.6"/>
<text x="272.80" y="133.70" font-size="7.3" text-anchor="middle" fill="#222" stroke="#222" stroke-width="0.100">−2</text>
<line x1="295.70" y1="123.40" x2="295.70" y2="124.90" stroke="#6d6d6d" stroke-width="0.6"/>
<text x="294.00" y="133.70" font-size="7.3" text-anchor="middle" fill="#222" stroke="#222" stroke-width="0.100">−1</text>
<line x1="316.90" y1="123.40" x2="316.90" y2="124.90" stroke="#6d6d6d" stroke-width="0.6"/>
<text x="316.90" y="133.70" font-size="7.3" text-anchor="middle" fill="#222" stroke="#222" stroke-width="0.100">0</text>
<line x1="338.10" y1="123.40" x2="338.10" y2="124.90" stroke="#6d6d6d" stroke-width="0.6"/>
<text x="338.10" y="133.70" font-size="7.3" text-anchor="middle" fill="#222" stroke="#222" stroke-width="0.100">1</text>
<line x1="359.30" y1="123.40" x2="359.30" y2="124.90" stroke="#6d6d6d" stroke-width="0.6"/>
<text x="359.30" y="133.70" font-size="7.3" text-anchor="middle" fill="#222" stroke="#222" stroke-width="0.100">2</text>
<line x1="258.30" y1="88.32" x2="375.40" y2="88.32" stroke="#c4473f" stroke-width="0.8" stroke-dasharray="2.0 1.9"/>
<rect x="391.00" y="8.00" width="117.30" height="115.40" fill="none" stroke="#6d6d6d" stroke-width="0.8"/>
<text x="391.00" y="5.30" font-size="6.45" fill="#222" stroke="#222" stroke-width="0.100">– FA: DMSO versus OTX015</text>
<line x1="389.50" y1="118.50" x2="391.00" y2="118.50" stroke="#6d6d6d" stroke-width="0.6"/>
<text x="386.60" y="121.10" font-size="7.3" text-anchor="end" fill="#222" stroke="#222" stroke-width="0.100">0</text>
<line x1="389.50" y1="95.30" x2="391.00" y2="95.30" stroke="#6d6d6d" stroke-width="0.6"/>
<text x="386.60" y="97.90" font-size="7.3" text-anchor="end" fill="#222" stroke="#222" stroke-width="0.100">1</text>
<line x1="389.50" y1="72.10" x2="391.00" y2="72.10" stroke="#6d6d6d" stroke-width="0.6"/>
<text x="386.60" y="74.70" font-size="7.3" text-anchor="end" fill="#222" stroke="#222" stroke-width="0.100">2</text>
<line x1="389.50" y1="48.90" x2="391.00" y2="48.90" stroke="#6d6d6d" stroke-width="0.6"/>
<text x="386.60" y="51.50" font-size="7.3" text-anchor="end" fill="#222" stroke="#222" stroke-width="0.100">3</text>
<line x1="389.50" y1="25.70" x2="391.00" y2="25.70" stroke="#6d6d6d" stroke-width="0.6"/>
<text x="386.60" y="28.30" font-size="7.3" text-anchor="end" fill="#222" stroke="#222" stroke-width="0.100">4</text>
<line x1="407.50" y1="123.40" x2="407.50" y2="124.90" stroke="#6d6d6d" stroke-width="0.6"/>
<text x="405.80" y="133.70" font-size="7.3" text-anchor="middle" fill="#222" stroke="#222" stroke-width="0.100">−2</text>
<line x1="428.55" y1="123.40" x2="428.55" y2="124.90" stroke="#6d6d6d" stroke-width="0.6"/>
<text x="426.85" y="133.70" font-size="7.3" text-anchor="middle" fill="#222" stroke="#222" stroke-width="0.100">−1</text>
<line x1="449.60" y1="123.40" x2="449.60" y2="124.90" stroke="#6d6d6d" stroke-width="0.6"/>
<text x="449.60" y="133.70" font-size="7.3" text-anchor="middle" fill="#222" stroke="#222" stroke-width="0.100">0</text>
<line x1="470.65" y1="123.40" x2="470.65" y2="124.90" stroke="#6d6d6d" stroke-width="0.6"/>
<text x="470.65" y="133.70" font-size="7.3" text-anchor="middle" fill="#222" stroke="#222" stroke-width="0.100">1</text>
<line x1="491.70" y1="123.40" x2="491.70" y2="124.90" stroke="#6d6d6d" stroke-width="0.6"/>
<text x="491.70" y="133.70" font-size="7.3" text-anchor="middle" fill="#222" stroke="#222" stroke-width="0.100">2</text>
<line x1="391.00" y1="88.32" x2="508.30" y2="88.32" stroke="#c4473f" stroke-width="0.8" stroke-dasharray="2.0 1.9"/>
<rect x="258.30" y="154.40" width="116.90" height="115.20" fill="none" stroke="#6d6d6d" stroke-width="0.8"/>
<text x="258.70" y="150.70" font-size="6.45" fill="#222" stroke="#222" stroke-width="0.100">DMSO: + FA versus – FA</text>
<line x1="256.80" y1="264.50" x2="258.30" y2="264.50" stroke="#6d6d6d" stroke-width="0.6"/>
<text x="253.90" y="267.10" font-size="7.3" text-anchor="end" fill="#222" stroke="#222" stroke-width="0.100">0</text>
<line x1="256.80" y1="241.30" x2="258.30" y2="241.30" stroke="#6d6d6d" stroke-width="0.6"/>
<text x="253.90" y="243.90" font-size="7.3" text-anchor="end" fill="#222" stroke="#222" stroke-width="0.100">1</text>
<line x1="256.80" y1="218.10" x2="258.30" y2="218.10" stroke="#6d6d6d" stroke-width="0.6"/>
<text x="253.90" y="220.70" font-size="7.3" text-anchor="end" fill="#222" stroke="#222" stroke-width="0.100">2</text>
<line x1="256.80" y1="194.90" x2="258.30" y2="194.90" stroke="#6d6d6d" stroke-width="0.6"/>
<text x="253.90" y="197.50" font-size="7.3" text-anchor="end" fill="#222" stroke="#222" stroke-width="0.100">3</text>
<line x1="256.80" y1="171.70" x2="258.30" y2="171.70" stroke="#6d6d6d" stroke-width="0.6"/>
<text x="253.90" y="174.30" font-size="7.3" text-anchor="end" fill="#222" stroke="#222" stroke-width="0.100">4</text>
<line x1="274.50" y1="269.60" x2="274.50" y2="271.10" stroke="#6d6d6d" stroke-width="0.6"/>
<text x="272.80" y="279.90" font-size="7.3" text-anchor="middle" fill="#222" stroke="#222" stroke-width="0.100">−2</text>
<line x1="295.70" y1="269.60" x2="295.70" y2="271.10" stroke="#6d6d6d" stroke-width="0.6"/>
<text x="294.00" y="279.90" font-size="7.3" text-anchor="middle" fill="#222" stroke="#222" stroke-width="0.100">−1</text>
<line x1="316.90" y1="269.60" x2="316.90" y2="271.10" stroke="#6d6d6d" stroke-width="0.6"/>
<text x="316.90" y="279.90" font-size="7.3" text-anchor="middle" fill="#222" stroke="#222" stroke-width="0.100">0</text>
<line x1="338.10" y1="269.60" x2="338.10" y2="271.10" stroke="#6d6d6d" stroke-width="0.6"/>
<text x="338.10" y="279.90" font-size="7.3" text-anchor="middle" fill="#222" stroke="#222" stroke-width="0.100">1</text>
<line x1="359.30" y1="269.60" x2="359.30" y2="271.10" stroke="#6d6d6d" stroke-width="0.6"/>
<text x="359.30" y="279.90" font-size="7.3" text-anchor="middle" fill="#222" stroke="#222" stroke-width="0.100">2</text>
<line x1="258.30" y1="234.32" x2="375.20" y2="234.32" stroke="#c4473f" stroke-width="0.8" stroke-dasharray="2.0 1.9"/>
<rect x="391.00" y="154.40" width="117.00" height="115.20" fill="none" stroke="#6d6d6d" stroke-width="0.8"/>
<text x="392.00" y="150.70" font-size="6.45" fill="#222" stroke="#222" stroke-width="0.100">OTX015: + FA versus – FA</text>
<line x1="389.50" y1="264.50" x2="391.00" y2="264.50" stroke="#6d6d6d" stroke-width="0.6"/>
<text x="386.60" y="267.10" font-size="7.3" text-anchor="end" fill="#222" stroke="#222" stroke-width="0.100">0</text>
<line x1="389.50" y1="241.30" x2="391.00" y2="241.30" stroke="#6d6d6d" stroke-width="0.6"/>
<text x="386.60" y="243.90" font-size="7.3" text-anchor="end" fill="#222" stroke="#222" stroke-width="0.100">1</text>
<line x1="389.50" y1="218.10" x2="391.00" y2="218.10" stroke="#6d6d6d" stroke-width="0.6"/>
<text x="386.60" y="220.70" font-size="7.3" text-anchor="end" fill="#222" stroke="#222" stroke-width="0.100">2</text>
<line x1="389.50" y1="194.90" x2="391.00" y2="194.90" stroke="#6d6d6d" stroke-width="0.6"/>
<text x="386.60" y="197.50" font-size="7.3" text-anchor="end" fill="#222" stroke="#222" stroke-width="0.100">3</text>
<line x1="389.50" y1="171.70" x2="391.00" y2="171.70" stroke="#6d6d6d" stroke-width="0.6"/>
<text x="386.60" y="174.30" font-size="7.3" text-anchor="end" fill="#222" stroke="#222" stroke-width="0.100">4</text>
<line x1="407.50" y1="269.60" x2="407.50" y2="271.10" stroke="#6d6d6d" stroke-width="0.6"/>
<text x="405.80" y="279.90" font-size="7.3" text-anchor="middle" fill="#222" stroke="#222" stroke-width="0.100">−2</text>
<line x1="428.55" y1="269.60" x2="428.55" y2="271.10" stroke="#6d6d6d" stroke-width="0.6"/>
<text x="426.85" y="279.90" font-size="7.3" text-anchor="middle" fill="#222" stroke="#222" stroke-width="0.100">−1</text>
<line x1="449.60" y1="269.60" x2="449.60" y2="271.10" stroke="#6d6d6d" stroke-width="0.6"/>
<text x="449.60" y="279.90" font-size="7.3" text-anchor="middle" fill="#222" stroke="#222" stroke-width="0.100">0</text>
<line x1="470.65" y1="269.60" x2="470.65" y2="271.10" stroke="#6d6d6d" stroke-width="0.6"/>
<text x="470.65" y="279.90" font-size="7.3" text-anchor="middle" fill="#222" stroke="#222" stroke-width="0.100">1</text>
<line x1="491.70" y1="269.60" x2="491.70" y2="271.10" stroke="#6d6d6d" stroke-width="0.6"/>
<text x="491.70" y="279.90" font-size="7.3" text-anchor="middle" fill="#222" stroke="#222" stroke-width="0.100">2</text>
<line x1="391.00" y1="234.32" x2="508.00" y2="234.32" stroke="#c4473f" stroke-width="0.8" stroke-dasharray="2.0 1.9"/>
<text x="244.60" y="153.40" font-size="7.9" fill="#222" stroke="#222" stroke-width="0.263" transform="rotate(-90 244.60 153.40)">−Log<tspan font-size="5.2" dy="1.8">10</tspan><tspan dy="-1.8"> (</tspan><tspan font-style="italic">P</tspan>)</text>
<text x="313.80" y="291.70" font-size="8.55" fill="#222" stroke="#222" stroke-width="0.060">Normalized enrichment score (NES)</text>
<line x1="276.00" y1="25.00" x2="283.00" y2="25.00" stroke="#cfcfcf" stroke-width="1.0"/>
<circle cx="274.60" cy="25.00" r="2.40" fill="#7b52ab" stroke="#6a4398" stroke-width="0.3"/>
<circle cx="275.50" cy="25.00" r="2.40" fill="#7b52ab" stroke="#6a4398" stroke-width="0.3"/>
<circle cx="276.40" cy="25.00" r="2.40" fill="#7b52ab" stroke="#6a4398" stroke-width="0.3"/>
<circle cx="282.40" cy="25.00" r="2.40" fill="#7b52ab" stroke="#6a4398" stroke-width="0.3"/>
<circle cx="283.30" cy="25.00" r="2.40" fill="#7b52ab" stroke="#6a4398" stroke-width="0.3"/>
<circle cx="284.20" cy="25.00" r="2.40" fill="#7b52ab" stroke="#6a4398" stroke-width="0.3"/>
<circle cx="285.10" cy="25.00" r="2.40" fill="#7b52ab" stroke="#6a4398" stroke-width="0.3"/>
<circle cx="286.00" cy="25.00" r="2.40" fill="#7b52ab" stroke="#6a4398" stroke-width="0.3"/>
<circle cx="286.90" cy="25.00" r="2.40" fill="#7b52ab" stroke="#6a4398" stroke-width="0.3"/>
<circle cx="275.60" cy="25.00" r="1.00" fill="#a080c8"/>
<circle cx="284.00" cy="25.00" r="1.00" fill="#a080c8"/>
<line x1="339.40" y1="25.00" x2="349.00" y2="25.00" stroke="#cfcfcf" stroke-width="1.0"/>
<circle cx="349.50" cy="25.00" r="2.50" fill="#a3a3a3"/>
<circle cx="350.40" cy="25.00" r="2.50" fill="#a3a3a3"/>
<circle cx="351.30" cy="25.00" r="2.50" fill="#a3a3a3"/>
<circle cx="352.20" cy="25.00" r="2.50" fill="#a3a3a3"/>
<circle cx="353.10" cy="25.00" r="2.50" fill="#a3a3a3"/>
<circle cx="354.00" cy="25.00" r="2.50" fill="#a3a3a3"/>
<circle cx="354.90" cy="25.00" r="2.50" fill="#a3a3a3"/>
<circle cx="355.80" cy="25.00" r="2.50" fill="#a3a3a3"/>
<circle cx="356.70" cy="25.00" r="2.50" fill="#a3a3a3"/>
<circle cx="357.60" cy="25.00" r="2.50" fill="#a3a3a3"/>
<circle cx="358.50" cy="25.00" r="2.50" fill="#a3a3a3"/>
<circle cx="359.40" cy="25.00" r="2.50" fill="#a3a3a3"/>
<circle cx="360.30" cy="25.00" r="2.50" fill="#a3a3a3"/>
<circle cx="361.20" cy="25.00" r="2.50" fill="#a3a3a3"/>
<circle cx="362.10" cy="25.00" r="2.50" fill="#a3a3a3"/>
<circle cx="363.00" cy="25.00" r="2.50" fill="#a3a3a3"/>
<circle cx="363.90" cy="25.00" r="2.50" fill="#a3a3a3"/>
<circle cx="364.80" cy="25.00" r="2.50" fill="#a3a3a3"/>
<circle cx="365.70" cy="25.00" r="2.50" fill="#a3a3a3"/>
<circle cx="366.60" cy="25.00" r="2.50" fill="#a3a3a3"/>
<circle cx="367.50" cy="25.00" r="2.50" fill="#a3a3a3"/>
<circle cx="368.40" cy="25.00" r="2.50" fill="#a3a3a3"/>
<circle cx="369.30" cy="25.00" r="2.50" fill="#a3a3a3"/>
<circle cx="347.90" cy="25.00" r="1.10" fill="#111"/>
<circle cx="284.39" cy="49.11" r="2.18" fill="#a2a8a5"/>
<circle cx="283.56" cy="56.08" r="2.05" fill="#a2a8a5"/>
<circle cx="283.55" cy="54.82" r="2.27" fill="#a2a8a5"/>
<circle cx="285.80" cy="49.06" r="2.04" fill="#a2a8a5"/>
<circle cx="284.62" cy="53.64" r="1.94" fill="#a2a8a5"/>
<circle cx="285.10" cy="53.24" r="2.13" fill="#a2a8a5"/>
<circle cx="285.15" cy="52.02" r="1.62" fill="#a2a8a5"/>
<circle cx="285.36" cy="53.57" r="1.79" fill="#a2a8a5"/>
<circle cx="286.52" cy="54.87" r="1.97" fill="#a2a8a5"/>
<circle cx="285.29" cy="49.62" r="1.69" fill="#a2a8a5"/>
<circle cx="285.12" cy="49.16" r="1.67" fill="#a2a8a5"/>
<circle cx="285.44" cy="51.98" r="1.63" fill="#a2a8a5"/>
<circle cx="283.73" cy="53.73" r="2.19" fill="#a2a8a5"/>
<circle cx="285.45" cy="55.00" r="1.64" fill="#a2a8a5"/>
<circle cx="283.79" cy="60.53" r="2.36" fill="#a2a8a5"/>
<circle cx="286.57" cy="57.95" r="2.40" fill="#a2a8a5"/>
<circle cx="286.33" cy="62.12" r="1.75" fill="#a2a8a5"/>
<circle cx="284.45" cy="63.87" r="2.37" fill="#a2a8a5"/>
<circle cx="282.56" cy="63.41" r="2.23" fill="#a2a8a5"/>
<circle cx="281.98" cy="63.51" r="1.88" fill="#a2a8a5"/>
<circle cx="282.52" cy="62.29" r="2.32" fill="#a2a8a5"/>
<circle cx="286.33" cy="58.92" r="1.71" fill="#a2a8a5"/>
<circle cx="286.94" cy="60.52" r="1.77" fill="#a2a8a5"/>
<circle cx="284.53" cy="58.84" r="1.86" fill="#a2a8a5"/>
<circle cx="282.66" cy="57.26" r="1.73" fill="#a2a8a5"/>
<circle cx="285.54" cy="63.55" r="2.32" fill="#a2a8a5"/>
<circle cx="286.15" cy="58.18" r="1.69" fill="#a2a8a5"/>
<circle cx="285.29" cy="60.72" r="1.89" fill="#a2a8a5"/>
<circle cx="284.74" cy="72.73" r="2.06" fill="#a6aaa8"/>
<circle cx="282.76" cy="72.83" r="2.39" fill="#a6aaa8"/>
<circle cx="284.03" cy="70.30" r="2.24" fill="#a6aaa8"/>
<circle cx="286.66" cy="66.65" r="2.06" fill="#a6aaa8"/>
<circle cx="285.66" cy="67.60" r="1.95" fill="#a6aaa8"/>
<circle cx="285.57" cy="65.77" r="1.64" fill="#a6aaa8"/>
<circle cx="283.42" cy="72.20" r="2.11" fill="#a6aaa8"/>
<circle cx="284.88" cy="73.84" r="2.13" fill="#a6aaa8"/>
<circle cx="282.31" cy="67.13" r="1.63" fill="#a6aaa8"/>
<circle cx="285.01" cy="65.49" r="1.95" fill="#a6aaa8"/>
<circle cx="286.24" cy="69.13" r="1.71" fill="#a6aaa8"/>
<circle cx="285.17" cy="66.27" r="1.62" fill="#a6aaa8"/>
<circle cx="283.86" cy="64.03" r="1.69" fill="#a6aaa8"/>
<circle cx="283.29" cy="67.57" r="2.07" fill="#a6aaa8"/>
<circle cx="283.20" cy="69.89" r="2.10" fill="#a6aaa8"/>
<circle cx="282.89" cy="68.75" r="2.35" fill="#a6aaa8"/>
<circle cx="282.96" cy="66.44" r="1.68" fill="#a6aaa8"/>
<circle cx="286.96" cy="82.30" r="2.23" fill="#b2b2b2"/>
<circle cx="284.90" cy="79.23" r="1.61" fill="#b2b2b2"/>
<circle cx="285.91" cy="82.38" r="1.88" fill="#b2b2b2"/>
<circle cx="285.51" cy="82.39" r="2.35" fill="#b2b2b2"/>
<circle cx="284.84" cy="83.54" r="2.32" fill="#b2b2b2"/>
<circle cx="285.81" cy="74.57" r="1.92" fill="#b2b2b2"/>
<circle cx="284.20" cy="77.09" r="2.22" fill="#b2b2b2"/>
<circle cx="285.87" cy="74.16" r="2.35" fill="#b2b2b2"/>
<circle cx="284.68" cy="75.85" r="2.09" fill="#b2b2b2"/>
<circle cx="286.18" cy="80.59" r="2.25" fill="#b2b2b2"/>
<circle cx="285.05" cy="76.27" r="1.84" fill="#b2b2b2"/>
<circle cx="287.02" cy="74.63" r="2.23" fill="#b2b2b2"/>
<circle cx="284.02" cy="83.30" r="2.28" fill="#b2b2b2"/>
<circle cx="285.58" cy="83.69" r="2.19" fill="#b2b2b2"/>
<circle cx="284.77" cy="79.88" r="1.68" fill="#b2b2b2"/>
<circle cx="284.13" cy="77.02" r="1.87" fill="#b2b2b2"/>
<circle cx="286.36" cy="83.75" r="2.28" fill="#b2b2b2"/>
<circle cx="284.90" cy="83.25" r="2.04" fill="#b2b2b2"/>
<circle cx="286.68" cy="79.67" r="2.02" fill="#b2b2b2"/>
<circle cx="286.90" cy="89.39" r="2.37" fill="#bdbdbd"/>
<circle cx="287.56" cy="88.95" r="1.61" fill="#bdbdbd"/>
<circle cx="285.76" cy="89.34" r="2.20" fill="#bdbdbd"/>
<circle cx="287.19" cy="95.50" r="1.86" fill="#bdbdbd"/>
<circle cx="286.02" cy="94.92" r="1.79" fill="#bdbdbd"/>
<circle cx="286.87" cy="95.17" r="2.15" fill="#bdbdbd"/>
<circle cx="287.84" cy="92.99" r="1.98" fill="#bdbdbd"/>
<circle cx="287.05" cy="94.56" r="2.29" fill="#bdbdbd"/>
<circle cx="287.13" cy="90.93" r="2.06" fill="#bdbdbd"/>
<circle cx="285.69" cy="89.77" r="2.10" fill="#bdbdbd"/>
<circle cx="287.65" cy="87.70" r="1.72" fill="#bdbdbd"/>
<circle cx="285.40" cy="87.24" r="2.34" fill="#bdbdbd"/>
<circle cx="291.48" cy="102.90" r="0.91" fill="#c4c4c4"/>
<circle cx="290.79" cy="96.83" r="1.15" fill="#c4c4c4"/>
<circle cx="295.49" cy="109.94" r="0.93" fill="#c4c4c4"/>
<circle cx="293.78" cy="107.81" r="1.23" fill="#c4c4c4"/>
<circle cx="296.75" cy="112.39" r="0.93" fill="#c4c4c4"/>
<circle cx="297.15" cy="113.36" r="1.28" fill="#c4c4c4"/>
<circle cx="289.98" cy="98.14" r="0.94" fill="#c4c4c4"/>
<circle cx="291.15" cy="96.69" r="1.22" fill="#c4c4c4"/>
<circle cx="295.28" cy="108.68" r="1.15" fill="#c4c4c4"/>
<circle cx="290.97" cy="101.75" r="0.94" fill="#c4c4c4"/>
<circle cx="294.53" cy="111.15" r="1.03" fill="#c4c4c4"/>
<circle cx="291.72" cy="104.48" r="1.00" fill="#c4c4c4"/>
<circle cx="292.54" cy="101.65" r="1.05" fill="#c4c4c4"/>
<circle cx="293.45" cy="102.42" r="1.10" fill="#c4c4c4"/>
<circle cx="296.27" cy="113.03" r="0.91" fill="#c4c4c4"/>
<circle cx="292.73" cy="104.26" r="1.21" fill="#c4c4c4"/>
<circle cx="292.96" cy="102.94" r="1.12" fill="#c4c4c4"/>
<circle cx="292.46" cy="100.33" r="0.94" fill="#c4c4c4"/>
<circle cx="294.88" cy="112.40" r="0.90" fill="#c4c4c4"/>
<circle cx="292.10" cy="100.04" r="1.29" fill="#c4c4c4"/>
<circle cx="290.01" cy="96.09" r="1.10" fill="#c4c4c4"/>
<circle cx="294.76" cy="111.94" r="1.10" fill="#c4c4c4"/>
<circle cx="305.38" cy="115.39" r="0.78" fill="#d6d6d6"/>
<circle cx="304.48" cy="117.78" r="0.76" fill="#d6d6d6"/>
<circle cx="304.79" cy="116.80" r="0.73" fill="#d6d6d6"/>
<circle cx="302.03" cy="116.55" r="0.94" fill="#d6d6d6"/>
<circle cx="306.51" cy="116.79" r="0.89" fill="#d6d6d6"/>
<circle cx="302.83" cy="115.42" r="0.82" fill="#d6d6d6"/>
<circle cx="303.08" cy="117.56" r="0.97" fill="#d6d6d6"/>
<circle cx="300.34" cy="114.10" r="0.78" fill="#d6d6d6"/>
<circle cx="305.61" cy="117.60" r="0.81" fill="#d6d6d6"/>
<circle cx="303.94" cy="117.54" r="0.84" fill="#d6d6d6"/>
<circle cx="305.65" cy="116.13" r="0.93" fill="#d6d6d6"/>
<circle cx="303.68" cy="116.59" r="0.80" fill="#d6d6d6"/>
<circle cx="286.10" cy="63.10" r="3.40" fill="#f08a86"/>
<circle cx="286.10" cy="63.10" r="2.30" fill="#e0312d"/>
<circle cx="291.60" cy="68.20" r="0.90" fill="#111"/>
<circle cx="289.00" cy="74.30" r="0.90" fill="#111"/>
<circle cx="289.90" cy="84.90" r="0.90" fill="#111"/>
<circle cx="290.70" cy="97.70" r="0.90" fill="#111"/>
<circle cx="291.50" cy="99.50" r="0.90" fill="#111"/>
<circle cx="292.80" cy="103.60" r="0.90" fill="#111"/>
<circle cx="293.80" cy="107.00" r="0.90" fill="#111"/>
<circle cx="295.90" cy="112.10" r="0.90" fill="#111"/>
<circle cx="297.00" cy="114.50" r="0.90" fill="#111"/>
<circle cx="298.40" cy="116.90" r="1.40" fill="#d04040"/>
<circle cx="347.87" cy="67.59" r="1.10" fill="#d4d4d4"/>
<circle cx="339.02" cy="88.71" r="0.96" fill="#d4d4d4"/>
<circle cx="343.01" cy="89.84" r="0.78" fill="#d4d4d4"/>
<circle cx="347.19" cy="78.63" r="0.84" fill="#d4d4d4"/>
<circle cx="342.33" cy="68.90" r="1.12" fill="#d4d4d4"/>
<circle cx="338.51" cy="92.37" r="0.79" fill="#d4d4d4"/>
<circle cx="342.37" cy="70.91" r="1.01" fill="#d4d4d4"/>
<circle cx="342.70" cy="67.79" r="0.81" fill="#d4d4d4"/>
<circle cx="343.78" cy="97.11" r="0.76" fill="#d4d4d4"/>
<circle cx="337.55" cy="96.65" r="0.93" fill="#d4d4d4"/>
<circle cx="344.41" cy="97.42" r="1.14" fill="#d4d4d4"/>
<circle cx="340.40" cy="77.66" r="1.08" fill="#d4d4d4"/>
<circle cx="341.68" cy="65.85" r="0.93" fill="#d4d4d4"/>
<circle cx="343.87" cy="63.22" r="1.17" fill="#d4d4d4"/>
<circle cx="342.51" cy="86.96" r="1.08" fill="#d4d4d4"/>
<circle cx="339.75" cy="78.68" r="1.06" fill="#d4d4d4"/>
<circle cx="345.95" cy="76.57" r="1.24" fill="#d4d4d4"/>
<circle cx="344.19" cy="77.48" r="1.15" fill="#d4d4d4"/>
<circle cx="340.77" cy="77.16" r="1.13" fill="#d4d4d4"/>
<circle cx="344.57" cy="93.68" r="1.12" fill="#d4d4d4"/>
<circle cx="343.73" cy="92.69" r="1.08" fill="#d4d4d4"/>
<circle cx="341.50" cy="78.34" r="1.08" fill="#d4d4d4"/>
<circle cx="343.84" cy="65.52" r="1.17" fill="#d4d4d4"/>
<circle cx="343.73" cy="87.67" r="0.85" fill="#d4d4d4"/>
<circle cx="343.03" cy="77.25" r="1.07" fill="#d4d4d4"/>
<circle cx="345.28" cy="76.74" r="1.26" fill="#d4d4d4"/>
<circle cx="345.89" cy="68.59" r="1.17" fill="#d4d4d4"/>
<circle cx="343.50" cy="75.99" r="1.28" fill="#d4d4d4"/>
<circle cx="345.30" cy="63.37" r="0.80" fill="#d4d4d4"/>
<circle cx="346.59" cy="90.14" r="1.01" fill="#d4d4d4"/>
<circle cx="345.38" cy="65.64" r="1.02" fill="#d4d4d4"/>
<circle cx="342.54" cy="87.82" r="1.08" fill="#d4d4d4"/>
<circle cx="342.23" cy="91.84" r="0.95" fill="#d4d4d4"/>
<circle cx="338.69" cy="96.13" r="1.11" fill="#d4d4d4"/>
<circle cx="346.21" cy="76.13" r="0.77" fill="#d4d4d4"/>
<circle cx="340.01" cy="97.44" r="0.73" fill="#d4d4d4"/>
<circle cx="343.01" cy="71.88" r="0.71" fill="#d4d4d4"/>
<circle cx="342.70" cy="77.07" r="1.12" fill="#d4d4d4"/>
<circle cx="341.38" cy="74.68" r="0.83" fill="#d4d4d4"/>
<circle cx="346.73" cy="88.69" r="1.02" fill="#d4d4d4"/>
<circle cx="347.23" cy="69.88" r="0.94" fill="#d4d4d4"/>
<circle cx="340.53" cy="69.63" r="1.17" fill="#d4d4d4"/>
<circle cx="343.43" cy="91.14" r="0.98" fill="#d4d4d4"/>
<circle cx="340.24" cy="82.23" r="1.28" fill="#d4d4d4"/>
<circle cx="345.12" cy="74.71" r="1.19" fill="#d4d4d4"/>
<circle cx="354.42" cy="64.53" r="1.64" fill="#a8a8a8"/>
<circle cx="353.60" cy="62.39" r="2.07" fill="#a8a8a8"/>
<circle cx="355.34" cy="60.84" r="1.61" fill="#a8a8a8"/>
<circle cx="353.91" cy="61.01" r="1.74" fill="#a8a8a8"/>
<circle cx="353.31" cy="59.49" r="1.98" fill="#a8a8a8"/>
<circle cx="353.89" cy="60.25" r="1.64" fill="#a8a8a8"/>
<circle cx="354.33" cy="61.84" r="1.91" fill="#a8a8a8"/>
<circle cx="354.17" cy="63.27" r="2.14" fill="#a8a8a8"/>
<circle cx="353.44" cy="64.84" r="2.06" fill="#a8a8a8"/>
<circle cx="355.18" cy="65.25" r="1.51" fill="#a8a8a8"/>
<circle cx="354.82" cy="64.65" r="1.41" fill="#a8a8a8"/>
<circle cx="354.76" cy="66.11" r="1.92" fill="#acacac"/>
<circle cx="352.38" cy="68.50" r="1.51" fill="#acacac"/>
<circle cx="354.27" cy="68.34" r="1.68" fill="#acacac"/>
<circle cx="354.63" cy="67.53" r="2.03" fill="#acacac"/>
<circle cx="354.60" cy="67.68" r="1.89" fill="#acacac"/>
<circle cx="353.97" cy="73.81" r="2.12" fill="#acacac"/>
<circle cx="354.45" cy="73.88" r="1.56" fill="#acacac"/>
<circle cx="353.59" cy="72.93" r="1.99" fill="#acacac"/>
<circle cx="354.57" cy="70.39" r="1.84" fill="#acacac"/>
<circle cx="352.76" cy="68.64" r="1.51" fill="#acacac"/>
<circle cx="352.26" cy="70.93" r="1.77" fill="#acacac"/>
<circle cx="353.48" cy="67.44" r="1.80" fill="#acacac"/>
<circle cx="354.52" cy="71.40" r="1.41" fill="#acacac"/>
<circle cx="353.41" cy="74.41" r="1.85" fill="#acacac"/>
<circle cx="354.45" cy="72.65" r="1.70" fill="#acacac"/>
<circle cx="353.97" cy="80.19" r="1.46" fill="#b4b4b4"/>
<circle cx="352.94" cy="82.37" r="1.42" fill="#b4b4b4"/>
<circle cx="353.08" cy="82.10" r="2.15" fill="#b4b4b4"/>
<circle cx="354.04" cy="79.30" r="1.81" fill="#b4b4b4"/>
<circle cx="353.77" cy="80.85" r="1.43" fill="#b4b4b4"/>
<circle cx="352.90" cy="83.18" r="1.67" fill="#b4b4b4"/>
<circle cx="352.07" cy="84.62" r="1.78" fill="#b4b4b4"/>
<circle cx="353.37" cy="81.26" r="1.57" fill="#b4b4b4"/>
<circle cx="352.25" cy="80.35" r="1.84" fill="#b4b4b4"/>
<circle cx="351.84" cy="84.27" r="2.06" fill="#b4b4b4"/>
<circle cx="352.51" cy="80.04" r="1.62" fill="#b4b4b4"/>
<circle cx="354.02" cy="81.06" r="1.92" fill="#b4b4b4"/>
<circle cx="351.96" cy="83.92" r="1.65" fill="#b4b4b4"/>
<circle cx="352.78" cy="78.99" r="1.91" fill="#b4b4b4"/>
<circle cx="351.03" cy="83.84" r="1.98" fill="#b4b4b4"/>
<circle cx="352.65" cy="84.86" r="1.44" fill="#b4b4b4"/>
<circle cx="337.85" cy="101.61" r="0.89" fill="#c8c8c8"/>
<circle cx="335.01" cy="115.27" r="1.13" fill="#c8c8c8"/>
<circle cx="337.68" cy="112.36" r="1.11" fill="#c8c8c8"/>
<circle cx="337.91" cy="108.57" r="1.15" fill="#c8c8c8"/>
<circle cx="338.36" cy="108.12" r="0.91" fill="#c8c8c8"/>
<circle cx="336.63" cy="109.67" r="1.18" fill="#c8c8c8"/>
<circle cx="340.53" cy="97.23" r="0.82" fill="#c8c8c8"/>
<circle cx="337.83" cy="112.04" r="1.13" fill="#c8c8c8"/>
<circle cx="341.14" cy="103.12" r="1.19" fill="#c8c8c8"/>
<circle cx="336.64" cy="107.37" r="0.95" fill="#c8c8c8"/>
<circle cx="338.23" cy="104.28" r="1.02" fill="#c8c8c8"/>
<circle cx="339.15" cy="109.12" r="0.83" fill="#c8c8c8"/>
<circle cx="335.55" cy="107.49" r="0.86" fill="#c8c8c8"/>
<circle cx="335.87" cy="112.83" r="1.26" fill="#c8c8c8"/>
<circle cx="336.54" cy="104.82" r="0.99" fill="#c8c8c8"/>
<circle cx="339.63" cy="108.02" r="1.29" fill="#c8c8c8"/>
<circle cx="338.19" cy="105.46" r="0.85" fill="#c8c8c8"/>
<circle cx="335.66" cy="109.18" r="0.88" fill="#c8c8c8"/>
<circle cx="340.48" cy="95.34" r="1.14" fill="#c8c8c8"/>
<circle cx="344.11" cy="97.68" r="0.84" fill="#c8c8c8"/>
<circle cx="333.18" cy="114.13" r="0.81" fill="#c8c8c8"/>
<circle cx="335.12" cy="110.83" r="1.17" fill="#c8c8c8"/>
<circle cx="339.11" cy="99.12" r="1.19" fill="#c8c8c8"/>
<circle cx="338.11" cy="110.70" r="1.16" fill="#c8c8c8"/>
<circle cx="342.84" cy="96.85" r="1.15" fill="#c8c8c8"/>
<circle cx="340.82" cy="105.13" r="0.93" fill="#c8c8c8"/>
<circle cx="335.13" cy="116.21" r="0.81" fill="#c8c8c8"/>
<circle cx="343.59" cy="95.32" r="1.21" fill="#c8c8c8"/>
<circle cx="341.36" cy="96.75" r="1.16" fill="#c8c8c8"/>
<circle cx="343.20" cy="98.65" r="1.04" fill="#c8c8c8"/>
<circle cx="341.81" cy="96.32" r="1.09" fill="#c8c8c8"/>
<circle cx="339.80" cy="104.65" r="0.87" fill="#c8c8c8"/>
<circle cx="334.98" cy="112.54" r="1.12" fill="#c8c8c8"/>
<circle cx="336.79" cy="108.85" r="0.99" fill="#c8c8c8"/>
<circle cx="337.87" cy="112.30" r="1.19" fill="#c8c8c8"/>
<circle cx="336.77" cy="107.47" r="0.83" fill="#c8c8c8"/>
<circle cx="334.98" cy="116.43" r="1.21" fill="#c8c8c8"/>
<circle cx="340.44" cy="102.30" r="1.29" fill="#c8c8c8"/>
<circle cx="335.80" cy="113.29" r="0.95" fill="#c8c8c8"/>
<circle cx="340.90" cy="104.43" r="0.99" fill="#c8c8c8"/>
<circle cx="350.40" cy="76.00" r="0.95" fill="#111"/>
<circle cx="341.40" cy="89.70" r="0.95" fill="#111"/>
<circle cx="343.10" cy="103.60" r="0.95" fill="#111"/>
<circle cx="340.50" cy="107.40" r="0.95" fill="#111"/>
<circle cx="338.00" cy="111.00" r="0.95" fill="#111"/>
<circle cx="334.00" cy="115.50" r="0.95" fill="#111"/>
<circle cx="333.80" cy="115.50" r="0.95" fill="#111"/>
<line x1="410.00" y1="25.00" x2="424.00" y2="25.00" stroke="#cfcfcf" stroke-width="1.0"/>
<circle cx="401.60" cy="25.00" r="2.70" fill="#7b52ab" stroke="#a05878" stroke-width="0.4"/>
<circle cx="402.50" cy="25.00" r="2.70" fill="#7b52ab" stroke="#a05878" stroke-width="0.4"/>
<circle cx="403.40" cy="25.00" r="2.70" fill="#7b52ab" stroke="#a05878" stroke-width="0.4"/>
<circle cx="404.30" cy="25.00" r="2.70" fill="#7b52ab" stroke="#a05878" stroke-width="0.4"/>
<circle cx="405.20" cy="25.00" r="2.70" fill="#7b52ab" stroke="#a05878" stroke-width="0.4"/>
<circle cx="406.10" cy="25.00" r="2.70" fill="#7b52ab" stroke="#a05878" stroke-width="0.4"/>
<circle cx="407.00" cy="25.00" r="2.70" fill="#7b52ab" stroke="#a05878" stroke-width="0.4"/>
<circle cx="407.90" cy="25.00" r="2.70" fill="#7b52ab" stroke="#a05878" stroke-width="0.4"/>
<circle cx="408.80" cy="25.00" r="2.70" fill="#7b52ab" stroke="#a05878" stroke-width="0.4"/>
<circle cx="409.70" cy="25.00" r="2.70" fill="#7b52ab" stroke="#a05878" stroke-width="0.4"/>
<circle cx="410.60" cy="25.00" r="2.70" fill="#7b52ab" stroke="#a05878" stroke-width="0.4"/>
<circle cx="411.50" cy="25.00" r="2.70" fill="#7b52ab" stroke="#a05878" stroke-width="0.4"/>
<circle cx="412.40" cy="25.00" r="2.70" fill="#7b52ab" stroke="#a05878" stroke-width="0.4"/>
<circle cx="413.30" cy="25.00" r="2.70" fill="#7b52ab" stroke="#a05878" stroke-width="0.4"/>
<circle cx="414.20" cy="25.00" r="2.70" fill="#7b52ab" stroke="#a05878" stroke-width="0.4"/>
<circle cx="415.10" cy="25.00" r="2.70" fill="#7b52ab" stroke="#a05878" stroke-width="0.4"/>
<circle cx="416.00" cy="25.00" r="2.70" fill="#7b52ab" stroke="#a05878" stroke-width="0.4"/>
<circle cx="416.90" cy="25.00" r="2.70" fill="#7b52ab" stroke="#a05878" stroke-width="0.4"/>
<circle cx="417.80" cy="25.00" r="2.70" fill="#7b52ab" stroke="#a05878" stroke-width="0.4"/>
<circle cx="418.70" cy="25.00" r="2.70" fill="#7b52ab" stroke="#a05878" stroke-width="0.4"/>
<circle cx="423.20" cy="25.00" r="0.90" fill="#e0312d"/>
<line x1="470.50" y1="25.00" x2="479.00" y2="25.00" stroke="#cfcfcf" stroke-width="1.0"/>
<circle cx="483.30" cy="25.00" r="2.50" fill="#a3a3a3"/>
<circle cx="484.20" cy="25.00" r="2.50" fill="#a3a3a3"/>
<circle cx="485.10" cy="25.00" r="2.50" fill="#a3a3a3"/>
<circle cx="486.00" cy="25.00" r="2.50" fill="#a3a3a3"/>
<circle cx="486.90" cy="25.00" r="2.50" fill="#a3a3a3"/>
<circle cx="487.80" cy="25.00" r="2.50" fill="#a3a3a3"/>
<circle cx="488.70" cy="25.00" r="2.50" fill="#a3a3a3"/>
<circle cx="489.60" cy="25.00" r="2.50" fill="#a3a3a3"/>
<circle cx="490.50" cy="25.00" r="2.50" fill="#a3a3a3"/>
<circle cx="491.40" cy="25.00" r="2.50" fill="#a3a3a3"/>
<circle cx="492.30" cy="25.00" r="2.50" fill="#a3a3a3"/>
<circle cx="493.20" cy="25.00" r="2.50" fill="#a3a3a3"/>
<circle cx="494.10" cy="25.00" r="2.50" fill="#a3a3a3"/>
<circle cx="495.00" cy="25.00" r="2.50" fill="#a3a3a3"/>
<circle cx="495.90" cy="25.00" r="2.50" fill="#a3a3a3"/>
<circle cx="496.80" cy="25.00" r="2.50" fill="#a3a3a3"/>
<circle cx="497.70" cy="25.00" r="2.50" fill="#a3a3a3"/>
<circle cx="498.60" cy="25.00" r="2.50" fill="#a3a3a3"/>
<circle cx="499.50" cy="25.00" r="2.50" fill="#a3a3a3"/>
<circle cx="500.40" cy="25.00" r="2.50" fill="#a3a3a3"/>
<circle cx="501.30" cy="25.00" r="2.50" fill="#a3a3a3"/>
<circle cx="502.20" cy="25.00" r="2.50" fill="#a3a3a3"/>
<circle cx="503.10" cy="25.00" r="2.50" fill="#a3a3a3"/>
<circle cx="479.00" cy="25.00" r="1.10" fill="#111"/>
<circle cx="416.41" cy="51.79" r="2.32" fill="#a6a6a6"/>
<circle cx="413.87" cy="52.65" r="1.60" fill="#a6a6a6"/>
<circle cx="414.98" cy="48.84" r="2.07" fill="#a6a6a6"/>
<circle cx="418.70" cy="52.71" r="1.63" fill="#a6a6a6"/>
<circle cx="418.09" cy="52.83" r="2.29" fill="#a6a6a6"/>
<circle cx="413.79" cy="51.00" r="2.28" fill="#a6a6a6"/>
<circle cx="417.08" cy="52.65" r="2.33" fill="#a6a6a6"/>
<circle cx="412.28" cy="49.43" r="2.04" fill="#a6a6a6"/>
<circle cx="413.20" cy="52.58" r="2.20" fill="#a6a6a6"/>
<circle cx="413.47" cy="53.52" r="2.09" fill="#a6a6a6"/>
<circle cx="415.32" cy="51.74" r="1.77" fill="#a6a6a6"/>
<circle cx="417.61" cy="48.78" r="2.23" fill="#a6a6a6"/>
<circle cx="412.30" cy="50.22" r="2.25" fill="#a6a6a6"/>
<circle cx="413.46" cy="52.41" r="2.06" fill="#a6a6a6"/>
<circle cx="418.68" cy="53.28" r="2.02" fill="#a6a6a6"/>
<circle cx="416.31" cy="50.34" r="1.75" fill="#a6a6a6"/>
<circle cx="413.05" cy="48.35" r="2.16" fill="#a6a6a6"/>
<circle cx="417.24" cy="57.63" r="1.92" fill="#a8a8a8"/>
<circle cx="414.41" cy="59.17" r="1.64" fill="#a8a8a8"/>
<circle cx="415.94" cy="63.97" r="1.68" fill="#a8a8a8"/>
<circle cx="418.75" cy="60.33" r="1.72" fill="#a8a8a8"/>
<circle cx="415.75" cy="59.97" r="2.02" fill="#a8a8a8"/>
<circle cx="413.63" cy="54.21" r="2.39" fill="#a8a8a8"/>
<circle cx="416.71" cy="62.66" r="2.05" fill="#a8a8a8"/>
<circle cx="418.70" cy="56.62" r="1.94" fill="#a8a8a8"/>
<circle cx="418.62" cy="63.46" r="2.26" fill="#a8a8a8"/>
<circle cx="415.13" cy="63.63" r="1.63" fill="#a8a8a8"/>
<circle cx="414.63" cy="56.01" r="1.67" fill="#a8a8a8"/>
<circle cx="417.19" cy="54.51" r="2.30" fill="#a8a8a8"/>
<circle cx="419.84" cy="58.58" r="2.33" fill="#a8a8a8"/>
<circle cx="417.47" cy="54.64" r="1.92" fill="#a8a8a8"/>
<circle cx="419.92" cy="55.20" r="1.81" fill="#a8a8a8"/>
<circle cx="417.76" cy="59.64" r="2.37" fill="#a8a8a8"/>
<circle cx="416.07" cy="60.70" r="1.96" fill="#a8a8a8"/>
<circle cx="419.97" cy="55.60" r="2.39" fill="#a8a8a8"/>
<circle cx="413.66" cy="56.22" r="1.80" fill="#a8a8a8"/>
<circle cx="419.54" cy="57.52" r="2.32" fill="#a8a8a8"/>
<circle cx="413.72" cy="62.37" r="2.23" fill="#a8a8a8"/>
<circle cx="417.80" cy="61.10" r="2.39" fill="#a8a8a8"/>
<circle cx="415.41" cy="64.78" r="2.20" fill="#a8a8a8"/>
<circle cx="418.39" cy="77.15" r="1.84" fill="#a8a8a8"/>
<circle cx="418.84" cy="72.28" r="1.68" fill="#a8a8a8"/>
<circle cx="416.04" cy="68.53" r="1.70" fill="#a8a8a8"/>
<circle cx="415.54" cy="70.74" r="1.79" fill="#a8a8a8"/>
<circle cx="418.39" cy="66.00" r="1.61" fill="#a8a8a8"/>
<circle cx="415.69" cy="74.04" r="1.63" fill="#a8a8a8"/>
<circle cx="415.84" cy="76.99" r="2.35" fill="#a8a8a8"/>
<circle cx="419.58" cy="76.13" r="1.71" fill="#a8a8a8"/>
<circle cx="415.14" cy="70.26" r="2.34" fill="#a8a8a8"/>
<circle cx="418.12" cy="75.79" r="1.96" fill="#a8a8a8"/>
<circle cx="419.21" cy="68.76" r="1.98" fill="#a8a8a8"/>
<circle cx="415.40" cy="72.79" r="1.78" fill="#a8a8a8"/>
<circle cx="418.60" cy="64.79" r="2.04" fill="#a8a8a8"/>
<circle cx="419.48" cy="66.03" r="1.81" fill="#a8a8a8"/>
<circle cx="415.47" cy="69.76" r="1.82" fill="#a8a8a8"/>
<circle cx="416.47" cy="75.75" r="1.73" fill="#a8a8a8"/>
<circle cx="416.38" cy="70.87" r="2.32" fill="#a8a8a8"/>
<circle cx="420.08" cy="65.60" r="1.65" fill="#a8a8a8"/>
<circle cx="418.34" cy="76.53" r="1.77" fill="#a8a8a8"/>
<circle cx="416.20" cy="70.68" r="1.81" fill="#a8a8a8"/>
<circle cx="416.64" cy="66.82" r="2.39" fill="#a8a8a8"/>
<circle cx="419.78" cy="77.97" r="1.68" fill="#a8a8a8"/>
<circle cx="419.62" cy="68.05" r="1.65" fill="#a8a8a8"/>
<circle cx="416.24" cy="74.17" r="2.38" fill="#a8a8a8"/>
<circle cx="419.12" cy="64.22" r="1.87" fill="#a8a8a8"/>
<circle cx="414.61" cy="65.96" r="2.27" fill="#a8a8a8"/>
<circle cx="417.59" cy="84.32" r="1.95" fill="#b0b0b0"/>
<circle cx="417.70" cy="88.94" r="2.06" fill="#b0b0b0"/>
<circle cx="417.58" cy="79.66" r="2.22" fill="#b0b0b0"/>
<circle cx="417.63" cy="86.54" r="1.66" fill="#b0b0b0"/>
<circle cx="418.95" cy="79.05" r="2.00" fill="#b0b0b0"/>
<circle cx="417.66" cy="81.29" r="2.09" fill="#b0b0b0"/>
<circle cx="419.60" cy="86.49" r="2.07" fill="#b0b0b0"/>
<circle cx="417.21" cy="80.43" r="2.19" fill="#b0b0b0"/>
<circle cx="419.31" cy="82.90" r="1.64" fill="#b0b0b0"/>
<circle cx="418.07" cy="87.73" r="2.27" fill="#b0b0b0"/>
<circle cx="418.58" cy="88.37" r="1.61" fill="#b0b0b0"/>
<circle cx="418.53" cy="88.92" r="2.30" fill="#b0b0b0"/>
<circle cx="417.60" cy="81.20" r="2.27" fill="#b0b0b0"/>
<circle cx="417.52" cy="82.41" r="1.90" fill="#b0b0b0"/>
<circle cx="417.01" cy="85.14" r="2.02" fill="#b0b0b0"/>
<circle cx="418.65" cy="83.35" r="1.70" fill="#b0b0b0"/>
<circle cx="419.61" cy="86.58" r="2.29" fill="#b0b0b0"/>
<circle cx="421.29" cy="92.89" r="1.91" fill="#bcbcbc"/>
<circle cx="419.47" cy="96.76" r="2.30" fill="#bcbcbc"/>
<circle cx="420.69" cy="98.59" r="2.01" fill="#bcbcbc"/>
<circle cx="420.80" cy="94.77" r="1.62" fill="#bcbcbc"/>
<circle cx="419.93" cy="98.71" r="1.75" fill="#bcbcbc"/>
<circle cx="420.00" cy="90.92" r="2.25" fill="#bcbcbc"/>
<circle cx="419.57" cy="90.27" r="2.16" fill="#bcbcbc"/>
<circle cx="419.35" cy="91.76" r="2.08" fill="#bcbcbc"/>
<circle cx="420.76" cy="95.19" r="2.16" fill="#bcbcbc"/>
<circle cx="421.73" cy="90.93" r="2.17" fill="#bcbcbc"/>
<circle cx="419.64" cy="90.41" r="1.99" fill="#bcbcbc"/>
<circle cx="420.08" cy="94.51" r="1.70" fill="#bcbcbc"/>
<circle cx="425.96" cy="103.92" r="1.04" fill="#c6c6c6"/>
<circle cx="429.50" cy="113.94" r="1.03" fill="#c6c6c6"/>
<circle cx="428.67" cy="111.42" r="1.13" fill="#c6c6c6"/>
<circle cx="430.86" cy="115.63" r="0.97" fill="#c6c6c6"/>
<circle cx="430.55" cy="113.47" r="0.96" fill="#c6c6c6"/>
<circle cx="432.13" cy="115.71" r="0.94" fill="#c6c6c6"/>
<circle cx="425.32" cy="100.29" r="0.97" fill="#c6c6c6"/>
<circle cx="432.53" cy="116.59" r="1.17" fill="#c6c6c6"/>
<circle cx="431.39" cy="112.93" r="0.82" fill="#c6c6c6"/>
<circle cx="429.45" cy="106.38" r="1.17" fill="#c6c6c6"/>
<circle cx="425.67" cy="100.48" r="1.05" fill="#c6c6c6"/>
<circle cx="426.90" cy="103.02" r="0.83" fill="#c6c6c6"/>
<circle cx="427.35" cy="104.53" r="0.81" fill="#c6c6c6"/>
<circle cx="426.58" cy="98.07" r="1.11" fill="#c6c6c6"/>
<circle cx="431.64" cy="115.61" r="1.12" fill="#c6c6c6"/>
<circle cx="432.04" cy="114.46" r="0.81" fill="#c6c6c6"/>
<circle cx="428.19" cy="109.11" r="1.07" fill="#c6c6c6"/>
<circle cx="426.24" cy="101.02" r="1.17" fill="#c6c6c6"/>
<circle cx="427.99" cy="108.67" r="1.01" fill="#c6c6c6"/>
<circle cx="428.78" cy="104.54" r="0.92" fill="#c6c6c6"/>
<circle cx="426.82" cy="101.72" r="0.85" fill="#c6c6c6"/>
<circle cx="430.04" cy="108.07" r="1.01" fill="#c6c6c6"/>
<circle cx="425.96" cy="100.91" r="1.01" fill="#c6c6c6"/>
<circle cx="423.94" cy="98.26" r="0.85" fill="#c6c6c6"/>
<circle cx="425.96" cy="101.46" r="0.92" fill="#c6c6c6"/>
<circle cx="420.30" cy="78.00" r="0.95" fill="#111"/>
<circle cx="422.90" cy="83.20" r="0.95" fill="#111"/>
<circle cx="422.50" cy="88.00" r="0.95" fill="#111"/>
<circle cx="425.10" cy="101.00" r="0.95" fill="#111"/>
<circle cx="426.20" cy="104.50" r="0.95" fill="#111"/>
<circle cx="428.90" cy="112.10" r="0.95" fill="#111"/>
<circle cx="434.00" cy="116.90" r="0.95" fill="#111"/>
<circle cx="421.50" cy="67.00" r="0.95" fill="#111"/>
<circle cx="429.70" cy="115.50" r="1.30" fill="#d04040"/>
<circle cx="422.00" cy="60.20" r="0.90" fill="#c04040"/>
<circle cx="486.70" cy="59.40" r="2.10" fill="#c4c4c4" stroke="#a8a8a8" stroke-width="0.8"/>
<circle cx="487.50" cy="62.50" r="2.10" fill="#c4c4c4" stroke="#a8a8a8" stroke-width="0.8"/>
<circle cx="486.00" cy="65.50" r="2.10" fill="#c4c4c4" stroke="#a8a8a8" stroke-width="0.8"/>
<circle cx="488.50" cy="67.00" r="2.10" fill="#c4c4c4" stroke="#a8a8a8" stroke-width="0.8"/>
<circle cx="485.50" cy="69.50" r="2.10" fill="#c4c4c4" stroke="#a8a8a8" stroke-width="0.8"/>
<circle cx="487.00" cy="71.30" r="2.10" fill="#c4c4c4" stroke="#a8a8a8" stroke-width="0.8"/>
<circle cx="489.00" cy="64.00" r="2.10" fill="#c4c4c4" stroke="#a8a8a8" stroke-width="0.8"/>
<circle cx="485.90" cy="82.30" r="2.00" fill="none" stroke="#b0b0b0" stroke-width="0.9"/>
<circle cx="474.19" cy="80.33" r="1.07" fill="#d4d4d4"/>
<circle cx="474.24" cy="95.83" r="1.09" fill="#d4d4d4"/>
<circle cx="472.04" cy="90.91" r="1.16" fill="#d4d4d4"/>
<circle cx="476.64" cy="85.98" r="1.11" fill="#d4d4d4"/>
<circle cx="474.44" cy="86.19" r="0.92" fill="#d4d4d4"/>
<circle cx="478.18" cy="79.76" r="0.99" fill="#d4d4d4"/>
<circle cx="470.84" cy="89.23" r="0.98" fill="#d4d4d4"/>
<circle cx="470.72" cy="96.41" r="1.08" fill="#d4d4d4"/>
<circle cx="474.03" cy="86.78" r="1.29" fill="#d4d4d4"/>
<circle cx="479.94" cy="81.68" r="0.88" fill="#d4d4d4"/>
<circle cx="482.62" cy="75.74" r="1.02" fill="#d4d4d4"/>
<circle cx="478.31" cy="75.61" r="1.02" fill="#d4d4d4"/>
<circle cx="470.55" cy="93.12" r="0.91" fill="#d4d4d4"/>
<circle cx="474.47" cy="98.94" r="0.88" fill="#d4d4d4"/>
<circle cx="475.84" cy="82.76" r="1.14" fill="#d4d4d4"/>
<circle cx="478.14" cy="90.02" r="1.21" fill="#d4d4d4"/>
<circle cx="477.91" cy="87.46" r="1.17" fill="#d4d4d4"/>
<circle cx="473.65" cy="93.75" r="1.19" fill="#d4d4d4"/>
<circle cx="478.01" cy="92.42" r="0.86" fill="#d4d4d4"/>
<circle cx="468.55" cy="96.64" r="1.18" fill="#d4d4d4"/>
<circle cx="475.21" cy="89.23" r="1.28" fill="#d4d4d4"/>
<circle cx="474.60" cy="88.87" r="1.19" fill="#d4d4d4"/>
<circle cx="473.96" cy="96.69" r="0.99" fill="#d4d4d4"/>
<circle cx="475.89" cy="85.76" r="1.16" fill="#d4d4d4"/>
<circle cx="476.53" cy="81.62" r="1.08" fill="#d4d4d4"/>
<circle cx="475.20" cy="84.00" r="1.19" fill="#d4d4d4"/>
<circle cx="473.17" cy="96.09" r="1.02" fill="#d4d4d4"/>
<circle cx="476.60" cy="78.79" r="0.87" fill="#d4d4d4"/>
<circle cx="476.05" cy="88.96" r="0.84" fill="#d4d4d4"/>
<circle cx="471.04" cy="97.92" r="1.22" fill="#d4d4d4"/>
<circle cx="477.39" cy="95.79" r="0.90" fill="#d4d4d4"/>
<circle cx="480.17" cy="85.09" r="0.81" fill="#d4d4d4"/>
<circle cx="480.01" cy="75.23" r="1.05" fill="#d4d4d4"/>
<circle cx="475.08" cy="97.93" r="1.07" fill="#d4d4d4"/>
<circle cx="472.17" cy="99.96" r="1.06" fill="#d4d4d4"/>
<circle cx="473.46" cy="91.82" r="0.98" fill="#d4d4d4"/>
<circle cx="473.82" cy="89.46" r="1.27" fill="#d4d4d4"/>
<circle cx="474.75" cy="91.59" r="0.85" fill="#d4d4d4"/>
<circle cx="475.99" cy="83.73" r="1.08" fill="#d4d4d4"/>
<circle cx="478.74" cy="88.93" r="1.28" fill="#d4d4d4"/>
<circle cx="464.87" cy="108.76" r="1.11" fill="#d0d0d0"/>
<circle cx="459.32" cy="117.93" r="1.07" fill="#d0d0d0"/>
<circle cx="460.21" cy="114.69" r="0.96" fill="#d0d0d0"/>
<circle cx="462.01" cy="117.61" r="1.06" fill="#d0d0d0"/>
<circle cx="470.96" cy="101.99" r="1.14" fill="#d0d0d0"/>
<circle cx="464.43" cy="114.77" r="1.24" fill="#d0d0d0"/>
<circle cx="464.05" cy="107.58" r="0.94" fill="#d0d0d0"/>
<circle cx="464.96" cy="109.21" r="0.89" fill="#d0d0d0"/>
<circle cx="468.87" cy="103.28" r="1.10" fill="#d0d0d0"/>
<circle cx="469.07" cy="106.36" r="1.12" fill="#d0d0d0"/>
<circle cx="469.12" cy="100.76" r="1.19" fill="#d0d0d0"/>
<circle cx="467.95" cy="105.52" r="0.80" fill="#d0d0d0"/>
<circle cx="468.77" cy="105.48" r="1.09" fill="#d0d0d0"/>
<circle cx="461.81" cy="112.03" r="1.05" fill="#d0d0d0"/>
<circle cx="463.31" cy="109.96" r="1.12" fill="#d0d0d0"/>
<circle cx="467.32" cy="109.57" r="1.09" fill="#d0d0d0"/>
<circle cx="463.96" cy="107.40" r="0.88" fill="#d0d0d0"/>
<circle cx="460.44" cy="113.67" r="0.85" fill="#d0d0d0"/>
<circle cx="468.43" cy="103.07" r="1.21" fill="#d0d0d0"/>
<circle cx="465.53" cy="111.03" r="0.83" fill="#d0d0d0"/>
<circle cx="471.28" cy="100.22" r="0.96" fill="#d0d0d0"/>
<circle cx="462.16" cy="112.88" r="0.88" fill="#d0d0d0"/>
<circle cx="465.28" cy="104.80" r="1.25" fill="#d0d0d0"/>
<circle cx="463.45" cy="110.48" r="1.02" fill="#d0d0d0"/>
<circle cx="463.87" cy="106.94" r="1.25" fill="#d0d0d0"/>
<circle cx="466.62" cy="110.49" r="1.02" fill="#d0d0d0"/>
<circle cx="462.56" cy="111.16" r="0.82" fill="#d0d0d0"/>
<circle cx="462.63" cy="116.75" r="0.96" fill="#d0d0d0"/>
<circle cx="462.74" cy="116.18" r="0.95" fill="#d0d0d0"/>
<circle cx="466.43" cy="110.85" r="1.05" fill="#d0d0d0"/>
<circle cx="459.26" cy="117.09" r="0.99" fill="#d0d0d0"/>
<circle cx="461.44" cy="112.93" r="0.95" fill="#d0d0d0"/>
<circle cx="461.25" cy="115.76" r="1.20" fill="#d0d0d0"/>
<circle cx="465.89" cy="104.38" r="0.98" fill="#d0d0d0"/>
<circle cx="470.61" cy="103.36" r="0.95" fill="#d0d0d0"/>
<circle cx="479.90" cy="79.00" r="0.95" fill="#111"/>
<circle cx="480.70" cy="88.00" r="0.95" fill="#111"/>
<circle cx="473.00" cy="94.30" r="0.95" fill="#111"/>
<circle cx="479.00" cy="97.70" r="0.95" fill="#111"/>
<circle cx="474.80" cy="102.80" r="0.95" fill="#111"/>
<circle cx="472.20" cy="104.50" r="0.95" fill="#111"/>
<circle cx="470.50" cy="110.40" r="0.95" fill="#111"/>
<circle cx="469.50" cy="112.00" r="0.95" fill="#111"/>
<circle cx="281.10" cy="223.97" r="0.87" fill="#dadada"/>
<circle cx="280.68" cy="218.34" r="0.63" fill="#dadada"/>
<circle cx="280.02" cy="209.95" r="0.78" fill="#dadada"/>
<circle cx="278.39" cy="213.84" r="0.74" fill="#dadada"/>
<circle cx="277.63" cy="213.59" r="0.93" fill="#dadada"/>
<circle cx="279.16" cy="216.93" r="0.95" fill="#dadada"/>
<circle cx="277.28" cy="208.96" r="1.02" fill="#dadada"/>
<circle cx="278.38" cy="210.09" r="1.02" fill="#dadada"/>
<circle cx="283.63" cy="231.76" r="0.78" fill="#dadada"/>
<circle cx="283.79" cy="229.12" r="1.08" fill="#dadada"/>
<circle cx="281.38" cy="212.66" r="0.85" fill="#dadada"/>
<circle cx="279.37" cy="213.27" r="0.67" fill="#dadada"/>
<circle cx="283.13" cy="228.61" r="1.05" fill="#dadada"/>
<circle cx="282.46" cy="224.80" r="0.72" fill="#dadada"/>
<circle cx="281.97" cy="225.46" r="1.04" fill="#dadada"/>
<circle cx="278.64" cy="209.93" r="0.87" fill="#dadada"/>
<circle cx="281.19" cy="214.65" r="0.79" fill="#dadada"/>
<circle cx="284.01" cy="227.04" r="0.76" fill="#dadada"/>
<circle cx="279.32" cy="218.48" r="0.69" fill="#dadada"/>
<circle cx="284.78" cy="233.23" r="0.93" fill="#dadada"/>
<circle cx="278.72" cy="209.49" r="0.78" fill="#dadada"/>
<circle cx="281.31" cy="222.01" r="0.63" fill="#dadada"/>
<circle cx="279.18" cy="215.96" r="0.66" fill="#dadada"/>
<circle cx="283.32" cy="228.93" r="0.80" fill="#dadada"/>
<circle cx="287.34" cy="235.09" r="1.04" fill="#dadada"/>
<circle cx="284.05" cy="233.56" r="0.74" fill="#dadada"/>
<circle cx="278.47" cy="206.95" r="0.93" fill="#dadada"/>
<circle cx="280.39" cy="217.25" r="0.93" fill="#dadada"/>
<circle cx="283.01" cy="228.38" r="1.02" fill="#dadada"/>
<circle cx="281.35" cy="217.27" r="0.69" fill="#dadada"/>
<circle cx="291.11" cy="239.11" r="1.17" fill="#cdcdcd"/>
<circle cx="293.35" cy="255.24" r="0.82" fill="#cdcdcd"/>
<circle cx="287.93" cy="240.37" r="0.95" fill="#cdcdcd"/>
<circle cx="289.58" cy="246.28" r="0.96" fill="#cdcdcd"/>
<circle cx="293.23" cy="253.23" r="1.22" fill="#cdcdcd"/>
<circle cx="295.25" cy="251.39" r="0.93" fill="#cdcdcd"/>
<circle cx="293.55" cy="247.74" r="0.97" fill="#cdcdcd"/>
<circle cx="289.41" cy="236.03" r="1.19" fill="#cdcdcd"/>
<circle cx="288.53" cy="243.73" r="1.23" fill="#cdcdcd"/>
<circle cx="292.19" cy="252.40" r="0.92" fill="#cdcdcd"/>
<circle cx="290.44" cy="239.00" r="0.91" fill="#cdcdcd"/>
<circle cx="299.33" cy="260.69" r="0.84" fill="#cdcdcd"/>
<circle cx="294.98" cy="254.76" r="1.17" fill="#cdcdcd"/>
<circle cx="295.92" cy="258.38" r="0.84" fill="#cdcdcd"/>
<circle cx="298.00" cy="261.55" r="1.27" fill="#cdcdcd"/>
<circle cx="296.74" cy="254.67" r="1.21" fill="#cdcdcd"/>
<circle cx="294.54" cy="252.96" r="0.83" fill="#cdcdcd"/>
<circle cx="295.21" cy="254.85" r="1.06" fill="#cdcdcd"/>
<circle cx="296.25" cy="261.06" r="1.18" fill="#cdcdcd"/>
<circle cx="289.21" cy="237.18" r="1.20" fill="#cdcdcd"/>
<circle cx="290.86" cy="243.05" r="1.28" fill="#cdcdcd"/>
<circle cx="295.12" cy="253.21" r="0.92" fill="#cdcdcd"/>
<circle cx="287.59" cy="237.60" r="1.01" fill="#cdcdcd"/>
<circle cx="288.96" cy="241.44" r="0.87" fill="#cdcdcd"/>
<circle cx="296.56" cy="255.09" r="0.92" fill="#cdcdcd"/>
<circle cx="290.48" cy="242.53" r="1.02" fill="#cdcdcd"/>
<circle cx="297.50" cy="261.27" r="0.95" fill="#cdcdcd"/>
<circle cx="295.83" cy="259.89" r="1.08" fill="#cdcdcd"/>
<circle cx="293.08" cy="245.01" r="1.07" fill="#cdcdcd"/>
<circle cx="294.56" cy="256.53" r="1.13" fill="#cdcdcd"/>
<circle cx="294.25" cy="252.16" r="1.18" fill="#cdcdcd"/>
<circle cx="295.08" cy="258.44" r="0.94" fill="#cdcdcd"/>
<circle cx="290.22" cy="245.73" r="0.83" fill="#cdcdcd"/>
<circle cx="289.27" cy="243.58" r="1.15" fill="#cdcdcd"/>
<circle cx="290.73" cy="248.10" r="0.96" fill="#cdcdcd"/>
<circle cx="292.26" cy="248.65" r="0.88" fill="#cdcdcd"/>
<circle cx="285.93" cy="237.94" r="1.30" fill="#cdcdcd"/>
<circle cx="294.01" cy="256.26" r="1.16" fill="#cdcdcd"/>
<circle cx="299.11" cy="262.47" r="0.85" fill="#cdcdcd"/>
<circle cx="292.86" cy="249.20" r="0.89" fill="#cdcdcd"/>
<circle cx="291.26" cy="250.66" r="1.26" fill="#cdcdcd"/>
<circle cx="295.63" cy="253.40" r="1.27" fill="#cdcdcd"/>
<circle cx="293.77" cy="253.62" r="0.92" fill="#cdcdcd"/>
<circle cx="286.78" cy="239.74" r="1.19" fill="#cdcdcd"/>
<circle cx="296.12" cy="258.67" r="0.89" fill="#cdcdcd"/>
<circle cx="296.69" cy="253.23" r="1.26" fill="#cdcdcd"/>
<circle cx="291.05" cy="240.55" r="1.22" fill="#cdcdcd"/>
<circle cx="295.18" cy="256.04" r="0.89" fill="#cdcdcd"/>
<circle cx="296.08" cy="258.28" r="0.98" fill="#cdcdcd"/>
<circle cx="293.23" cy="250.88" r="1.22" fill="#cdcdcd"/>
<circle cx="287.99" cy="242.46" r="1.08" fill="#cdcdcd"/>
<circle cx="296.45" cy="252.96" r="1.15" fill="#cdcdcd"/>
<circle cx="300.24" cy="260.44" r="1.05" fill="#cdcdcd"/>
<circle cx="291.54" cy="249.49" r="0.95" fill="#cdcdcd"/>
<circle cx="292.07" cy="251.69" r="1.14" fill="#cdcdcd"/>
<circle cx="289.22" cy="240.42" r="1.28" fill="#cdcdcd"/>
<circle cx="286.28" cy="238.42" r="1.02" fill="#cdcdcd"/>
<circle cx="290.98" cy="241.15" r="0.80" fill="#cdcdcd"/>
<circle cx="299.04" cy="258.70" r="1.19" fill="#cdcdcd"/>
<circle cx="291.36" cy="247.49" r="1.13" fill="#cdcdcd"/>
<circle cx="303.05" cy="264.53" r="0.84" fill="#d8d8d8"/>
<circle cx="305.99" cy="264.38" r="1.03" fill="#d8d8d8"/>
<circle cx="299.97" cy="265.31" r="0.82" fill="#d8d8d8"/>
<circle cx="304.76" cy="264.39" r="0.84" fill="#d8d8d8"/>
<circle cx="299.02" cy="263.89" r="0.83" fill="#d8d8d8"/>
<circle cx="309.66" cy="264.42" r="1.06" fill="#d8d8d8"/>
<circle cx="309.69" cy="265.23" r="1.08" fill="#d8d8d8"/>
<circle cx="307.73" cy="264.74" r="0.72" fill="#d8d8d8"/>
<circle cx="305.31" cy="264.85" r="0.82" fill="#d8d8d8"/>
<circle cx="309.43" cy="264.64" r="0.89" fill="#d8d8d8"/>
<circle cx="301.59" cy="264.79" r="0.84" fill="#d8d8d8"/>
<circle cx="298.33" cy="265.27" r="0.78" fill="#d8d8d8"/>
<circle cx="303.37" cy="264.86" r="0.73" fill="#d8d8d8"/>
<circle cx="302.46" cy="264.82" r="0.93" fill="#d8d8d8"/>
<circle cx="283.50" cy="223.00" r="1.00" fill="#111"/>
<circle cx="292.00" cy="239.20" r="1.00" fill="#111"/>
<circle cx="295.80" cy="256.50" r="1.00" fill="#111"/>
<circle cx="299.60" cy="261.50" r="1.00" fill="#111"/>
<circle cx="301.00" cy="264.60" r="1.00" fill="#111"/>
<circle cx="292.00" cy="239.20" r="1.60" fill="#3a3a5a"/>
<line x1="348.00" y1="170.80" x2="352.00" y2="170.80" stroke="#e0b0b0" stroke-width="0.8"/>
<circle cx="359.00" cy="170.80" r="2.40" fill="#c8c8c8"/>
<circle cx="357.40" cy="170.80" r="2.30" fill="#333"/>
<circle cx="349.50" cy="170.80" r="0.90" fill="#a03030"/>
<circle cx="351.20" cy="170.80" r="0.90" fill="#a03030"/>
<circle cx="348.91" cy="211.66" r="0.94" fill="#d4d4d4"/>
<circle cx="345.61" cy="211.10" r="0.71" fill="#d4d4d4"/>
<circle cx="348.39" cy="224.92" r="0.67" fill="#d4d4d4"/>
<circle cx="346.07" cy="224.14" r="0.66" fill="#d4d4d4"/>
<circle cx="346.52" cy="214.86" r="0.89" fill="#d4d4d4"/>
<circle cx="346.29" cy="215.51" r="0.94" fill="#d4d4d4"/>
<circle cx="349.20" cy="203.16" r="0.95" fill="#d4d4d4"/>
<circle cx="348.40" cy="202.25" r="0.64" fill="#d4d4d4"/>
<circle cx="351.54" cy="212.31" r="0.93" fill="#d4d4d4"/>
<circle cx="350.30" cy="220.01" r="0.67" fill="#d4d4d4"/>
<circle cx="349.64" cy="227.74" r="0.66" fill="#d4d4d4"/>
<circle cx="347.22" cy="223.25" r="0.70" fill="#d4d4d4"/>
<circle cx="348.41" cy="226.88" r="1.06" fill="#d4d4d4"/>
<circle cx="351.27" cy="203.83" r="0.63" fill="#d4d4d4"/>
<circle cx="347.90" cy="206.63" r="0.61" fill="#d4d4d4"/>
<circle cx="346.12" cy="216.64" r="0.78" fill="#d4d4d4"/>
<circle cx="347.67" cy="219.81" r="1.13" fill="#d4d4d4"/>
<circle cx="351.36" cy="217.39" r="0.94" fill="#d4d4d4"/>
<circle cx="350.93" cy="225.69" r="0.70" fill="#d4d4d4"/>
<circle cx="346.94" cy="220.87" r="1.06" fill="#d4d4d4"/>
<circle cx="350.90" cy="219.05" r="0.67" fill="#d4d4d4"/>
<circle cx="350.63" cy="210.44" r="1.17" fill="#d4d4d4"/>
<circle cx="344.59" cy="220.21" r="0.96" fill="#d4d4d4"/>
<circle cx="349.50" cy="202.79" r="1.08" fill="#d4d4d4"/>
<circle cx="352.49" cy="203.16" r="1.01" fill="#d4d4d4"/>
<circle cx="346.44" cy="207.13" r="0.87" fill="#d4d4d4"/>
<circle cx="348.73" cy="223.47" r="0.67" fill="#d4d4d4"/>
<circle cx="346.10" cy="200.59" r="1.08" fill="#d4d4d4"/>
<circle cx="349.42" cy="205.19" r="0.77" fill="#d4d4d4"/>
<circle cx="347.33" cy="219.24" r="0.69" fill="#d4d4d4"/>
<circle cx="348.33" cy="224.51" r="1.01" fill="#d4d4d4"/>
<circle cx="351.71" cy="222.63" r="0.61" fill="#d4d4d4"/>
<circle cx="345.98" cy="209.59" r="0.90" fill="#d4d4d4"/>
<circle cx="350.43" cy="224.45" r="0.62" fill="#d4d4d4"/>
<circle cx="351.54" cy="205.10" r="1.01" fill="#d4d4d4"/>
<circle cx="348.51" cy="210.99" r="0.69" fill="#d4d4d4"/>
<circle cx="347.21" cy="223.66" r="1.12" fill="#d4d4d4"/>
<circle cx="345.00" cy="217.10" r="0.80" fill="#d4d4d4"/>
<circle cx="352.10" cy="206.06" r="0.95" fill="#d4d4d4"/>
<circle cx="346.55" cy="201.22" r="0.82" fill="#d4d4d4"/>
<circle cx="349.21" cy="213.10" r="0.83" fill="#d4d4d4"/>
<circle cx="344.80" cy="209.90" r="0.95" fill="#d4d4d4"/>
<circle cx="344.95" cy="209.35" r="0.88" fill="#d4d4d4"/>
<circle cx="344.23" cy="227.62" r="0.69" fill="#d4d4d4"/>
<circle cx="346.49" cy="218.79" r="0.76" fill="#d4d4d4"/>
<circle cx="346.65" cy="214.00" r="0.94" fill="#d4d4d4"/>
<circle cx="352.17" cy="214.79" r="1.20" fill="#d4d4d4"/>
<circle cx="349.69" cy="200.96" r="1.06" fill="#d4d4d4"/>
<circle cx="350.22" cy="224.43" r="0.98" fill="#d4d4d4"/>
<circle cx="347.26" cy="217.77" r="0.77" fill="#d4d4d4"/>
<circle cx="337.20" cy="257.43" r="1.17" fill="#cacad2"/>
<circle cx="335.98" cy="253.21" r="1.08" fill="#cacad2"/>
<circle cx="336.19" cy="255.36" r="1.02" fill="#cacad2"/>
<circle cx="341.58" cy="240.97" r="0.90" fill="#cacad2"/>
<circle cx="344.41" cy="230.24" r="0.86" fill="#cacad2"/>
<circle cx="332.75" cy="264.57" r="0.88" fill="#cacad2"/>
<circle cx="341.48" cy="237.01" r="0.87" fill="#cacad2"/>
<circle cx="341.83" cy="233.02" r="1.14" fill="#cacad2"/>
<circle cx="339.70" cy="244.77" r="0.98" fill="#cacad2"/>
<circle cx="340.38" cy="239.19" r="0.73" fill="#cacad2"/>
<circle cx="341.06" cy="239.16" r="1.06" fill="#cacad2"/>
<circle cx="340.76" cy="248.40" r="0.87" fill="#cacad2"/>
<circle cx="334.13" cy="262.09" r="0.74" fill="#cacad2"/>
<circle cx="344.01" cy="234.61" r="1.19" fill="#cacad2"/>
<circle cx="342.56" cy="241.21" r="0.91" fill="#cacad2"/>
<circle cx="332.36" cy="260.13" r="0.94" fill="#cacad2"/>
<circle cx="332.95" cy="261.27" r="0.83" fill="#cacad2"/>
<circle cx="344.08" cy="228.85" r="0.83" fill="#cacad2"/>
<circle cx="335.27" cy="254.06" r="0.90" fill="#cacad2"/>
<circle cx="343.83" cy="235.41" r="1.13" fill="#cacad2"/>
<circle cx="335.91" cy="251.98" r="1.07" fill="#cacad2"/>
<circle cx="333.66" cy="263.64" r="0.74" fill="#cacad2"/>
<circle cx="337.02" cy="257.95" r="0.87" fill="#cacad2"/>
<circle cx="342.68" cy="233.06" r="0.97" fill="#cacad2"/>
<circle cx="335.01" cy="260.39" r="1.16" fill="#cacad2"/>
<circle cx="342.34" cy="235.85" r="1.07" fill="#cacad2"/>
<circle cx="336.90" cy="252.01" r="1.04" fill="#cacad2"/>
<circle cx="339.38" cy="240.50" r="0.91" fill="#cacad2"/>
<circle cx="346.00" cy="229.68" r="0.87" fill="#cacad2"/>
<circle cx="339.88" cy="246.29" r="0.83" fill="#cacad2"/>
<circle cx="337.49" cy="245.14" r="1.16" fill="#cacad2"/>
<circle cx="340.83" cy="248.87" r="0.73" fill="#cacad2"/>
<circle cx="338.90" cy="250.72" r="0.86" fill="#cacad2"/>
<circle cx="343.10" cy="231.46" r="0.77" fill="#cacad2"/>
<circle cx="333.81" cy="256.39" r="1.11" fill="#cacad2"/>
<circle cx="340.55" cy="243.66" r="0.99" fill="#cacad2"/>
<circle cx="339.36" cy="248.53" r="1.00" fill="#cacad2"/>
<circle cx="342.75" cy="240.24" r="0.83" fill="#cacad2"/>
<circle cx="337.79" cy="254.32" r="1.09" fill="#cacad2"/>
<circle cx="343.19" cy="239.44" r="1.19" fill="#cacad2"/>
<circle cx="338.90" cy="244.77" r="0.96" fill="#cacad2"/>
<circle cx="331.70" cy="262.81" r="0.70" fill="#cacad2"/>
<circle cx="340.41" cy="245.60" r="1.09" fill="#cacad2"/>
<circle cx="343.52" cy="241.41" r="0.81" fill="#cacad2"/>
<circle cx="333.95" cy="255.99" r="0.71" fill="#cacad2"/>
<circle cx="342.10" cy="232.96" r="0.95" fill="#cacad2"/>
<circle cx="337.08" cy="248.54" r="1.17" fill="#cacad2"/>
<circle cx="339.45" cy="241.53" r="0.79" fill="#cacad2"/>
<circle cx="338.20" cy="255.30" r="0.78" fill="#cacad2"/>
<circle cx="346.95" cy="229.07" r="0.82" fill="#cacad2"/>
<circle cx="332.91" cy="264.35" r="1.02" fill="#cacad2"/>
<circle cx="342.86" cy="240.74" r="0.93" fill="#cacad2"/>
<circle cx="343.62" cy="239.98" r="0.75" fill="#cacad2"/>
<circle cx="334.15" cy="255.14" r="1.02" fill="#cacad2"/>
<circle cx="342.39" cy="242.87" r="0.73" fill="#cacad2"/>
<circle cx="353.80" cy="202.00" r="0.95" fill="#111"/>
<circle cx="350.20" cy="208.70" r="0.95" fill="#111"/>
<circle cx="348.40" cy="223.00" r="0.95" fill="#111"/>
<circle cx="350.00" cy="224.00" r="0.95" fill="#111"/>
<circle cx="352.00" cy="225.00" r="0.95" fill="#111"/>
<circle cx="344.80" cy="227.60" r="0.95" fill="#111"/>
<circle cx="345.00" cy="230.30" r="0.95" fill="#111"/>
<circle cx="346.00" cy="234.00" r="0.95" fill="#111"/>
<circle cx="348.40" cy="236.30" r="0.95" fill="#111"/>
<circle cx="343.90" cy="239.40" r="0.95" fill="#111"/>
<circle cx="347.00" cy="240.00" r="0.95" fill="#111"/>
<circle cx="341.20" cy="248.40" r="0.95" fill="#111"/>
<circle cx="338.50" cy="252.90" r="0.95" fill="#111"/>
<circle cx="334.90" cy="260.10" r="0.95" fill="#111"/>
<circle cx="333.00" cy="263.70" r="0.95" fill="#111"/>
<circle cx="330.40" cy="264.60" r="0.95" fill="#111"/>
<circle cx="334.20" cy="260.80" r="0.95" fill="#111"/>
<line x1="418.00" y1="170.80" x2="424.00" y2="170.80" stroke="#d8d8d8" stroke-width="1.0"/>
<circle cx="397.00" cy="170.80" r="2.60" fill="#a3a3a3"/>
<circle cx="397.90" cy="170.80" r="2.60" fill="#a3a3a3"/>
<circle cx="398.80" cy="170.80" r="2.60" fill="#a3a3a3"/>
<circle cx="399.70" cy="170.80" r="2.60" fill="#a3a3a3"/>
<circle cx="400.60" cy="170.80" r="2.60" fill="#a3a3a3"/>
<circle cx="401.50" cy="170.80" r="2.60" fill="#a3a3a3"/>
<circle cx="402.40" cy="170.80" r="2.60" fill="#a3a3a3"/>
<circle cx="403.30" cy="170.80" r="2.60" fill="#a3a3a3"/>
<circle cx="404.20" cy="170.80" r="2.60" fill="#a3a3a3"/>
<circle cx="405.10" cy="170.80" r="2.60" fill="#a3a3a3"/>
<circle cx="406.00" cy="170.80" r="2.60" fill="#a3a3a3"/>
<circle cx="406.90" cy="170.80" r="2.60" fill="#a3a3a3"/>
<circle cx="407.80" cy="170.80" r="2.60" fill="#a3a3a3"/>
<circle cx="408.70" cy="170.80" r="2.60" fill="#a3a3a3"/>
<circle cx="409.60" cy="170.80" r="2.60" fill="#a3a3a3"/>
<circle cx="410.50" cy="170.80" r="2.60" fill="#a3a3a3"/>
<circle cx="411.40" cy="170.80" r="2.60" fill="#a3a3a3"/>
<circle cx="412.30" cy="170.80" r="2.60" fill="#a3a3a3"/>
<circle cx="413.20" cy="170.80" r="2.60" fill="#a3a3a3"/>
<circle cx="414.10" cy="170.80" r="2.60" fill="#a3a3a3"/>
<circle cx="415.00" cy="170.80" r="2.60" fill="#a3a3a3"/>
<circle cx="415.90" cy="170.80" r="2.60" fill="#a3a3a3"/>
<circle cx="416.80" cy="170.80" r="2.60" fill="#a3a3a3"/>
<circle cx="417.70" cy="170.80" r="2.60" fill="#a3a3a3"/>
<circle cx="402.40" cy="170.80" r="2.30" fill="#7b52ab"/>
<circle cx="409.70" cy="170.80" r="2.30" fill="#7b52ab"/>
<circle cx="415.00" cy="170.80" r="2.30" fill="#7b52ab"/>
<circle cx="410.80" cy="203.82" r="2.34" fill="#acacac"/>
<circle cx="412.49" cy="205.72" r="1.78" fill="#acacac"/>
<circle cx="409.65" cy="202.26" r="1.95" fill="#acacac"/>
<circle cx="409.19" cy="202.16" r="2.21" fill="#acacac"/>
<circle cx="409.93" cy="204.21" r="2.40" fill="#acacac"/>
<circle cx="412.04" cy="202.08" r="1.73" fill="#acacac"/>
<circle cx="414.38" cy="205.32" r="1.81" fill="#acacac"/>
<circle cx="414.02" cy="204.76" r="1.83" fill="#acacac"/>
<circle cx="411.39" cy="202.66" r="2.31" fill="#acacac"/>
<circle cx="412.93" cy="201.81" r="2.08" fill="#acacac"/>
<circle cx="412.12" cy="203.27" r="2.31" fill="#acacac"/>
<circle cx="414.49" cy="202.05" r="1.89" fill="#acacac"/>
<circle cx="415.70" cy="218.48" r="1.75" fill="#a8a8a8"/>
<circle cx="416.85" cy="219.82" r="1.84" fill="#a8a8a8"/>
<circle cx="409.08" cy="206.39" r="2.38" fill="#a8a8a8"/>
<circle cx="416.12" cy="206.15" r="1.72" fill="#a8a8a8"/>
<circle cx="408.96" cy="217.78" r="1.73" fill="#a8a8a8"/>
<circle cx="408.89" cy="216.92" r="1.87" fill="#a8a8a8"/>
<circle cx="414.40" cy="220.70" r="2.31" fill="#a8a8a8"/>
<circle cx="408.39" cy="221.67" r="1.79" fill="#a8a8a8"/>
<circle cx="414.17" cy="218.67" r="1.63" fill="#a8a8a8"/>
<circle cx="410.14" cy="214.08" r="1.94" fill="#a8a8a8"/>
<circle cx="408.28" cy="207.68" r="2.39" fill="#a8a8a8"/>
<circle cx="415.83" cy="211.06" r="1.70" fill="#a8a8a8"/>
<circle cx="409.30" cy="213.80" r="1.94" fill="#a8a8a8"/>
<circle cx="414.13" cy="208.86" r="1.72" fill="#a8a8a8"/>
<circle cx="412.51" cy="217.81" r="1.69" fill="#a8a8a8"/>
<circle cx="412.47" cy="211.66" r="2.33" fill="#a8a8a8"/>
<circle cx="409.99" cy="211.59" r="2.37" fill="#a8a8a8"/>
<circle cx="414.54" cy="220.13" r="1.82" fill="#a8a8a8"/>
<circle cx="410.43" cy="208.84" r="1.66" fill="#a8a8a8"/>
<circle cx="412.58" cy="206.69" r="1.93" fill="#a8a8a8"/>
<circle cx="411.29" cy="214.91" r="1.61" fill="#a8a8a8"/>
<circle cx="413.85" cy="217.01" r="2.04" fill="#a8a8a8"/>
<circle cx="414.17" cy="214.78" r="2.39" fill="#a8a8a8"/>
<circle cx="414.42" cy="219.99" r="1.92" fill="#a8a8a8"/>
<circle cx="411.79" cy="211.09" r="2.38" fill="#a8a8a8"/>
<circle cx="411.49" cy="212.19" r="1.93" fill="#a8a8a8"/>
<circle cx="416.89" cy="208.29" r="1.60" fill="#a8a8a8"/>
<circle cx="416.25" cy="215.73" r="1.80" fill="#a8a8a8"/>
<circle cx="411.42" cy="215.77" r="1.79" fill="#a8a8a8"/>
<circle cx="409.12" cy="209.17" r="2.27" fill="#a8a8a8"/>
<circle cx="416.09" cy="218.54" r="1.64" fill="#a8a8a8"/>
<circle cx="410.95" cy="217.11" r="2.12" fill="#a8a8a8"/>
<circle cx="410.88" cy="214.78" r="2.38" fill="#a8a8a8"/>
<circle cx="414.67" cy="206.01" r="2.28" fill="#a8a8a8"/>
<circle cx="413.31" cy="214.16" r="2.40" fill="#a8a8a8"/>
<circle cx="413.64" cy="209.75" r="2.19" fill="#a8a8a8"/>
<circle cx="414.37" cy="212.06" r="1.91" fill="#a8a8a8"/>
<circle cx="413.49" cy="214.42" r="2.14" fill="#a8a8a8"/>
<circle cx="413.63" cy="211.15" r="2.03" fill="#a8a8a8"/>
<circle cx="413.49" cy="209.57" r="1.81" fill="#a8a8a8"/>
<circle cx="412.26" cy="220.54" r="2.18" fill="#a8a8a8"/>
<circle cx="412.29" cy="214.35" r="1.78" fill="#a8a8a8"/>
<circle cx="416.26" cy="208.27" r="2.02" fill="#a8a8a8"/>
<circle cx="415.66" cy="227.24" r="2.25" fill="#acacac"/>
<circle cx="413.60" cy="224.39" r="2.26" fill="#acacac"/>
<circle cx="416.32" cy="226.60" r="2.26" fill="#acacac"/>
<circle cx="417.63" cy="230.94" r="1.63" fill="#acacac"/>
<circle cx="417.43" cy="225.81" r="2.25" fill="#acacac"/>
<circle cx="413.49" cy="223.23" r="1.80" fill="#acacac"/>
<circle cx="414.67" cy="223.03" r="2.24" fill="#acacac"/>
<circle cx="415.23" cy="227.21" r="1.67" fill="#acacac"/>
<circle cx="418.38" cy="225.96" r="2.16" fill="#acacac"/>
<circle cx="415.37" cy="226.49" r="2.24" fill="#acacac"/>
<circle cx="413.47" cy="229.59" r="2.14" fill="#acacac"/>
<circle cx="415.62" cy="225.67" r="1.79" fill="#acacac"/>
<circle cx="414.57" cy="225.71" r="1.90" fill="#acacac"/>
<circle cx="413.76" cy="222.18" r="2.06" fill="#acacac"/>
<circle cx="413.63" cy="222.58" r="2.17" fill="#acacac"/>
<circle cx="414.48" cy="224.75" r="1.79" fill="#acacac"/>
<circle cx="413.13" cy="230.34" r="2.11" fill="#acacac"/>
<circle cx="413.77" cy="230.59" r="1.94" fill="#acacac"/>
<circle cx="416.18" cy="229.92" r="1.90" fill="#acacac"/>
<circle cx="415.17" cy="222.44" r="1.89" fill="#acacac"/>
<circle cx="416.72" cy="238.41" r="1.93" fill="#b4b4b4"/>
<circle cx="418.68" cy="237.83" r="1.88" fill="#b4b4b4"/>
<circle cx="417.80" cy="235.47" r="2.34" fill="#b4b4b4"/>
<circle cx="419.29" cy="233.72" r="2.17" fill="#b4b4b4"/>
<circle cx="418.13" cy="235.35" r="1.86" fill="#b4b4b4"/>
<circle cx="418.47" cy="232.64" r="1.90" fill="#b4b4b4"/>
<circle cx="417.49" cy="236.73" r="2.32" fill="#b4b4b4"/>
<circle cx="415.70" cy="238.81" r="2.07" fill="#b4b4b4"/>
<circle cx="417.36" cy="236.16" r="2.27" fill="#b4b4b4"/>
<circle cx="417.40" cy="235.73" r="2.31" fill="#b4b4b4"/>
<circle cx="417.47" cy="235.96" r="2.01" fill="#b4b4b4"/>
<circle cx="418.15" cy="239.42" r="2.19" fill="#b4b4b4"/>
<circle cx="415.75" cy="235.62" r="2.14" fill="#b4b4b4"/>
<circle cx="418.52" cy="236.98" r="2.22" fill="#b4b4b4"/>
<circle cx="415.10" cy="226.20" r="2.70" fill="#7b52ab"/>
<circle cx="420.20" cy="240.95" r="0.84" fill="#c8c8d0"/>
<circle cx="427.54" cy="258.44" r="0.84" fill="#c8c8d0"/>
<circle cx="428.86" cy="256.83" r="0.83" fill="#c8c8d0"/>
<circle cx="428.69" cy="255.02" r="1.04" fill="#c8c8d0"/>
<circle cx="421.56" cy="239.37" r="1.01" fill="#c8c8d0"/>
<circle cx="428.86" cy="252.60" r="1.21" fill="#c8c8d0"/>
<circle cx="428.35" cy="259.80" r="0.97" fill="#c8c8d0"/>
<circle cx="423.76" cy="250.96" r="1.29" fill="#c8c8d0"/>
<circle cx="422.14" cy="244.87" r="0.96" fill="#c8c8d0"/>
<circle cx="424.55" cy="244.38" r="1.08" fill="#c8c8d0"/>
<circle cx="425.50" cy="250.77" r="0.83" fill="#c8c8d0"/>
<circle cx="425.14" cy="245.61" r="1.20" fill="#c8c8d0"/>
<circle cx="428.67" cy="259.42" r="0.90" fill="#c8c8d0"/>
<circle cx="420.85" cy="239.30" r="0.99" fill="#c8c8d0"/>
<circle cx="425.27" cy="249.61" r="1.09" fill="#c8c8d0"/>
<circle cx="425.54" cy="247.14" r="0.90" fill="#c8c8d0"/>
<circle cx="430.69" cy="260.98" r="0.83" fill="#c8c8d0"/>
<circle cx="423.78" cy="245.86" r="1.00" fill="#c8c8d0"/>
<circle cx="425.68" cy="252.12" r="0.94" fill="#c8c8d0"/>
<circle cx="428.14" cy="257.90" r="1.16" fill="#c8c8d0"/>
<circle cx="429.53" cy="258.06" r="1.03" fill="#c8c8d0"/>
<circle cx="430.37" cy="261.37" r="1.24" fill="#c8c8d0"/>
<circle cx="420.46" cy="239.44" r="1.12" fill="#c8c8d0"/>
<circle cx="422.25" cy="239.22" r="0.84" fill="#c8c8d0"/>
<circle cx="425.40" cy="252.91" r="1.26" fill="#c8c8d0"/>
<circle cx="427.73" cy="252.03" r="1.05" fill="#c8c8d0"/>
<circle cx="428.45" cy="254.85" r="0.95" fill="#c8c8d0"/>
<circle cx="423.96" cy="243.28" r="0.87" fill="#c8c8d0"/>
<circle cx="429.14" cy="260.95" r="0.85" fill="#c8c8d0"/>
<circle cx="422.42" cy="240.38" r="1.28" fill="#c8c8d0"/>
<circle cx="425.46" cy="248.37" r="0.93" fill="#c8c8d0"/>
<circle cx="431.11" cy="260.65" r="0.88" fill="#c8c8d0"/>
<circle cx="421.60" cy="239.42" r="0.82" fill="#c8c8d0"/>
<circle cx="428.60" cy="258.90" r="0.92" fill="#c8c8d0"/>
<circle cx="425.85" cy="252.55" r="1.08" fill="#c8c8d0"/>
<circle cx="423.64" cy="241.85" r="0.96" fill="#c8c8d0"/>
<circle cx="428.03" cy="259.03" r="1.20" fill="#c8c8d0"/>
<circle cx="430.65" cy="262.50" r="0.82" fill="#c8c8d0"/>
<circle cx="424.99" cy="247.50" r="0.91" fill="#c8c8d0"/>
<circle cx="424.45" cy="251.64" r="1.03" fill="#c8c8d0"/>
<circle cx="427.98" cy="256.21" r="1.14" fill="#c8c8d0"/>
<circle cx="422.83" cy="240.86" r="0.86" fill="#c8c8d0"/>
<circle cx="432.67" cy="261.08" r="1.27" fill="#c8c8d0"/>
<circle cx="425.10" cy="251.16" r="0.97" fill="#c8c8d0"/>
<circle cx="428.53" cy="256.76" r="1.26" fill="#c8c8d0"/>
<circle cx="434.88" cy="263.69" r="0.96" fill="#d8d8d8"/>
<circle cx="435.33" cy="264.70" r="0.73" fill="#d8d8d8"/>
<circle cx="433.17" cy="263.78" r="0.97" fill="#d8d8d8"/>
<circle cx="432.82" cy="265.19" r="0.98" fill="#d8d8d8"/>
<circle cx="435.79" cy="263.56" r="0.99" fill="#d8d8d8"/>
<circle cx="438.56" cy="264.19" r="0.90" fill="#d8d8d8"/>
<circle cx="433.67" cy="263.60" r="0.83" fill="#d8d8d8"/>
<circle cx="436.94" cy="263.99" r="0.75" fill="#d8d8d8"/>
<circle cx="421.90" cy="218.60" r="0.95" fill="#111"/>
<circle cx="419.60" cy="238.40" r="0.95" fill="#111"/>
<circle cx="425.90" cy="249.30" r="0.95" fill="#111"/>
<circle cx="428.60" cy="256.50" r="0.95" fill="#111"/>
<circle cx="430.40" cy="260.50" r="0.95" fill="#111"/>
<circle cx="432.20" cy="263.70" r="0.95" fill="#111"/>
<circle cx="423.20" cy="245.70" r="1.10" fill="#6a4a9a"/>
<circle cx="478.40" cy="170.80" r="2.50" fill="#e83a3a"/>
<circle cx="479.30" cy="170.80" r="2.50" fill="#e83a3a"/>
<circle cx="480.20" cy="170.80" r="2.50" fill="#e83a3a"/>
<circle cx="481.10" cy="170.80" r="2.50" fill="#e83a3a"/>
<circle cx="482.00" cy="170.80" r="2.50" fill="#e83a3a"/>
<circle cx="482.90" cy="170.80" r="2.50" fill="#e83a3a"/>
<circle cx="483.80" cy="170.80" r="2.50" fill="#e83a3a"/>
<circle cx="484.70" cy="170.80" r="2.50" fill="#e83a3a"/>
<circle cx="485.60" cy="170.80" r="2.50" fill="#e83a3a"/>
<circle cx="486.50" cy="170.80" r="2.50" fill="#e83a3a"/>
<circle cx="487.50" cy="170.80" r="2.50" fill="#141414"/>
<circle cx="488.40" cy="170.80" r="2.50" fill="#141414"/>
<circle cx="489.30" cy="170.80" r="2.50" fill="#141414"/>
<circle cx="490.20" cy="170.80" r="2.50" fill="#141414"/>
<circle cx="491.10" cy="170.80" r="2.50" fill="#141414"/>
<circle cx="492.00" cy="170.80" r="2.50" fill="#141414"/>
<circle cx="492.90" cy="170.80" r="2.50" fill="#141414"/>
<circle cx="493.80" cy="170.80" r="2.50" fill="#141414"/>
<circle cx="494.70" cy="170.80" r="2.50" fill="#141414"/>
<circle cx="495.60" cy="170.80" r="2.50" fill="#141414"/>
<circle cx="496.50" cy="170.80" r="2.50" fill="#141414"/>
<circle cx="497.40" cy="170.80" r="2.50" fill="#141414"/>
<circle cx="498.30" cy="170.80" r="2.50" fill="#141414"/>
<circle cx="499.20" cy="170.80" r="2.50" fill="#141414"/>
<circle cx="500.10" cy="170.80" r="2.50" fill="#141414"/>
<circle cx="501.00" cy="170.80" r="2.50" fill="#141414"/>
<circle cx="501.90" cy="170.80" r="2.50" fill="#141414"/>
<circle cx="485.94" cy="203.88" r="1.66" fill="#b4b4b4"/>
<circle cx="485.37" cy="201.59" r="2.04" fill="#b4b4b4"/>
<circle cx="486.77" cy="203.88" r="1.97" fill="#b4b4b4"/>
<circle cx="486.54" cy="196.34" r="1.68" fill="#b4b4b4"/>
<circle cx="485.47" cy="202.47" r="2.06" fill="#b4b4b4"/>
<circle cx="486.15" cy="199.53" r="2.13" fill="#b4b4b4"/>
<circle cx="485.58" cy="197.64" r="2.35" fill="#b4b4b4"/>
<circle cx="487.46" cy="199.32" r="2.30" fill="#b4b4b4"/>
<circle cx="485.52" cy="200.80" r="1.68" fill="#b4b4b4"/>
<circle cx="485.43" cy="204.79" r="2.00" fill="#b4b4b4"/>
<circle cx="485.43" cy="201.36" r="1.97" fill="#b4b4b4"/>
<circle cx="486.60" cy="197.64" r="2.01" fill="#b4b4b4"/>
<circle cx="485.65" cy="199.67" r="1.92" fill="#b4b4b4"/>
<circle cx="482.46" cy="208.85" r="1.79" fill="#aaaaaa"/>
<circle cx="485.01" cy="218.20" r="2.31" fill="#aaaaaa"/>
<circle cx="488.01" cy="206.21" r="1.99" fill="#aaaaaa"/>
<circle cx="485.48" cy="217.07" r="2.15" fill="#aaaaaa"/>
<circle cx="486.70" cy="209.21" r="1.72" fill="#aaaaaa"/>
<circle cx="481.81" cy="209.70" r="1.91" fill="#aaaaaa"/>
<circle cx="483.59" cy="213.25" r="2.31" fill="#aaaaaa"/>
<circle cx="485.53" cy="207.18" r="1.79" fill="#aaaaaa"/>
<circle cx="486.93" cy="214.33" r="2.17" fill="#aaaaaa"/>
<circle cx="483.27" cy="206.87" r="2.08" fill="#aaaaaa"/>
<circle cx="481.88" cy="219.76" r="2.09" fill="#aaaaaa"/>
<circle cx="487.14" cy="215.69" r="1.87" fill="#aaaaaa"/>
<circle cx="484.74" cy="217.35" r="2.34" fill="#aaaaaa"/>
<circle cx="487.99" cy="206.15" r="1.93" fill="#aaaaaa"/>
<circle cx="482.20" cy="211.70" r="1.80" fill="#aaaaaa"/>
<circle cx="486.22" cy="216.27" r="1.72" fill="#aaaaaa"/>
<circle cx="482.55" cy="210.82" r="1.76" fill="#aaaaaa"/>
<circle cx="483.85" cy="209.08" r="2.38" fill="#aaaaaa"/>
<circle cx="486.98" cy="219.96" r="1.98" fill="#aaaaaa"/>
<circle cx="486.90" cy="212.96" r="2.33" fill="#aaaaaa"/>
<circle cx="485.93" cy="216.52" r="1.76" fill="#aaaaaa"/>
<circle cx="487.35" cy="214.75" r="2.23" fill="#aaaaaa"/>
<circle cx="486.48" cy="207.29" r="1.88" fill="#aaaaaa"/>
<circle cx="488.17" cy="208.27" r="2.14" fill="#aaaaaa"/>
<circle cx="482.52" cy="216.44" r="2.26" fill="#aaaaaa"/>
<circle cx="487.75" cy="219.12" r="2.20" fill="#aaaaaa"/>
<circle cx="487.05" cy="217.65" r="2.07" fill="#aaaaaa"/>
<circle cx="487.21" cy="212.09" r="2.23" fill="#aaaaaa"/>
<circle cx="483.63" cy="218.19" r="2.37" fill="#aaaaaa"/>
<circle cx="488.03" cy="213.44" r="1.69" fill="#aaaaaa"/>
<circle cx="486.95" cy="219.56" r="1.80" fill="#aaaaaa"/>
<circle cx="481.95" cy="230.06" r="1.76" fill="#acacac"/>
<circle cx="481.97" cy="225.49" r="1.99" fill="#acacac"/>
<circle cx="484.57" cy="230.90" r="2.17" fill="#acacac"/>
<circle cx="485.15" cy="224.70" r="2.23" fill="#acacac"/>
<circle cx="486.06" cy="228.19" r="2.26" fill="#acacac"/>
<circle cx="481.11" cy="224.87" r="2.12" fill="#acacac"/>
<circle cx="482.57" cy="230.04" r="2.08" fill="#acacac"/>
<circle cx="485.20" cy="230.04" r="1.60" fill="#acacac"/>
<circle cx="480.69" cy="225.87" r="1.69" fill="#acacac"/>
<circle cx="483.03" cy="229.75" r="2.08" fill="#acacac"/>
<circle cx="482.55" cy="225.49" r="1.77" fill="#acacac"/>
<circle cx="485.50" cy="224.24" r="2.10" fill="#acacac"/>
<circle cx="481.11" cy="223.51" r="1.82" fill="#acacac"/>
<circle cx="483.16" cy="228.41" r="2.13" fill="#acacac"/>
<circle cx="481.30" cy="229.69" r="2.15" fill="#acacac"/>
<circle cx="485.37" cy="220.50" r="1.75" fill="#acacac"/>
<circle cx="486.15" cy="223.26" r="1.89" fill="#acacac"/>
<circle cx="485.76" cy="222.69" r="2.09" fill="#acacac"/>
<circle cx="482.89" cy="230.73" r="2.00" fill="#acacac"/>
<circle cx="483.54" cy="231.47" r="2.39" fill="#acacac"/>
<circle cx="485.42" cy="222.27" r="1.73" fill="#acacac"/>
<circle cx="480.60" cy="226.33" r="1.74" fill="#acacac"/>
<circle cx="483.24" cy="231.34" r="2.25" fill="#acacac"/>
<circle cx="482.64" cy="223.01" r="1.68" fill="#acacac"/>
<circle cx="473.88" cy="248.58" r="1.31" fill="#c4c4c4"/>
<circle cx="476.92" cy="243.30" r="1.62" fill="#c4c4c4"/>
<circle cx="467.46" cy="251.99" r="1.40" fill="#c4c4c4"/>
<circle cx="476.09" cy="245.32" r="1.19" fill="#c4c4c4"/>
<circle cx="470.87" cy="251.83" r="1.20" fill="#c4c4c4"/>
<circle cx="473.23" cy="247.67" r="1.63" fill="#c4c4c4"/>
<circle cx="471.71" cy="246.94" r="1.68" fill="#c4c4c4"/>
<circle cx="481.15" cy="233.71" r="1.45" fill="#c4c4c4"/>
<circle cx="471.33" cy="248.72" r="1.50" fill="#c4c4c4"/>
<circle cx="468.01" cy="258.73" r="1.50" fill="#c4c4c4"/>
<circle cx="478.42" cy="233.05" r="1.01" fill="#c4c4c4"/>
<circle cx="468.05" cy="260.59" r="1.02" fill="#c4c4c4"/>
<circle cx="471.65" cy="249.63" r="0.94" fill="#c4c4c4"/>
<circle cx="475.60" cy="243.77" r="1.41" fill="#c4c4c4"/>
<circle cx="477.36" cy="240.43" r="1.13" fill="#c4c4c4"/>
<circle cx="471.36" cy="248.33" r="1.68" fill="#c4c4c4"/>
<circle cx="472.10" cy="251.46" r="1.44" fill="#c4c4c4"/>
<circle cx="477.07" cy="243.41" r="1.47" fill="#c4c4c4"/>
<circle cx="468.30" cy="252.73" r="1.03" fill="#c4c4c4"/>
<circle cx="473.33" cy="249.25" r="1.53" fill="#c4c4c4"/>
<circle cx="472.63" cy="242.42" r="1.31" fill="#c4c4c4"/>
<circle cx="464.81" cy="258.32" r="1.49" fill="#c4c4c4"/>
<circle cx="476.31" cy="237.12" r="0.94" fill="#c4c4c4"/>
<circle cx="474.83" cy="240.93" r="1.67" fill="#c4c4c4"/>
<circle cx="463.69" cy="260.86" r="1.15" fill="#c4c4c4"/>
<circle cx="464.03" cy="260.31" r="1.16" fill="#c4c4c4"/>
<circle cx="471.08" cy="245.15" r="1.11" fill="#c4c4c4"/>
<circle cx="473.40" cy="243.82" r="1.67" fill="#c4c4c4"/>
<circle cx="474.22" cy="240.01" r="1.63" fill="#c4c4c4"/>
<circle cx="475.27" cy="245.51" r="1.41" fill="#c4c4c4"/>
<circle cx="467.21" cy="255.36" r="1.02" fill="#c4c4c4"/>
<circle cx="468.47" cy="254.71" r="1.35" fill="#c4c4c4"/>
<circle cx="471.46" cy="252.12" r="1.12" fill="#c4c4c4"/>
<circle cx="477.06" cy="242.88" r="1.32" fill="#c4c4c4"/>
<circle cx="476.46" cy="240.65" r="1.11" fill="#c4c4c4"/>
<circle cx="465.68" cy="255.14" r="1.56" fill="#c4c4c4"/>
<circle cx="470.62" cy="248.99" r="1.65" fill="#c4c4c4"/>
<circle cx="474.48" cy="239.97" r="0.96" fill="#c4c4c4"/>
<circle cx="473.29" cy="248.46" r="1.44" fill="#c4c4c4"/>
<circle cx="475.66" cy="244.38" r="0.99" fill="#c4c4c4"/>
<circle cx="476.26" cy="241.21" r="1.67" fill="#c4c4c4"/>
<circle cx="471.64" cy="251.02" r="1.52" fill="#c4c4c4"/>
<circle cx="476.72" cy="243.83" r="1.49" fill="#c4c4c4"/>
<circle cx="474.23" cy="242.25" r="1.54" fill="#c4c4c4"/>
<circle cx="472.87" cy="242.49" r="1.60" fill="#c4c4c4"/>
<circle cx="472.15" cy="247.95" r="1.44" fill="#c4c4c4"/>
<circle cx="464.28" cy="259.05" r="1.17" fill="#c4c4c4"/>
<circle cx="478.49" cy="233.98" r="1.30" fill="#c4c4c4"/>
<circle cx="468.23" cy="257.56" r="1.36" fill="#c4c4c4"/>
<circle cx="474.39" cy="244.11" r="1.12" fill="#c4c4c4"/>
<circle cx="469.06" cy="257.34" r="1.57" fill="#c4c4c4"/>
<circle cx="478.76" cy="236.53" r="1.50" fill="#c4c4c4"/>
<circle cx="474.88" cy="247.02" r="1.62" fill="#c4c4c4"/>
<circle cx="470.78" cy="254.29" r="1.42" fill="#c4c4c4"/>
<circle cx="464.61" cy="258.36" r="1.46" fill="#c4c4c4"/>
<circle cx="470.12" cy="253.11" r="1.12" fill="#c4c4c4"/>
<circle cx="479.61" cy="234.02" r="1.56" fill="#c4c4c4"/>
<circle cx="474.18" cy="240.19" r="1.08" fill="#c4c4c4"/>
<circle cx="479.65" cy="234.82" r="1.68" fill="#c4c4c4"/>
<circle cx="467.13" cy="256.06" r="1.46" fill="#c4c4c4"/>
<circle cx="464.03" cy="262.22" r="0.80" fill="#d8d8d8"/>
<circle cx="462.78" cy="262.01" r="0.74" fill="#d8d8d8"/>
<circle cx="459.35" cy="262.83" r="0.83" fill="#d8d8d8"/>
<circle cx="463.84" cy="263.66" r="0.71" fill="#d8d8d8"/>
<circle cx="459.66" cy="264.48" r="0.77" fill="#d8d8d8"/>
<circle cx="461.04" cy="263.89" r="0.80" fill="#d8d8d8"/>
<circle cx="460.31" cy="263.71" r="0.94" fill="#d8d8d8"/>
<circle cx="464.04" cy="262.63" r="0.94" fill="#d8d8d8"/>
<circle cx="459.18" cy="263.61" r="0.93" fill="#d8d8d8"/>
<circle cx="462.03" cy="262.09" r="0.83" fill="#d8d8d8"/>
<circle cx="487.00" cy="199.90" r="2.20" fill="#b8b8b8"/>
<circle cx="482.50" cy="199.10" r="2.50" fill="#7a1f24" stroke="#111" stroke-width="0.5"/>
<circle cx="486.50" cy="207.00" r="2.20" fill="#b8b8b8"/>
<circle cx="481.10" cy="206.30" r="2.40" fill="#2d4a3a" stroke="#111" stroke-width="0.6"/>
<circle cx="481.10" cy="231.20" r="2.80" fill="#7a58a6"/>
<circle cx="479.30" cy="219.00" r="0.95" fill="#111"/>
<circle cx="477.50" cy="235.70" r="0.95" fill="#111"/>
<circle cx="478.50" cy="242.00" r="0.95" fill="#111"/>
<circle cx="477.50" cy="247.50" r="0.95" fill="#111"/>
<circle cx="471.20" cy="256.50" r="0.95" fill="#111"/>
<circle cx="469.50" cy="259.00" r="0.95" fill="#111"/>
<circle cx="264.40" cy="158.70" r="0.70" fill="#c8c8c8"/>
<circle cx="270.60" cy="158.70" r="2.20" fill="#c8c8c8"/>
<text x="273.80" y="160.70" font-size="5.6" fill="#222" stroke="#222" stroke-width="0.187">: c2_c3_c6_ENCODE_CHEA</text>
<circle cx="264.40" cy="165.40" r="0.70" fill="#7b52ab"/>
<circle cx="270.60" cy="165.40" r="2.20" fill="#7b52ab"/>
<text x="273.80" y="167.40" font-size="5.6" fill="#222" stroke="#222" stroke-width="0.187">: MYC program</text>
<circle cx="264.40" cy="172.70" r="0.70" fill="#e05a4a"/>
<circle cx="270.60" cy="172.70" r="2.20" fill="#e05a4a"/>
<text x="273.80" y="174.70" font-size="5.6" fill="#222" stroke="#222" stroke-width="0.187">: SPI1 program</text>
<circle cx="264.40" cy="180.00" r="0.70" fill="#444"/>
<circle cx="270.60" cy="180.00" r="2.20" fill="#444"/>
<text x="273.80" y="182.00" font-size="5.6" fill="#222" stroke="#222" stroke-width="0.187">: Interferon/IRF programs</text>
<text x="265.20" y="198.60" font-size="4.6" fill="#333" stroke="#333" stroke-width="0.153" transform="rotate(-90 265.20 198.60)">&gt; 0.25</text>
<text x="272.20" y="198.60" font-size="4.6" fill="#333" stroke="#333" stroke-width="0.153" transform="rotate(-90 272.20 198.60)">≤ 0.25</text>
<text x="262.30" y="205.00" font-size="5.0" fill="#333" stroke="#333" stroke-width="0.167">FDR</text>
<text x="222.00" y="310.30" font-size="9.6" font-weight="bold" fill="#000">C</text>
<text x="245.20" y="305.50" font-size="5.6" fill="#222" stroke="#222" stroke-width="0.060">IMS-M2</text>
<circle cx="283.2" cy="343.5" r="35.3" fill="#5b77c3"/>
<circle cx="328.2" cy="342.5" r="25.6" fill="#f7c35a"/>
<clipPath id="cl343"><circle cx="283.2" cy="343.5" r="35.3"/></clipPath>
<circle cx="328.2" cy="342.5" r="25.6" fill="#c99a5c" clip-path="url(#cl343)"/>
<text x="283.00" y="314.00" font-size="6.0" text-anchor="middle" fill="#23348a" stroke="#23348a" stroke-width="0.060">ChIP-seq</text>
<text x="283.00" y="319.30" font-size="6.0" text-anchor="middle" fill="#23348a" stroke="#23348a" stroke-width="0.060">annotation</text>
<text x="251.80" y="329.90" font-size="5.75" fill="#1c2760" stroke="#1c2760" stroke-width="0.060">H3K27Me3</text>
<text x="251.80" y="360.30" font-size="5.75" fill="#1c2760" stroke="#1c2760" stroke-width="0.060">H3K9Me2</text>
<path d="M264.4,332.2 C265.6,338.5 267.5,342.7 273,342.8" fill="none" stroke="#1c2760" stroke-width="0.6"/>
<path d="M264.4,353.4 C265.6,347.5 267.5,342.9 273,342.8" fill="none" stroke="#1c2760" stroke-width="0.6"/>
<circle cx="274.3" cy="342.8" r="1.15" fill="#101a50"/>
<text x="286.00" y="342.50" font-size="6.0" text-anchor="middle" fill="#1c2760" stroke="#1c2760" stroke-width="0.060">3,868</text>
<text x="286.00" y="348.10" font-size="6.0" text-anchor="middle" fill="#1c2760" stroke="#1c2760" stroke-width="0.060">genes</text>
<text x="311.30" y="342.50" font-size="6.0" text-anchor="middle" fill="#b5551c" stroke="#b5551c" stroke-width="0.060">93</text>
<text x="311.30" y="348.10" font-size="6.0" text-anchor="middle" fill="#b5551c" stroke="#b5551c" stroke-width="0.060">genes</text>
<text x="330.50" y="326.00" font-size="6.0" text-anchor="middle" fill="#e58a2c" stroke="#e58a2c" stroke-width="0.060">RNA-seq</text>
<text x="336.50" y="342.50" font-size="6.0" text-anchor="middle" fill="#3a2a10" stroke="#3a2a10" stroke-width="0.060">530</text>
<text x="336.50" y="348.10" font-size="6.0" text-anchor="middle" fill="#3a2a10" stroke="#3a2a10" stroke-width="0.060">genes</text>
<text x="245.20" y="387.60" font-size="5.6" fill="#222" stroke="#222" stroke-width="0.060">U937</text>
<circle cx="283.5" cy="423.8" r="35.3" fill="#5b77c3"/>
<circle cx="328.8" cy="424.7" r="24.6" fill="#f7c35a"/>
<clipPath id="cl423"><circle cx="283.5" cy="423.8" r="35.3"/></clipPath>
<circle cx="328.8" cy="424.7" r="24.6" fill="#c99a5c" clip-path="url(#cl423)"/>
<text x="283.00" y="394.30" font-size="6.0" text-anchor="middle" fill="#23348a" stroke="#23348a" stroke-width="0.060">ChIP-seq</text>
<text x="283.00" y="399.60" font-size="6.0" text-anchor="middle" fill="#23348a" stroke="#23348a" stroke-width="0.060">annotation</text>
<text x="251.80" y="410.20" font-size="5.75" fill="#1c2760" stroke="#1c2760" stroke-width="0.060">H3K27Me3</text>
<text x="251.80" y="440.60" font-size="5.75" fill="#1c2760" stroke="#1c2760" stroke-width="0.060">H3K9Me2</text>
<path d="M264.4,412.5 C265.6,418.8 267.5,423.0 273,423.1" fill="none" stroke="#1c2760" stroke-width="0.6"/>
<path d="M264.4,433.7 C265.6,427.8 267.5,423.2 273,423.1" fill="none" stroke="#1c2760" stroke-width="0.6"/>
<circle cx="274.3" cy="423.1" r="1.15" fill="#101a50"/>
<text x="286.00" y="422.80" font-size="6.0" text-anchor="middle" fill="#1c2760" stroke="#1c2760" stroke-width="0.060">4,214</text>
<text x="286.00" y="428.40" font-size="6.0" text-anchor="middle" fill="#1c2760" stroke="#1c2760" stroke-width="0.060">genes</text>
<text x="311.30" y="422.80" font-size="6.0" text-anchor="middle" fill="#b5551c" stroke="#b5551c" stroke-width="0.060">202</text>
<text x="311.30" y="428.40" font-size="6.0" text-anchor="middle" fill="#b5551c" stroke="#b5551c" stroke-width="0.060">genes</text>
<text x="330.50" y="406.30" font-size="6.0" text-anchor="middle" fill="#e58a2c" stroke="#e58a2c" stroke-width="0.060">RNA-seq</text>
<text x="336.50" y="422.80" font-size="6.0" text-anchor="middle" fill="#3a2a10" stroke="#3a2a10" stroke-width="0.060">1,140</text>
<text x="336.50" y="428.40" font-size="6.0" text-anchor="middle" fill="#3a2a10" stroke="#3a2a10" stroke-width="0.060">genes</text>
<text x="390.80" y="310.30" font-size="9.6" font-weight="bold" fill="#000">D</text>
<text x="476.20" y="314.00" font-size="6.5" text-anchor="middle" fill="#222" stroke="#222" stroke-width="0.217">Average combined score</text>
<text x="441.90" y="323.70" font-size="6.3" text-anchor="middle" fill="#222" stroke="#222" stroke-width="0.210">0.0</text>
<line x1="441.90" y1="325.00" x2="441.90" y2="326.50" stroke="#444" stroke-width="0.5"/>
<text x="460.70" y="323.70" font-size="6.3" text-anchor="middle" fill="#222" stroke="#222" stroke-width="0.210">2.5</text>
<line x1="460.70" y1="325.00" x2="460.70" y2="326.50" stroke="#444" stroke-width="0.5"/>
<text x="479.50" y="323.70" font-size="6.3" text-anchor="middle" fill="#222" stroke="#222" stroke-width="0.210">5.0</text>
<line x1="479.50" y1="325.00" x2="479.50" y2="326.50" stroke="#444" stroke-width="0.5"/>
<text x="498.30" y="323.70" font-size="6.3" text-anchor="middle" fill="#222" stroke="#222" stroke-width="0.210">7.5</text>
<line x1="498.30" y1="325.00" x2="498.30" y2="326.50" stroke="#444" stroke-width="0.5"/>
<line x1="438.40" y1="326.50" x2="438.40" y2="450.80" stroke="#5a6a8a" stroke-width="0.7"/>
<rect x="441.40" y="328.70" width="70.00" height="10.50" fill="#7e1426"/>
<text x="432.60" y="336.30" font-size="6.4" text-anchor="end" fill="#222" stroke="#222" stroke-width="0.213">SUZ12_CHEA</text>
<rect x="441.40" y="340.83" width="57.10" height="10.50" fill="#b31d28"/>
<text x="432.60" y="348.43" font-size="6.4" text-anchor="end" fill="#c0504d" stroke="#c0504d" stroke-width="0.213">SPI1_CHEA</text>
<rect x="441.40" y="352.96" width="56.60" height="10.50" fill="#d92424"/>
<text x="432.60" y="360.56" font-size="6.4" text-anchor="end" fill="#222" stroke="#222" stroke-width="0.213">TCF3_CHEA</text>
<rect x="441.40" y="365.09" width="55.70" height="10.50" fill="#e8452a"/>
<text x="432.60" y="372.69" font-size="6.4" text-anchor="end" fill="#c0504d" stroke="#c0504d" stroke-width="0.213">SPI1_ENCODE</text>
<rect x="441.40" y="377.22" width="53.80" height="10.50" fill="#ee6c35"/>
<text x="432.60" y="384.82" font-size="6.4" text-anchor="end" fill="#222" stroke="#222" stroke-width="0.213">UBTF_ENCODE</text>
<rect x="441.40" y="389.35" width="52.80" height="10.50" fill="#f5923f"/>
<text x="432.60" y="396.95" font-size="6.4" text-anchor="end" fill="#222" stroke="#222" stroke-width="0.213">SOX2_CHEA</text>
<rect x="441.40" y="401.48" width="50.90" height="10.50" fill="#f8b552"/>
<text x="432.60" y="409.08" font-size="6.4" text-anchor="end" fill="#222" stroke="#222" stroke-width="0.213">NFE2L2_CHEA</text>
<rect x="441.40" y="413.61" width="50.30" height="10.50" fill="#f9d272"/>
<text x="432.60" y="421.21" font-size="6.4" text-anchor="end" fill="#222" stroke="#222" stroke-width="0.213">SALL4_CHEA</text>
<rect x="441.40" y="425.74" width="49.80" height="10.50" fill="#fbeca8"/>
<text x="432.60" y="433.34" font-size="6.4" text-anchor="end" fill="#222" stroke="#222" stroke-width="0.213">IRF8_CHEA</text>
<rect x="441.40" y="437.87" width="39.60" height="10.50" fill="#fdf7d6"/>
<text x="432.60" y="445.47" font-size="6.4" text-anchor="end" fill="#222" stroke="#222" stroke-width="0.213">RELA_ENCODE</text>
<text x="8.00" y="485.00" font-size="9.6" font-weight="bold" fill="#000">E</text>
<text x="47.80" y="501.80" font-size="5.2" text-anchor="middle" fill="#333" stroke="#333" stroke-width="0.173">IMS-M2</text>
<line x1="38.40" y1="503.20" x2="57.10" y2="503.20" stroke="#888" stroke-width="0.5"/>
<text x="65.80" y="501.80" font-size="5.2" text-anchor="middle" fill="#333" stroke="#333" stroke-width="0.173">U937</text>
<line x1="59.70" y1="503.20" x2="71.80" y2="503.20" stroke="#888" stroke-width="0.5"/>
<text x="36.00" y="510.50" font-size="5.2" text-anchor="end" fill="#333" stroke="#333" stroke-width="0.173">sh<tspan font-style="italic">MTHFR</tspan>:</text>
<text x="40.20" y="510.50" font-size="5.3" text-anchor="middle" fill="#333" stroke="#333" stroke-width="0.177">–</text>
<text x="46.60" y="510.50" font-size="5.3" text-anchor="middle" fill="#333" stroke="#333" stroke-width="0.177">1</text>
<text x="53.30" y="510.50" font-size="5.3" text-anchor="middle" fill="#333" stroke="#333" stroke-width="0.177">2</text>
<text x="59.80" y="510.50" font-size="5.3" text-anchor="middle" fill="#333" stroke="#333" stroke-width="0.177">–</text>
<text x="66.00" y="510.50" font-size="5.3" text-anchor="middle" fill="#333" stroke="#333" stroke-width="0.177">1</text>
<text x="72.40" y="510.50" font-size="5.3" text-anchor="middle" fill="#333" stroke="#333" stroke-width="0.177">2</text>
<rect x="36.70" y="511.70" width="6.57" height="6.33" fill="#ffffff" stroke="#b4b4b4" stroke-width="0.45"/>
<rect x="43.27" y="511.70" width="6.57" height="6.33" fill="#ffffff" stroke="#b4b4b4" stroke-width="0.45"/>
<rect x="49.84" y="511.70" width="6.57" height="6.33" fill="#d42c33" stroke="#b4b4b4" stroke-width="0.45"/>
<rect x="56.41" y="511.70" width="6.57" height="6.33" fill="#ffffff" stroke="#b4b4b4" stroke-width="0.45"/>
<rect x="62.98" y="511.70" width="6.57" height="6.33" fill="#ffffff" stroke="#b4b4b4" stroke-width="0.45"/>
<rect x="69.55" y="511.70" width="6.57" height="6.33" fill="#f6c8c8" stroke="#b4b4b4" stroke-width="0.45"/>
<text x="77.30" y="516.40" font-size="5.2" font-style="italic" fill="#333" stroke="#333" stroke-width="0.173">BCL2A1</text>
<rect x="36.70" y="518.03" width="6.57" height="6.33" fill="#ffffff" stroke="#b4b4b4" stroke-width="0.45"/>
<rect x="43.27" y="518.03" width="6.57" height="6.33" fill="#d42c33" stroke="#b4b4b4" stroke-width="0.45"/>
<rect x="49.84" y="518.03" width="6.57" height="6.33" fill="#e9797c" stroke="#b4b4b4" stroke-width="0.45"/>
<rect x="56.41" y="518.03" width="6.57" height="6.33" fill="#ffffff" stroke="#b4b4b4" stroke-width="0.45"/>
<rect x="62.98" y="518.03" width="6.57" height="6.33" fill="#e9797c" stroke="#b4b4b4" stroke-width="0.45"/>
<rect x="69.55" y="518.03" width="6.57" height="6.33" fill="#e9797c" stroke="#b4b4b4" stroke-width="0.45"/>
<text x="77.30" y="522.73" font-size="5.2" font-style="italic" fill="#333" stroke="#333" stroke-width="0.173">DNASE2</text>
<rect x="36.70" y="524.36" width="6.57" height="6.33" fill="#ffffff" stroke="#b4b4b4" stroke-width="0.45"/>
<rect x="43.27" y="524.36" width="6.57" height="6.33" fill="#d42c33" stroke="#b4b4b4" stroke-width="0.45"/>
<rect x="49.84" y="524.36" width="6.57" height="6.33" fill="#d42c33" stroke="#b4b4b4" stroke-width="0.45"/>
<rect x="56.41" y="524.36" width="6.57" height="6.33" fill="#ffffff" stroke="#b4b4b4" stroke-width="0.45"/>
<rect x="62.98" y="524.36" width="6.57" height="6.33" fill="#e9797c" stroke="#b4b4b4" stroke-width="0.45"/>
<rect x="69.55" y="524.36" width="6.57" height="6.33" fill="#f6c8c8" stroke="#b4b4b4" stroke-width="0.45"/>
<text x="77.30" y="529.06" font-size="5.2" font-style="italic" fill="#333" stroke="#333" stroke-width="0.173">ICAM1</text>
<rect x="36.70" y="530.69" width="6.57" height="6.33" fill="#ffffff" stroke="#b4b4b4" stroke-width="0.45"/>
<rect x="43.27" y="530.69" width="6.57" height="6.33" fill="#ffffff" stroke="#b4b4b4" stroke-width="0.45"/>
<rect x="49.84" y="530.69" width="6.57" height="6.33" fill="#f6c8c8" stroke="#b4b4b4" stroke-width="0.45"/>
<rect x="56.41" y="530.69" width="6.57" height="6.33" fill="#ffffff" stroke="#b4b4b4" stroke-width="0.45"/>
<rect x="62.98" y="530.69" width="6.57" height="6.33" fill="#d42c33" stroke="#b4b4b4" stroke-width="0.45"/>
<rect x="69.55" y="530.69" width="6.57" height="6.33" fill="#e9797c" stroke="#b4b4b4" stroke-width="0.45"/>
<text x="77.30" y="535.39" font-size="5.2" font-style="italic" fill="#333" stroke="#333" stroke-width="0.173">S100A4</text>
<rect x="36.70" y="537.02" width="6.57" height="6.33" fill="#ffffff" stroke="#b4b4b4" stroke-width="0.45"/>
<rect x="43.27" y="537.02" width="6.57" height="6.33" fill="#e9797c" stroke="#b4b4b4" stroke-width="0.45"/>
<rect x="49.84" y="537.02" width="6.57" height="6.33" fill="#ffffff" stroke="#b4b4b4" stroke-width="0.45"/>
<rect x="56.41" y="537.02" width="6.57" height="6.33" fill="#ffffff" stroke="#b4b4b4" stroke-width="0.45"/>
<rect x="62.98" y="537.02" width="6.57" height="6.33" fill="#f6c8c8" stroke="#b4b4b4" stroke-width="0.45"/>
<rect x="69.55" y="537.02" width="6.57" height="6.33" fill="#f6c8c8" stroke="#b4b4b4" stroke-width="0.45"/>
<text x="77.30" y="541.72" font-size="5.2" font-style="italic" fill="#333" stroke="#333" stroke-width="0.173">SLC6A6</text>
<rect x="36.70" y="543.35" width="6.57" height="6.33" fill="#ffffff" stroke="#b4b4b4" stroke-width="0.45"/>
<rect x="43.27" y="543.35" width="6.57" height="6.33" fill="#f6c8c8" stroke="#b4b4b4" stroke-width="0.45"/>
<rect x="49.84" y="543.35" width="6.57" height="6.33" fill="#f6c8c8" stroke="#b4b4b4" stroke-width="0.45"/>
<rect x="56.41" y="543.35" width="6.57" height="6.33" fill="#ffffff" stroke="#b4b4b4" stroke-width="0.45"/>
<rect x="62.98" y="543.35" width="6.57" height="6.33" fill="#f6c8c8" stroke="#b4b4b4" stroke-width="0.45"/>
<rect x="69.55" y="543.35" width="6.57" height="6.33" fill="#f6c8c8" stroke="#b4b4b4" stroke-width="0.45"/>
<text x="77.30" y="548.05" font-size="5.2" font-style="italic" fill="#333" stroke="#333" stroke-width="0.173">LPXN</text>
<rect x="55.91" y="511.70" width="1.30" height="37.98" fill="#f7df70"/>
<rect x="36.70" y="554.20" width="39.40" height="3.60" fill="url(#gE)" stroke="#777" stroke-width="0.3"/>
<text x="38.40" y="563.00" font-size="5.4" text-anchor="middle" fill="#333" stroke="#333" stroke-width="0.180">0</text>
<text x="74.40" y="563.00" font-size="5.4" text-anchor="middle" fill="#333" stroke="#333" stroke-width="0.180">2</text>
<text x="8.70" y="576.40" font-size="9.6" font-weight="bold" fill="#000">F</text>
<text x="41.80" y="594.80" font-size="5.1" text-anchor="middle" fill="#333" stroke="#333" stroke-width="0.170">677 CC</text>
<text x="41.80" y="600.20" font-size="5.0" text-anchor="middle" fill="#333" stroke="#333" stroke-width="0.167">&amp; 1298 AA</text>
<line x1="25.40" y1="602.10" x2="58.20" y2="602.10" stroke="#666" stroke-width="0.5"/>
<text x="84.10" y="594.80" font-size="5.1" text-anchor="middle" fill="#333" stroke="#333" stroke-width="0.170">677 <tspan fill="#d42c33">TT</tspan></text>
<text x="84.10" y="600.20" font-size="5.0" text-anchor="middle" fill="#333" stroke="#333" stroke-width="0.167">&amp; 1298 AA</text>
<line x1="65.60" y1="602.10" x2="98.40" y2="602.10" stroke="#666" stroke-width="0.5"/>
<text x="21.20" y="607.40" font-size="5.3" text-anchor="end" fill="#333" stroke="#333" stroke-width="0.177">Clone:</text>
<text x="21.20" y="612.20" font-size="5.3" text-anchor="end" fill="#333" stroke="#333" stroke-width="0.177">OTX015:</text>
<text x="24.97" y="607.40" font-size="5.3" text-anchor="middle" fill="#333" stroke="#333" stroke-width="0.177">1</text>
<text x="24.97" y="612.20" font-size="4.0" text-anchor="middle" fill="#555" stroke="#555" stroke-width="0.133">–</text>
<text x="31.71" y="607.40" font-size="5.3" text-anchor="middle" fill="#333" stroke="#333" stroke-width="0.177">2</text>
<text x="31.71" y="612.20" font-size="4.0" text-anchor="middle" fill="#555" stroke="#555" stroke-width="0.133">–</text>
<text x="38.45" y="607.40" font-size="5.3" text-anchor="middle" fill="#333" stroke="#333" stroke-width="0.177">3</text>
<text x="38.45" y="612.20" font-size="4.0" text-anchor="middle" fill="#555" stroke="#555" stroke-width="0.133">–</text>
<text x="45.19" y="607.40" font-size="5.3" text-anchor="middle" fill="#333" stroke="#333" stroke-width="0.177">1</text>
<text x="45.19" y="612.20" font-size="4.0" text-anchor="middle" fill="#555" stroke="#555" stroke-width="0.133">+</text>
<text x="51.93" y="607.40" font-size="5.3" text-anchor="middle" fill="#333" stroke="#333" stroke-width="0.177">2</text>
<text x="51.93" y="612.20" font-size="4.0" text-anchor="middle" fill="#555" stroke="#555" stroke-width="0.133">+</text>
<text x="58.67" y="607.40" font-size="5.3" text-anchor="middle" fill="#333" stroke="#333" stroke-width="0.177">3</text>
<text x="58.67" y="612.20" font-size="4.0" text-anchor="middle" fill="#555" stroke="#555" stroke-width="0.133">+</text>
<text x="65.41" y="607.40" font-size="5.3" text-anchor="middle" fill="#333" stroke="#333" stroke-width="0.177">1</text>
<text x="65.41" y="612.20" font-size="4.0" text-anchor="middle" fill="#555" stroke="#555" stroke-width="0.133">–</text>
<text x="72.15" y="607.40" font-size="5.3" text-anchor="middle" fill="#333" stroke="#333" stroke-width="0.177">2</text>
<text x="72.15" y="612.20" font-size="4.0" text-anchor="middle" fill="#555" stroke="#555" stroke-width="0.133">–</text>
<text x="78.89" y="607.40" font-size="5.3" text-anchor="middle" fill="#333" stroke="#333" stroke-width="0.177">3</text>
<text x="78.89" y="612.20" font-size="4.0" text-anchor="middle" fill="#555" stroke="#555" stroke-width="0.133">–</text>
<text x="85.63" y="607.40" font-size="5.3" text-anchor="middle" fill="#333" stroke="#333" stroke-width="0.177">1</text>
<text x="85.63" y="612.20" font-size="4.0" text-anchor="middle" fill="#555" stroke="#555" stroke-width="0.133">+</text>
<text x="92.37" y="607.40" font-size="5.3" text-anchor="middle" fill="#333" stroke="#333" stroke-width="0.177">2</text>
<text x="92.37" y="612.20" font-size="4.0" text-anchor="middle" fill="#555" stroke="#555" stroke-width="0.133">+</text>
<text x="99.11" y="607.40" font-size="5.3" text-anchor="middle" fill="#333" stroke="#333" stroke-width="0.177">3</text>
<text x="99.11" y="612.20" font-size="4.0" text-anchor="middle" fill="#555" stroke="#555" stroke-width="0.133">+</text>
<rect x="21.60" y="615.00" width="6.74" height="6.40" fill="#ffffff" stroke="#b4b4b4" stroke-width="0.45"/>
<rect x="28.34" y="615.00" width="6.74" height="6.40" fill="#ffffff" stroke="#b4b4b4" stroke-width="0.45"/>
<rect x="35.08" y="615.00" width="6.74" height="6.40" fill="#ffffff" stroke="#b4b4b4" stroke-width="0.45"/>
<rect x="41.82" y="615.00" width="6.74" height="6.40" fill="#9ea4d6" stroke="#b4b4b4" stroke-width="0.45"/>
<rect x="48.56" y="615.00" width="6.74" height="6.40" fill="#3b4aa8" stroke="#b4b4b4" stroke-width="0.45"/>
<rect x="55.30" y="615.00" width="6.74" height="6.40" fill="#dcdcf0" stroke="#b4b4b4" stroke-width="0.45"/>
<rect x="62.04" y="615.00" width="6.74" height="6.40" fill="#ffffff" stroke="#b4b4b4" stroke-width="0.45"/>
<rect x="68.78" y="615.00" width="6.74" height="6.40" fill="#ffffff" stroke="#b4b4b4" stroke-width="0.45"/>
<rect x="75.52" y="615.00" width="6.74" height="6.40" fill="#ffffff" stroke="#b4b4b4" stroke-width="0.45"/>
<rect x="82.26" y="615.00" width="6.74" height="6.40" fill="#e42a33" stroke="#b4b4b4" stroke-width="0.45"/>
<rect x="89.00" y="615.00" width="6.74" height="6.40" fill="#f8dede" stroke="#b4b4b4" stroke-width="0.45"/>
<rect x="95.74" y="615.00" width="6.74" height="6.40" fill="#e42a33" stroke="#b4b4b4" stroke-width="0.45"/>
<text x="104.00" y="619.70" font-size="5.2" font-style="italic" fill="#333" stroke="#333" stroke-width="0.173">BCL2A1</text>
<rect x="21.60" y="621.40" width="6.74" height="6.40" fill="#ffffff" stroke="#b4b4b4" stroke-width="0.45"/>
<rect x="28.34" y="621.40" width="6.74" height="6.40" fill="#ffffff" stroke="#b4b4b4" stroke-width="0.45"/>
<rect x="35.08" y="621.40" width="6.74" height="6.40" fill="#ffffff" stroke="#b4b4b4" stroke-width="0.45"/>
<rect x="41.82" y="621.40" width="6.74" height="6.40" fill="#ffffff" stroke="#b4b4b4" stroke-width="0.45"/>
<rect x="48.56" y="621.40" width="6.74" height="6.40" fill="#3b4aa8" stroke="#b4b4b4" stroke-width="0.45"/>
<rect x="55.30" y="621.40" width="6.74" height="6.40" fill="#dcdcf0" stroke="#b4b4b4" stroke-width="0.45"/>
<rect x="62.04" y="621.40" width="6.74" height="6.40" fill="#ffffff" stroke="#b4b4b4" stroke-width="0.45"/>
<rect x="68.78" y="621.40" width="6.74" height="6.40" fill="#ffffff" stroke="#b4b4b4" stroke-width="0.45"/>
<rect x="75.52" y="621.40" width="6.74" height="6.40" fill="#ffffff" stroke="#b4b4b4" stroke-width="0.45"/>
<rect x="82.26" y="621.40" width="6.74" height="6.40" fill="#f1a3a6" stroke="#b4b4b4" stroke-width="0.45"/>
<rect x="89.00" y="621.40" width="6.74" height="6.40" fill="#f8dede" stroke="#b4b4b4" stroke-width="0.45"/>
<rect x="95.74" y="621.40" width="6.74" height="6.40" fill="#f8dede" stroke="#b4b4b4" stroke-width="0.45"/>
<text x="104.00" y="626.10" font-size="5.2" font-style="italic" fill="#333" stroke="#333" stroke-width="0.173">DNASE2</text>
<rect x="21.60" y="627.80" width="6.74" height="6.40" fill="#ffffff" stroke="#b4b4b4" stroke-width="0.45"/>
<rect x="28.34" y="627.80" width="6.74" height="6.40" fill="#ffffff" stroke="#b4b4b4" stroke-width="0.45"/>
<rect x="35.08" y="627.80" width="6.74" height="6.40" fill="#ffffff" stroke="#b4b4b4" stroke-width="0.45"/>
<rect x="41.82" y="627.80" width="6.74" height="6.40" fill="#dcdcf0" stroke="#b4b4b4" stroke-width="0.45"/>
<rect x="48.56" y="627.80" width="6.74" height="6.40" fill="#3b4aa8" stroke="#b4b4b4" stroke-width="0.45"/>
<rect x="55.30" y="627.80" width="6.74" height="6.40" fill="#ffffff" stroke="#b4b4b4" stroke-width="0.45"/>
<rect x="62.04" y="627.80" width="6.74" height="6.40" fill="#ffffff" stroke="#b4b4b4" stroke-width="0.45"/>
<rect x="68.78" y="627.80" width="6.74" height="6.40" fill="#ffffff" stroke="#b4b4b4" stroke-width="0.45"/>
<rect x="75.52" y="627.80" width="6.74" height="6.40" fill="#ffffff" stroke="#b4b4b4" stroke-width="0.45"/>
<rect x="82.26" y="627.80" width="6.74" height="6.40" fill="#f1a3a6" stroke="#b4b4b4" stroke-width="0.45"/>
<rect x="89.00" y="627.80" width="6.74" height="6.40" fill="#f8dede" stroke="#b4b4b4" stroke-width="0.45"/>
<rect x="95.74" y="627.80" width="6.74" height="6.40" fill="#f8dede" stroke="#b4b4b4" stroke-width="0.45"/>
<text x="104.00" y="632.50" font-size="5.2" font-style="italic" fill="#333" stroke="#333" stroke-width="0.173">ICAM1</text>
<rect x="21.60" y="634.20" width="6.74" height="6.40" fill="#ffffff" stroke="#b4b4b4" stroke-width="0.45"/>
<rect x="28.34" y="634.20" width="6.74" height="6.40" fill="#ffffff" stroke="#b4b4b4" stroke-width="0.45"/>
<rect x="35.08" y="634.20" width="6.74" height="6.40" fill="#ffffff" stroke="#b4b4b4" stroke-width="0.45"/>
<rect x="41.82" y="634.20" width="6.74" height="6.40" fill="#f8dede" stroke="#b4b4b4" stroke-width="0.45"/>
<rect x="48.56" y="634.20" width="6.74" height="6.40" fill="#3b4aa8" stroke="#b4b4b4" stroke-width="0.45"/>
<rect x="55.30" y="634.20" width="6.74" height="6.40" fill="#3b4aa8" stroke="#b4b4b4" stroke-width="0.45"/>
<rect x="62.04" y="634.20" width="6.74" height="6.40" fill="#ffffff" stroke="#b4b4b4" stroke-width="0.45"/>
<rect x="68.78" y="634.20" width="6.74" height="6.40" fill="#ffffff" stroke="#b4b4b4" stroke-width="0.45"/>
<rect x="75.52" y="634.20" width="6.74" height="6.40" fill="#ffffff" stroke="#b4b4b4" stroke-width="0.45"/>
<rect x="82.26" y="634.20" width="6.74" height="6.40" fill="#a8b4dc" stroke="#b4b4b4" stroke-width="0.45"/>
<rect x="89.00" y="634.20" width="6.74" height="6.40" fill="#e42a33" stroke="#b4b4b4" stroke-width="0.45"/>
<rect x="95.74" y="634.20" width="6.74" height="6.40" fill="#e42a33" stroke="#b4b4b4" stroke-width="0.45"/>
<text x="104.00" y="638.90" font-size="5.2" font-style="italic" fill="#333" stroke="#333" stroke-width="0.173">S100A4</text>
<rect x="21.60" y="640.60" width="6.74" height="6.40" fill="#ffffff" stroke="#b4b4b4" stroke-width="0.45"/>
<rect x="28.34" y="640.60" width="6.74" height="6.40" fill="#ffffff" stroke="#b4b4b4" stroke-width="0.45"/>
<rect x="35.08" y="640.60" width="6.74" height="6.40" fill="#ffffff" stroke="#b4b4b4" stroke-width="0.45"/>
<rect x="41.82" y="640.60" width="6.74" height="6.40" fill="#dcdcf0" stroke="#b4b4b4" stroke-width="0.45"/>
<rect x="48.56" y="640.60" width="6.74" height="6.40" fill="#ffffff" stroke="#b4b4b4" stroke-width="0.45"/>
<rect x="55.30" y="640.60" width="6.74" height="6.40" fill="#dcdcf0" stroke="#b4b4b4" stroke-width="0.45"/>
<rect x="62.04" y="640.60" width="6.74" height="6.40" fill="#ffffff" stroke="#b4b4b4" stroke-width="0.45"/>
<rect x="68.78" y="640.60" width="6.74" height="6.40" fill="#ffffff" stroke="#b4b4b4" stroke-width="0.45"/>
<rect x="75.52" y="640.60" width="6.74" height="6.40" fill="#ffffff" stroke="#b4b4b4" stroke-width="0.45"/>
<rect x="82.26" y="640.60" width="6.74" height="6.40" fill="#f1a3a6" stroke="#b4b4b4" stroke-width="0.45"/>
<rect x="89.00" y="640.60" width="6.74" height="6.40" fill="#f8dede" stroke="#b4b4b4" stroke-width="0.45"/>
<rect x="95.74" y="640.60" width="6.74" height="6.40" fill="#f8dede" stroke="#b4b4b4" stroke-width="0.45"/>
<text x="104.00" y="645.30" font-size="5.2" font-style="italic" fill="#333" stroke="#333" stroke-width="0.173">SLC6A6</text>
<rect x="21.60" y="647.00" width="6.74" height="6.40" fill="#ffffff" stroke="#b4b4b4" stroke-width="0.45"/>
<rect x="28.34" y="647.00" width="6.74" height="6.40" fill="#ffffff" stroke="#b4b4b4" stroke-width="0.45"/>
<rect x="35.08" y="647.00" width="6.74" height="6.40" fill="#ffffff" stroke="#b4b4b4" stroke-width="0.45"/>
<rect x="41.82" y="647.00" width="6.74" height="6.40" fill="#f8dede" stroke="#b4b4b4" stroke-width="0.45"/>
<rect x="48.56" y="647.00" width="6.74" height="6.40" fill="#9ea4d6" stroke="#b4b4b4" stroke-width="0.45"/>
<rect x="55.30" y="647.00" width="6.74" height="6.40" fill="#f8dede" stroke="#b4b4b4" stroke-width="0.45"/>
<rect x="62.04" y="647.00" width="6.74" height="6.40" fill="#ffffff" stroke="#b4b4b4" stroke-width="0.45"/>
<rect x="68.78" y="647.00" width="6.74" height="6.40" fill="#ffffff" stroke="#b4b4b4" stroke-width="0.45"/>
<rect x="75.52" y="647.00" width="6.74" height="6.40" fill="#ffffff" stroke="#b4b4b4" stroke-width="0.45"/>
<rect x="82.26" y="647.00" width="6.74" height="6.40" fill="#e42a33" stroke="#b4b4b4" stroke-width="0.45"/>
<rect x="89.00" y="647.00" width="6.74" height="6.40" fill="#f1a3a6" stroke="#b4b4b4" stroke-width="0.45"/>
<rect x="95.74" y="647.00" width="6.74" height="6.40" fill="#f8dede" stroke="#b4b4b4" stroke-width="0.45"/>
<text x="104.00" y="651.70" font-size="5.2" font-style="italic" fill="#333" stroke="#333" stroke-width="0.173">LPXN</text>
<rect x="44.40" y="655.30" width="35.60" height="2.80" fill="url(#gF)" stroke="#777" stroke-width="0.3"/>
<text x="46.30" y="662.80" font-size="5.4" text-anchor="middle" fill="#333" stroke="#333" stroke-width="0.180">−3</text>
<text x="78.70" y="662.80" font-size="5.4" text-anchor="middle" fill="#333" stroke="#333" stroke-width="0.180">3</text>
<text x="110.00" y="485.00" font-size="9.6" font-weight="bold" fill="#000">G</text>
<text x="137.50" y="507.40" font-size="5.0" text-anchor="end" fill="#333" stroke="#333" stroke-width="0.167">FA:</text>
<text x="137.50" y="513.30" font-size="5.0" text-anchor="end" fill="#333" stroke="#333" stroke-width="0.167">sh<tspan font-style="italic">SPI1</tspan>:</text>
<text x="143.30" y="507.40" font-size="5.0" text-anchor="middle" fill="#333" stroke="#333" stroke-width="0.167">+</text>
<text x="143.30" y="513.30" font-size="5.0" text-anchor="middle" fill="#333" stroke="#333" stroke-width="0.167">–</text>
<text x="151.20" y="507.40" font-size="5.0" text-anchor="middle" fill="#333" stroke="#333" stroke-width="0.167">–</text>
<text x="151.20" y="513.30" font-size="5.0" text-anchor="middle" fill="#333" stroke="#333" stroke-width="0.167">–</text>
<text x="158.90" y="507.40" font-size="5.0" text-anchor="middle" fill="#333" stroke="#333" stroke-width="0.167">+</text>
<text x="158.90" y="513.30" font-size="5.0" text-anchor="middle" fill="#333" stroke="#333" stroke-width="0.167">1</text>
<text x="166.70" y="507.40" font-size="5.0" text-anchor="middle" fill="#333" stroke="#333" stroke-width="0.167">–</text>
<text x="166.70" y="513.30" font-size="5.0" text-anchor="middle" fill="#333" stroke="#333" stroke-width="0.167">1</text>
<text x="174.60" y="507.40" font-size="5.0" text-anchor="middle" fill="#333" stroke="#333" stroke-width="0.167">+</text>
<text x="174.60" y="513.30" font-size="5.0" text-anchor="middle" fill="#333" stroke="#333" stroke-width="0.167">2</text>
<text x="182.30" y="507.40" font-size="5.0" text-anchor="middle" fill="#333" stroke="#333" stroke-width="0.167">–</text>
<text x="182.30" y="513.30" font-size="5.0" text-anchor="middle" fill="#333" stroke="#333" stroke-width="0.167">2</text>
<rect x="138.40" y="515.60" width="48.40" height="20.60" fill="#b9b9b9"/>
<rect x="138.40" y="524.60" width="48.40" height="1.60" fill="#d0d0d0"/>
<rect x="140.30" y="518.40" width="6.00" height="2.60" fill="#3a3a3a" rx="1"/>
<rect x="140.20" y="529.80" width="6.20" height="2.20" fill="#444" rx="0.8"/>
<rect x="148.20" y="518.40" width="6.00" height="2.60" fill="#3a3a3a" rx="1"/>
<rect x="148.10" y="529.80" width="6.20" height="2.20" fill="#444" rx="0.8"/>
<rect x="155.80" y="529.80" width="6.20" height="2.20" fill="#444" rx="0.8"/>
<rect x="163.60" y="529.80" width="6.20" height="2.20" fill="#444" rx="0.8"/>
<rect x="171.50" y="529.80" width="6.20" height="2.20" fill="#444" rx="0.8"/>
<rect x="179.20" y="529.80" width="6.20" height="2.20" fill="#444" rx="0.8"/>
<text x="136.60" y="521.60" font-size="5.2" text-anchor="end" fill="#333" stroke="#333" stroke-width="0.173">SPI1</text>
<text x="136.60" y="532.60" font-size="5.2" text-anchor="end" fill="#333" stroke="#333" stroke-width="0.173">Vinculin</text>
<text x="208.10" y="486.10" font-size="9.6" font-weight="bold" fill="#000">H</text>
<text x="230.40" y="508.00" font-size="5.6" text-anchor="end" fill="#333" stroke="#333" stroke-width="0.187">sh<tspan font-style="italic">MTHFR</tspan>:</text>
<text x="230.40" y="513.80" font-size="5.6" text-anchor="end" fill="#333" stroke="#333" stroke-width="0.187">sh<tspan font-style="italic">SPI1</tspan>:</text>
<text x="232.40" y="508.00" font-size="5.5" text-anchor="middle" fill="#333" stroke="#333" stroke-width="0.183">–</text>
<text x="232.40" y="513.80" font-size="5.5" text-anchor="middle" fill="#333" stroke="#333" stroke-width="0.183">–</text>
<text x="238.60" y="508.00" font-size="5.5" text-anchor="middle" fill="#333" stroke="#333" stroke-width="0.183">1</text>
<text x="238.60" y="513.80" font-size="5.5" text-anchor="middle" fill="#333" stroke="#333" stroke-width="0.183">–</text>
<text x="245.90" y="508.00" font-size="5.5" text-anchor="middle" fill="#333" stroke="#333" stroke-width="0.183">2</text>
<text x="245.90" y="513.80" font-size="5.5" text-anchor="middle" fill="#333" stroke="#333" stroke-width="0.183">–</text>
<text x="253.20" y="508.00" font-size="5.5" text-anchor="middle" fill="#333" stroke="#333" stroke-width="0.183">–</text>
<text x="253.20" y="513.80" font-size="5.5" text-anchor="middle" fill="#333" stroke="#333" stroke-width="0.183">1</text>
<text x="260.00" y="508.00" font-size="5.5" text-anchor="middle" fill="#333" stroke="#333" stroke-width="0.183">1</text>
<text x="260.00" y="513.80" font-size="5.5" text-anchor="middle" fill="#333" stroke="#333" stroke-width="0.183">1</text>
<text x="267.30" y="508.00" font-size="5.5" text-anchor="middle" fill="#333" stroke="#333" stroke-width="0.183">2</text>
<text x="267.30" y="513.80" font-size="5.5" text-anchor="middle" fill="#333" stroke="#333" stroke-width="0.183">1</text>
<text x="274.20" y="508.00" font-size="5.5" text-anchor="middle" fill="#333" stroke="#333" stroke-width="0.183">–</text>
<text x="274.20" y="513.80" font-size="5.5" text-anchor="middle" fill="#333" stroke="#333" stroke-width="0.183">2</text>
<text x="281.50" y="508.00" font-size="5.5" text-anchor="middle" fill="#333" stroke="#333" stroke-width="0.183">1</text>
<text x="281.50" y="513.80" font-size="5.5" text-anchor="middle" fill="#333" stroke="#333" stroke-width="0.183">2</text>
<text x="288.30" y="508.00" font-size="5.5" text-anchor="middle" fill="#333" stroke="#333" stroke-width="0.183">2</text>
<text x="288.30" y="513.80" font-size="5.5" text-anchor="middle" fill="#333" stroke="#333" stroke-width="0.183">2</text>
<rect x="231.00" y="515.40" width="62.00" height="32.30" fill="#b5b5b5"/>
<rect x="231.00" y="526.50" width="62.00" height="1.50" fill="#d2d2d2"/>
<rect x="231.00" y="535.80" width="62.00" height="1.80" fill="#d2d2d2"/>
<rect x="229.20" y="518.60" width="6.40" height="4.20" fill="#333" rx="1.5"/>
<rect x="229.40" y="531.00" width="6.00" height="1.20" fill="#777"/>
<rect x="229.20" y="541.50" width="6.40" height="2.00" fill="#3a3a3a"/>
<rect x="235.60" y="531.00" width="6.00" height="1.20" fill="#777"/>
<rect x="235.40" y="541.50" width="6.40" height="2.00" fill="#3a3a3a"/>
<rect x="242.90" y="521.00" width="6.00" height="1.20" fill="#666"/>
<rect x="242.90" y="531.00" width="6.00" height="1.20" fill="#555"/>
<rect x="242.70" y="541.50" width="6.40" height="2.00" fill="#3a3a3a"/>
<rect x="250.00" y="518.60" width="6.40" height="4.20" fill="#333" rx="1.5"/>
<rect x="250.00" y="541.50" width="6.40" height="2.00" fill="#3a3a3a"/>
<rect x="256.80" y="541.50" width="6.40" height="2.00" fill="#3a3a3a"/>
<rect x="264.30" y="521.00" width="6.00" height="1.20" fill="#666"/>
<rect x="264.10" y="541.50" width="6.40" height="2.00" fill="#3a3a3a"/>
<rect x="271.00" y="518.60" width="6.40" height="4.20" fill="#333" rx="1.5"/>
<rect x="271.00" y="541.50" width="6.40" height="2.00" fill="#3a3a3a"/>
<rect x="278.30" y="541.50" width="6.40" height="2.00" fill="#3a3a3a"/>
<rect x="285.30" y="521.00" width="6.00" height="1.00" fill="#8a8a8a"/>
<rect x="285.10" y="541.50" width="6.40" height="2.00" fill="#3a3a3a"/>
<text x="226.30" y="522.80" font-size="5.2" text-anchor="end" fill="#333" stroke="#333" stroke-width="0.173">MTHFR</text>
<text x="226.30" y="534.40" font-size="5.2" text-anchor="end" fill="#333" stroke="#333" stroke-width="0.173">SPI1</text>
<text x="226.30" y="544.50" font-size="5.2" text-anchor="end" fill="#333" stroke="#333" stroke-width="0.173">Vinculin</text>
<text x="127.60" y="576.40" font-size="9.6" font-weight="bold" fill="#000">I</text>
<text x="140.80" y="671.00" font-size="6.6" fill="#222" stroke="#222" stroke-width="0.220" transform="rotate(-90 140.80 671.00)">Fold change in IC<tspan font-size="4.4" dy="1.4">50</tspan><tspan dy="-1.4"> of OTX015</tspan></text>
<text x="146.60" y="660.50" font-size="6.6" fill="#222" stroke="#222" stroke-width="0.220" transform="rotate(-90 146.60 660.50)">(relative to shControl)</text>
<line x1="159.90" y1="586.00" x2="159.90" y2="663.40" stroke="#333" stroke-width="0.6"/>
<line x1="158.60" y1="660.60" x2="159.90" y2="660.60" stroke="#333" stroke-width="0.5"/>
<text x="157.30" y="662.40" font-size="5.0" text-anchor="end" fill="#333" stroke="#333" stroke-width="0.167">0</text>
<line x1="158.60" y1="636.90" x2="159.90" y2="636.90" stroke="#333" stroke-width="0.5"/>
<text x="157.30" y="638.70" font-size="5.0" text-anchor="end" fill="#333" stroke="#333" stroke-width="0.167">5</text>
<line x1="158.60" y1="613.20" x2="159.90" y2="613.20" stroke="#333" stroke-width="0.5"/>
<text x="157.30" y="615.00" font-size="5.0" text-anchor="end" fill="#333" stroke="#333" stroke-width="0.167">10</text>
<line x1="158.60" y1="589.50" x2="159.90" y2="589.50" stroke="#333" stroke-width="0.5"/>
<text x="157.30" y="591.30" font-size="5.0" text-anchor="end" fill="#333" stroke="#333" stroke-width="0.167">15</text>
<text x="163.50" y="592.00" font-size="5.5" fill="#333" stroke="#333" stroke-width="0.183">IMS-M2</text>
<line x1="161.00" y1="655.80" x2="222.00" y2="655.80" stroke="#333" stroke-width="0.4" stroke-dasharray="0.8 0.8"/>
<rect x="161.40" y="655.00" width="8.40" height="1.40" fill="#222" stroke="#222" stroke-width="0.5"/>
<circle cx="165.60" cy="655.70" r="0.55" fill="#fff"/>
<rect x="172.00" y="655.80" width="7.30" height="1.20" fill="#333" stroke="#333" stroke-width="0.5"/>
<rect x="182.50" y="656.40" width="7.40" height="1.00" fill="#444" stroke="#444" stroke-width="0.5"/>
<line x1="196.45" y1="589.50" x2="196.45" y2="590.00" stroke="#e0262d" stroke-width="0.5"/>
<line x1="195.25" y1="589.50" x2="197.65" y2="589.50" stroke="#e0262d" stroke-width="0.5"/>
<line x1="196.45" y1="628.50" x2="196.45" y2="629.50" stroke="#e0262d" stroke-width="0.5"/>
<line x1="195.25" y1="629.50" x2="197.65" y2="629.50" stroke="#e0262d" stroke-width="0.5"/>
<rect x="193.00" y="590.00" width="6.90" height="38.50" fill="#e0262d" stroke="#e0262d" stroke-width="0.5"/>
<circle cx="196.50" cy="598.00" r="0.55" fill="#fff"/>
<circle cx="196.50" cy="627.50" r="0.55" fill="#fff"/>
<line x1="206.30" y1="651.00" x2="206.30" y2="654.00" stroke="#222" stroke-width="0.5"/>
<line x1="205.10" y1="651.00" x2="207.50" y2="651.00" stroke="#222" stroke-width="0.5"/>
<rect x="202.60" y="654.00" width="7.40" height="3.60" fill="#222" stroke="#222" stroke-width="0.5"/>
<circle cx="206.30" cy="655.80" r="0.55" fill="#fff"/>
<line x1="217.45" y1="653.50" x2="217.45" y2="655.80" stroke="#333" stroke-width="0.5"/>
<line x1="216.25" y1="653.50" x2="218.65" y2="653.50" stroke="#333" stroke-width="0.5"/>
<rect x="214.80" y="655.80" width="5.30" height="1.40" fill="#333" stroke="#333" stroke-width="0.5"/>
<text x="162.40" y="669.30" font-size="5.0" text-anchor="end" fill="#333" stroke="#333" stroke-width="0.167">FA:</text>
<text x="162.40" y="674.80" font-size="5.0" text-anchor="end" fill="#333" stroke="#333" stroke-width="0.167">sh<tspan font-style="italic">SPI1</tspan>:</text>
<text x="165.60" y="669.30" font-size="5.0" text-anchor="middle" fill="#333" stroke="#333" stroke-width="0.167">+</text>
<text x="165.60" y="674.80" font-size="5.0" text-anchor="middle" fill="#333" stroke="#333" stroke-width="0.167">–</text>
<text x="175.70" y="669.30" font-size="5.0" text-anchor="middle" fill="#333" stroke="#333" stroke-width="0.167">+</text>
<text x="175.70" y="674.80" font-size="5.0" text-anchor="middle" fill="#333" stroke="#333" stroke-width="0.167">1</text>
<text x="185.70" y="669.30" font-size="5.0" text-anchor="middle" fill="#333" stroke="#333" stroke-width="0.167">+</text>
<text x="185.70" y="674.80" font-size="5.0" text-anchor="middle" fill="#333" stroke="#333" stroke-width="0.167">2</text>
<text x="196.30" y="669.30" font-size="5.0" text-anchor="middle" fill="#333" stroke="#333" stroke-width="0.167">–</text>
<text x="196.30" y="674.80" font-size="5.0" text-anchor="middle" fill="#333" stroke="#333" stroke-width="0.167">–</text>
<text x="206.80" y="669.30" font-size="5.0" text-anchor="middle" fill="#333" stroke="#333" stroke-width="0.167">–</text>
<text x="206.80" y="674.80" font-size="5.0" text-anchor="middle" fill="#333" stroke="#333" stroke-width="0.167">1</text>
<text x="217.20" y="669.30" font-size="5.0" text-anchor="middle" fill="#333" stroke="#333" stroke-width="0.167">–</text>
<text x="217.20" y="674.80" font-size="5.0" text-anchor="middle" fill="#333" stroke="#333" stroke-width="0.167">2</text>
<line x1="231.70" y1="586.20" x2="231.70" y2="661.00" stroke="#333" stroke-width="0.6"/>
<line x1="230.40" y1="660.20" x2="231.70" y2="660.20" stroke="#333" stroke-width="0.5"/>
<text x="229.10" y="662.00" font-size="5.0" text-anchor="end" fill="#333" stroke="#333" stroke-width="0.167">0</text>
<line x1="230.40" y1="641.95" x2="231.70" y2="641.95" stroke="#333" stroke-width="0.5"/>
<text x="229.10" y="643.75" font-size="5.0" text-anchor="end" fill="#333" stroke="#333" stroke-width="0.167">2</text>
<line x1="230.40" y1="623.70" x2="231.70" y2="623.70" stroke="#333" stroke-width="0.5"/>
<text x="229.10" y="625.50" font-size="5.0" text-anchor="end" fill="#333" stroke="#333" stroke-width="0.167">4</text>
<line x1="230.40" y1="605.45" x2="231.70" y2="605.45" stroke="#333" stroke-width="0.5"/>
<text x="229.10" y="607.25" font-size="5.0" text-anchor="end" fill="#333" stroke="#333" stroke-width="0.167">6</text>
<line x1="230.40" y1="587.20" x2="231.70" y2="587.20" stroke="#333" stroke-width="0.5"/>
<text x="229.10" y="589.00" font-size="5.0" text-anchor="end" fill="#333" stroke="#333" stroke-width="0.167">8</text>
<text x="236.00" y="592.00" font-size="5.5" fill="#333" stroke="#333" stroke-width="0.183">U937</text>
<line x1="233.00" y1="651.30" x2="293.00" y2="651.30" stroke="#333" stroke-width="0.4" stroke-dasharray="0.8 0.8"/>
<rect x="233.80" y="650.40" width="7.50" height="0.90" fill="#333" stroke="#333" stroke-width="0.5"/>
<rect x="243.40" y="652.60" width="8.40" height="0.70" fill="#444" stroke="#444" stroke-width="0.5"/>
<rect x="254.00" y="655.20" width="7.30" height="0.70" fill="#444" stroke="#444" stroke-width="0.5"/>
<line x1="268.20" y1="607.30" x2="268.20" y2="610.50" stroke="#e0262d" stroke-width="0.5"/>
<line x1="267.00" y1="607.30" x2="269.40" y2="607.30" stroke="#e0262d" stroke-width="0.5"/>
<line x1="268.20" y1="621.00" x2="268.20" y2="623.20" stroke="#e0262d" stroke-width="0.5"/>
<line x1="267.00" y1="623.20" x2="269.40" y2="623.20" stroke="#e0262d" stroke-width="0.5"/>
<rect x="264.50" y="610.50" width="7.40" height="10.50" fill="#e0262d" stroke="#e0262d" stroke-width="0.5"/>
<circle cx="268.20" cy="613.00" r="0.55" fill="#fff"/>
<circle cx="268.20" cy="617.00" r="0.55" fill="#fff"/>
<line x1="278.75" y1="649.50" x2="278.75" y2="652.50" stroke="#444" stroke-width="0.5"/>
<line x1="277.55" y1="649.50" x2="279.95" y2="649.50" stroke="#444" stroke-width="0.5"/>
<rect x="275.00" y="652.50" width="7.50" height="0.80" fill="#444" stroke="#444" stroke-width="0.5"/>
<line x1="288.30" y1="653.50" x2="288.30" y2="655.80" stroke="#444" stroke-width="0.5"/>
<line x1="287.10" y1="653.50" x2="289.50" y2="653.50" stroke="#444" stroke-width="0.5"/>
<rect x="284.60" y="655.80" width="7.40" height="0.80" fill="#444" stroke="#444" stroke-width="0.5"/>
<text x="237.70" y="669.30" font-size="5.0" text-anchor="middle" fill="#333" stroke="#333" stroke-width="0.167">+</text>
<text x="237.70" y="674.80" font-size="5.0" text-anchor="middle" fill="#333" stroke="#333" stroke-width="0.167">–</text>
<text x="247.60" y="669.30" font-size="5.0" text-anchor="middle" fill="#333" stroke="#333" stroke-width="0.167">+</text>
<text x="247.60" y="674.80" font-size="5.0" text-anchor="middle" fill="#333" stroke="#333" stroke-width="0.167">1</text>
<text x="257.50" y="669.30" font-size="5.0" text-anchor="middle" fill="#333" stroke="#333" stroke-width="0.167">+</text>
<text x="257.50" y="674.80" font-size="5.0" text-anchor="middle" fill="#333" stroke="#333" stroke-width="0.167">2</text>
<text x="268.10" y="669.30" font-size="5.0" text-anchor="middle" fill="#333" stroke="#333" stroke-width="0.167">–</text>
<text x="268.10" y="674.80" font-size="5.0" text-anchor="middle" fill="#333" stroke="#333" stroke-width="0.167">–</text>
<text x="278.70" y="669.30" font-size="5.0" text-anchor="middle" fill="#333" stroke="#333" stroke-width="0.167">–</text>
<text x="278.70" y="674.80" font-size="5.0" text-anchor="middle" fill="#333" stroke="#333" stroke-width="0.167">1</text>
<text x="288.90" y="669.30" font-size="5.0" text-anchor="middle" fill="#333" stroke="#333" stroke-width="0.167">–</text>
<text x="288.90" y="674.80" font-size="5.0" text-anchor="middle" fill="#333" stroke="#333" stroke-width="0.167">2</text>
<text x="306.20" y="486.60" font-size="9.6" font-weight="bold" fill="#000">J</text>
<text x="311.40" y="653.60" font-size="5.65" fill="#222" stroke="#222" stroke-width="0.188" transform="rotate(-90 311.40 653.60)">Fold change in IC<tspan font-size="3.8" dy="1.2">50</tspan><tspan dy="-1.2"> of OTX015 (relative to shControl)</tspan></text>
<line x1="326.10" y1="512.00" x2="326.10" y2="578.50" stroke="#333" stroke-width="0.6"/>
<line x1="324.80" y1="577.00" x2="326.10" y2="577.00" stroke="#333" stroke-width="0.5"/>
<text x="323.70" y="578.80" font-size="5.0" text-anchor="end" fill="#444" stroke="#444" stroke-width="0.167">0</text>
<line x1="324.80" y1="556.05" x2="326.10" y2="556.05" stroke="#333" stroke-width="0.5"/>
<text x="323.70" y="557.85" font-size="5.0" text-anchor="end" fill="#444" stroke="#444" stroke-width="0.167">5</text>
<line x1="324.80" y1="535.10" x2="326.10" y2="535.10" stroke="#333" stroke-width="0.5"/>
<text x="323.70" y="536.90" font-size="5.0" text-anchor="end" fill="#444" stroke="#444" stroke-width="0.167">10</text>
<line x1="324.80" y1="514.15" x2="326.10" y2="514.15" stroke="#333" stroke-width="0.5"/>
<text x="323.70" y="515.95" font-size="5.0" text-anchor="end" fill="#444" stroke="#444" stroke-width="0.167">15</text>
<text x="400.00" y="515.65" font-size="5.0" text-anchor="end" fill="#333" stroke="#333" stroke-width="0.167">IMS-M2</text>
<line x1="327.00" y1="572.81" x2="403.00" y2="572.81" stroke="#333" stroke-width="0.4" stroke-dasharray="0.8 0.8"/>
<rect x="328.90" y="568.62" width="5.20" height="5.45" fill="#1a1a1a" stroke="#1a1a1a" stroke-width="0.5"/>
<circle cx="331.50" cy="571.34" r="0.55" fill="#fff"/>
<line x1="339.95" y1="524.62" x2="339.95" y2="525.88" stroke="#e0262d" stroke-width="0.5"/>
<line x1="338.75" y1="524.62" x2="341.15" y2="524.62" stroke="#e0262d" stroke-width="0.5"/>
<line x1="339.95" y1="548.51" x2="339.95" y2="557.73" stroke="#e0262d" stroke-width="0.5"/>
<line x1="338.75" y1="557.73" x2="341.15" y2="557.73" stroke="#e0262d" stroke-width="0.5"/>
<rect x="336.95" y="525.88" width="6.00" height="22.63" fill="#e0262d" stroke="#e0262d" stroke-width="0.5"/>
<circle cx="339.95" cy="537.19" r="0.55" fill="#fff"/>
<circle cx="339.95" cy="526.88" r="0.55" fill="#fff"/>
<line x1="348.40" y1="524.21" x2="348.40" y2="532.59" stroke="#e0262d" stroke-width="0.5"/>
<line x1="347.20" y1="524.21" x2="349.60" y2="524.21" stroke="#e0262d" stroke-width="0.5"/>
<line x1="348.40" y1="545.16" x2="348.40" y2="546.83" stroke="#e0262d" stroke-width="0.5"/>
<line x1="347.20" y1="546.83" x2="349.60" y2="546.83" stroke="#e0262d" stroke-width="0.5"/>
<rect x="345.40" y="532.59" width="6.00" height="12.57" fill="#e0262d" stroke="#e0262d" stroke-width="0.5"/>
<circle cx="348.40" cy="538.87" r="0.55" fill="#fff"/>
<circle cx="348.40" cy="533.59" r="0.55" fill="#fff"/>
<rect x="354.25" y="567.78" width="5.20" height="2.09" fill="#1a1a1a" stroke="#1a1a1a" stroke-width="0.5"/>
<circle cx="356.85" cy="568.83" r="0.55" fill="#fff"/>
<line x1="365.30" y1="566.11" x2="365.30" y2="569.46" stroke="#e98c92" stroke-width="0.5"/>
<line x1="364.10" y1="566.11" x2="366.50" y2="566.11" stroke="#e98c92" stroke-width="0.5"/>
<rect x="362.50" y="569.46" width="5.60" height="4.19" fill="#f4b9bd" stroke="#e98c92" stroke-width="0.5"/>
<circle cx="365.30" cy="571.55" r="0.55" fill="#fff"/>
<rect x="370.95" y="571.97" width="5.60" height="2.51" fill="#f4b9bd" stroke="#e98c92" stroke-width="0.5"/>
<circle cx="373.75" cy="573.23" r="0.55" fill="#fff"/>
<rect x="379.60" y="567.78" width="5.20" height="2.51" fill="#1a1a1a" stroke="#1a1a1a" stroke-width="0.5"/>
<circle cx="382.20" cy="569.04" r="0.55" fill="#fff"/>
<line x1="390.65" y1="553.54" x2="390.65" y2="556.05" stroke="#e98c92" stroke-width="0.5"/>
<line x1="389.45" y1="553.54" x2="391.85" y2="553.54" stroke="#e98c92" stroke-width="0.5"/>
<rect x="387.85" y="556.05" width="5.60" height="8.38" fill="#f4b9bd" stroke="#e98c92" stroke-width="0.5"/>
<circle cx="390.65" cy="560.24" r="0.55" fill="#fff"/>
<line x1="399.10" y1="569.04" x2="399.10" y2="571.97" stroke="#e98c92" stroke-width="0.5"/>
<line x1="397.90" y1="569.04" x2="400.30" y2="569.04" stroke="#e98c92" stroke-width="0.5"/>
<rect x="396.30" y="571.97" width="5.60" height="2.93" fill="#f4b9bd" stroke="#e98c92" stroke-width="0.5"/>
<circle cx="399.10" cy="573.44" r="0.55" fill="#fff"/>
<line x1="326.10" y1="587.00" x2="326.10" y2="652.00" stroke="#333" stroke-width="0.6"/>
<line x1="324.80" y1="650.50" x2="326.10" y2="650.50" stroke="#333" stroke-width="0.5"/>
<text x="323.70" y="652.30" font-size="5.0" text-anchor="end" fill="#444" stroke="#444" stroke-width="0.167">0</text>
<line x1="324.80" y1="629.85" x2="326.10" y2="629.85" stroke="#333" stroke-width="0.5"/>
<text x="323.70" y="631.65" font-size="5.0" text-anchor="end" fill="#444" stroke="#444" stroke-width="0.167">5</text>
<line x1="324.80" y1="609.20" x2="326.10" y2="609.20" stroke="#333" stroke-width="0.5"/>
<text x="323.70" y="611.00" font-size="5.0" text-anchor="end" fill="#444" stroke="#444" stroke-width="0.167">10</text>
<line x1="324.80" y1="588.55" x2="326.10" y2="588.55" stroke="#333" stroke-width="0.5"/>
<text x="323.70" y="590.35" font-size="5.0" text-anchor="end" fill="#444" stroke="#444" stroke-width="0.167">15</text>
<text x="400.00" y="590.05" font-size="5.0" text-anchor="end" fill="#333" stroke="#333" stroke-width="0.167">U937</text>
<line x1="327.00" y1="646.37" x2="403.00" y2="646.37" stroke="#333" stroke-width="0.4" stroke-dasharray="0.8 0.8"/>
<rect x="328.90" y="645.13" width="5.20" height="2.89" fill="#1a1a1a" stroke="#1a1a1a" stroke-width="0.5"/>
<circle cx="331.50" cy="646.58" r="0.55" fill="#fff"/>
<line x1="339.95" y1="597.64" x2="339.95" y2="610.03" stroke="#e0262d" stroke-width="0.5"/>
<line x1="338.75" y1="597.64" x2="341.15" y2="597.64" stroke="#e0262d" stroke-width="0.5"/>
<line x1="339.95" y1="636.04" x2="339.95" y2="637.28" stroke="#e0262d" stroke-width="0.5"/>
<line x1="338.75" y1="637.28" x2="341.15" y2="637.28" stroke="#e0262d" stroke-width="0.5"/>
<rect x="336.95" y="610.03" width="6.00" height="26.02" fill="#e0262d" stroke="#e0262d" stroke-width="0.5"/>
<circle cx="339.95" cy="623.04" r="0.55" fill="#fff"/>
<circle cx="339.95" cy="611.03" r="0.55" fill="#fff"/>
<line x1="348.40" y1="623.24" x2="348.40" y2="624.48" stroke="#e0262d" stroke-width="0.5"/>
<line x1="347.20" y1="623.24" x2="349.60" y2="623.24" stroke="#e0262d" stroke-width="0.5"/>
<rect x="345.40" y="624.48" width="6.00" height="7.02" fill="#e0262d" stroke="#e0262d" stroke-width="0.5"/>
<circle cx="348.40" cy="627.99" r="0.55" fill="#fff"/>
<circle cx="348.40" cy="625.48" r="0.55" fill="#fff"/>
<rect x="354.25" y="644.30" width="5.20" height="2.07" fill="#1a1a1a" stroke="#1a1a1a" stroke-width="0.5"/>
<circle cx="356.85" cy="645.34" r="0.55" fill="#fff"/>
<line x1="365.30" y1="639.76" x2="365.30" y2="642.24" stroke="#e98c92" stroke-width="0.5"/>
<line x1="364.10" y1="639.76" x2="366.50" y2="639.76" stroke="#e98c92" stroke-width="0.5"/>
<rect x="362.50" y="642.24" width="5.60" height="4.96" fill="#f4b9bd" stroke="#e98c92" stroke-width="0.5"/>
<circle cx="365.30" cy="644.72" r="0.55" fill="#fff"/>
<rect x="370.95" y="646.78" width="5.60" height="1.65" fill="#f4b9bd" stroke="#e98c92" stroke-width="0.5"/>
<circle cx="373.75" cy="647.61" r="0.55" fill="#fff"/>
<rect x="379.60" y="644.30" width="5.20" height="2.07" fill="#1a1a1a" stroke="#1a1a1a" stroke-width="0.5"/>
<circle cx="382.20" cy="645.34" r="0.55" fill="#fff"/>
<line x1="390.65" y1="631.50" x2="390.65" y2="634.39" stroke="#e98c92" stroke-width="0.5"/>
<line x1="389.45" y1="631.50" x2="391.85" y2="631.50" stroke="#e98c92" stroke-width="0.5"/>
<rect x="387.85" y="634.39" width="5.60" height="6.61" fill="#f4b9bd" stroke="#e98c92" stroke-width="0.5"/>
<circle cx="390.65" cy="637.70" r="0.55" fill="#fff"/>
<line x1="399.10" y1="643.89" x2="399.10" y2="646.37" stroke="#e98c92" stroke-width="0.5"/>
<line x1="397.90" y1="643.89" x2="400.30" y2="643.89" stroke="#e98c92" stroke-width="0.5"/>
<rect x="396.30" y="646.37" width="5.60" height="2.06" fill="#f4b9bd" stroke="#e98c92" stroke-width="0.5"/>
<circle cx="399.10" cy="647.40" r="0.55" fill="#fff"/>
<text x="328.90" y="659.00" font-size="5.5" text-anchor="end" fill="#333" stroke="#333" stroke-width="0.183">sh<tspan font-style="italic">MTHFR</tspan>:</text>
<text x="328.90" y="664.80" font-size="5.5" text-anchor="end" fill="#333" stroke="#333" stroke-width="0.183">sh<tspan font-style="italic">SPI1</tspan>:</text>
<text x="331.50" y="659.00" font-size="5.4" text-anchor="middle" fill="#333" stroke="#333" stroke-width="0.180">–</text>
<text x="331.50" y="664.80" font-size="5.4" text-anchor="middle" fill="#333" stroke="#333" stroke-width="0.180">–</text>
<text x="339.95" y="659.00" font-size="5.4" text-anchor="middle" fill="#333" stroke="#333" stroke-width="0.180">1</text>
<text x="339.95" y="664.80" font-size="5.4" text-anchor="middle" fill="#333" stroke="#333" stroke-width="0.180">–</text>
<text x="348.40" y="659.00" font-size="5.4" text-anchor="middle" fill="#333" stroke="#333" stroke-width="0.180">2</text>
<text x="348.40" y="664.80" font-size="5.4" text-anchor="middle" fill="#333" stroke="#333" stroke-width="0.180">–</text>
<text x="356.85" y="659.00" font-size="5.4" text-anchor="middle" fill="#333" stroke="#333" stroke-width="0.180">–</text>
<text x="356.85" y="664.80" font-size="5.4" text-anchor="middle" fill="#333" stroke="#333" stroke-width="0.180">1</text>
<text x="365.30" y="659.00" font-size="5.4" text-anchor="middle" fill="#333" stroke="#333" stroke-width="0.180">1</text>
<text x="365.30" y="664.80" font-size="5.4" text-anchor="middle" fill="#333" stroke="#333" stroke-width="0.180">1</text>
<text x="373.75" y="659.00" font-size="5.4" text-anchor="middle" fill="#333" stroke="#333" stroke-width="0.180">2</text>
<text x="373.75" y="664.80" font-size="5.4" text-anchor="middle" fill="#333" stroke="#333" stroke-width="0.180">1</text>
<text x="382.20" y="659.00" font-size="5.4" text-anchor="middle" fill="#333" stroke="#333" stroke-width="0.180">–</text>
<text x="382.20" y="664.80" font-size="5.4" text-anchor="middle" fill="#333" stroke="#333" stroke-width="0.180">2</text>
<text x="390.65" y="659.00" font-size="5.4" text-anchor="middle" fill="#333" stroke="#333" stroke-width="0.180">1</text>
<text x="390.65" y="664.80" font-size="5.4" text-anchor="middle" fill="#333" stroke="#333" stroke-width="0.180">2</text>
<text x="399.10" y="659.00" font-size="5.4" text-anchor="middle" fill="#333" stroke="#333" stroke-width="0.180">2</text>
<text x="399.10" y="664.80" font-size="5.4" text-anchor="middle" fill="#333" stroke="#333" stroke-width="0.180">2</text>
<text x="409.40" y="486.00" font-size="9.6" font-weight="bold" fill="#000">K</text>
<text x="424.50" y="563.00" font-size="5.3" fill="#333" stroke="#333" stroke-width="0.177" transform="rotate(-90 424.50 563.00)">Fold change in IC<tspan font-size="3.6" dy="1.2">50</tspan><tspan dy="-1.2"> of  OTX015</tspan></text>
<text x="429.90" y="554.00" font-size="5.3" fill="#333" stroke="#333" stroke-width="0.177" transform="rotate(-90 429.90 554.00)">(relative to shControl)</text>
<line x1="442.60" y1="494.00" x2="442.60" y2="561.50" stroke="#444" stroke-width="0.6"/>
<line x1="441.30" y1="560.70" x2="442.60" y2="560.70" stroke="#444" stroke-width="0.5"/>
<text x="440.00" y="562.50" font-size="5.0" text-anchor="end" fill="#555" stroke="#555" stroke-width="0.167">0</text>
<line x1="441.30" y1="544.10" x2="442.60" y2="544.10" stroke="#444" stroke-width="0.5"/>
<text x="440.00" y="545.90" font-size="5.0" text-anchor="end" fill="#555" stroke="#555" stroke-width="0.167">2</text>
<line x1="441.30" y1="527.50" x2="442.60" y2="527.50" stroke="#444" stroke-width="0.5"/>
<text x="440.00" y="529.30" font-size="5.0" text-anchor="end" fill="#555" stroke="#555" stroke-width="0.167">4</text>
<line x1="441.30" y1="510.90" x2="442.60" y2="510.90" stroke="#444" stroke-width="0.5"/>
<text x="440.00" y="512.70" font-size="5.0" text-anchor="end" fill="#555" stroke="#555" stroke-width="0.167">6</text>
<line x1="441.30" y1="494.30" x2="442.60" y2="494.30" stroke="#444" stroke-width="0.5"/>
<text x="440.00" y="496.10" font-size="5.0" text-anchor="end" fill="#555" stroke="#555" stroke-width="0.167">8</text>
<line x1="444.00" y1="552.30" x2="520.00" y2="552.30" stroke="#333" stroke-width="0.4" stroke-dasharray="0.8 0.8"/>
<rect x="444.80" y="551.60" width="8.90" height="2.20" fill="#111" stroke="#111" stroke-width="0.5"/>
<rect x="458.60" y="553.60" width="6.80" height="1.40" fill="#111" stroke="#111" stroke-width="0.5"/>
<rect x="470.30" y="551.60" width="9.90" height="4.70" fill="#111" stroke="#111" stroke-width="0.5"/>
<line x1="487.95" y1="510.00" x2="487.95" y2="512.70" stroke="#e0262d" stroke-width="0.5"/>
<line x1="486.75" y1="510.00" x2="489.15" y2="510.00" stroke="#e0262d" stroke-width="0.5"/>
<line x1="487.95" y1="518.20" x2="487.95" y2="519.80" stroke="#e0262d" stroke-width="0.5"/>
<line x1="486.75" y1="519.80" x2="489.15" y2="519.80" stroke="#e0262d" stroke-width="0.5"/>
<rect x="483.50" y="512.70" width="8.90" height="5.50" fill="#e0262d" stroke="#e0262d" stroke-width="0.5"/>
<circle cx="487.90" cy="515.50" r="0.55" fill="#fff"/>
<line x1="500.80" y1="549.50" x2="500.80" y2="553.00" stroke="#e98c92" stroke-width="0.5"/>
<line x1="499.60" y1="549.50" x2="502.00" y2="549.50" stroke="#e98c92" stroke-width="0.5"/>
<rect x="497.00" y="553.00" width="7.60" height="4.50" fill="#fbe3e5" stroke="#e98c92" stroke-width="0.5"/>
<line x1="512.95" y1="549.00" x2="512.95" y2="551.80" stroke="#e98c92" stroke-width="0.5"/>
<line x1="511.75" y1="549.00" x2="514.15" y2="549.00" stroke="#e98c92" stroke-width="0.5"/>
<rect x="509.20" y="551.80" width="7.50" height="6.70" fill="#fbe3e5" stroke="#e98c92" stroke-width="0.5"/>
<text x="443.70" y="566.90" font-size="4.8" text-anchor="end" fill="#333" stroke="#333" stroke-width="0.160"><tspan font-style="italic">Mthfr</tspan>:</text>
<text x="443.70" y="573.00" font-size="4.8" text-anchor="end" fill="#333" stroke="#333" stroke-width="0.160">sh<tspan font-style="italic">Spi1</tspan>:</text>
<text x="449.20" y="566.90" font-size="4.4" text-anchor="middle" fill="#555" stroke="#555" stroke-width="0.147">+/+</text>
<text x="449.20" y="573.00" font-size="4.8" text-anchor="middle" fill="#333" stroke="#333" stroke-width="0.160">–</text>
<text x="462.00" y="566.90" font-size="4.4" text-anchor="middle" fill="#555" stroke="#555" stroke-width="0.147">+/+</text>
<text x="462.00" y="573.00" font-size="4.8" text-anchor="middle" fill="#333" stroke="#333" stroke-width="0.160">1</text>
<text x="474.70" y="566.90" font-size="4.4" text-anchor="middle" fill="#555" stroke="#555" stroke-width="0.147">+/+</text>
<text x="474.70" y="573.00" font-size="4.8" text-anchor="middle" fill="#333" stroke="#333" stroke-width="0.160">2</text>
<text x="487.30" y="566.90" font-size="4.4" text-anchor="middle" fill="#555" stroke="#555" stroke-width="0.147">−/−</text>
<text x="487.30" y="573.00" font-size="4.8" text-anchor="middle" fill="#333" stroke="#333" stroke-width="0.160">–</text>
<text x="500.60" y="566.90" font-size="4.4" text-anchor="middle" fill="#555" stroke="#555" stroke-width="0.147">−/−</text>
<text x="500.60" y="573.00" font-size="4.8" text-anchor="middle" fill="#333" stroke="#333" stroke-width="0.160">1</text>
<text x="513.40" y="566.90" font-size="4.4" text-anchor="middle" fill="#555" stroke="#555" stroke-width="0.147">−/−</text>
<text x="513.40" y="573.00" font-size="4.8" text-anchor="middle" fill="#333" stroke="#333" stroke-width="0.160">2</text>
<text x="413.80" y="590.00" font-size="9.6" font-weight="bold" fill="#000">L</text>
<text x="421.60" y="646.00" font-size="5.6" fill="#333" stroke="#333" stroke-width="0.187" transform="rotate(-90 421.60 646.00)">eGFP<tspan font-size="3.6" dy="-1.8">+</tspan><tspan dy="1.8"> eBFP</tspan><tspan font-size="3.6" dy="-1.8">+</tspan><tspan dy="1.8"> cells</tspan></text>
<text x="427.60" y="653.00" font-size="5.6" fill="#333" stroke="#333" stroke-width="0.187" transform="rotate(-90 427.60 653.00)">in bone marrow (%)</text>
<line x1="443.00" y1="592.50" x2="443.00" y2="656.20" stroke="#444" stroke-width="0.6"/>
<line x1="441.70" y1="655.70" x2="443.00" y2="655.70" stroke="#444" stroke-width="0.5"/>
<text x="440.40" y="657.50" font-size="5.0" text-anchor="end" fill="#555" stroke="#555" stroke-width="0.167">0</text>
<line x1="441.70" y1="634.80" x2="443.00" y2="634.80" stroke="#444" stroke-width="0.5"/>
<text x="440.40" y="636.60" font-size="5.0" text-anchor="end" fill="#555" stroke="#555" stroke-width="0.167">20</text>
<line x1="441.70" y1="613.90" x2="443.00" y2="613.90" stroke="#444" stroke-width="0.5"/>
<text x="440.40" y="615.70" font-size="5.0" text-anchor="end" fill="#555" stroke="#555" stroke-width="0.167">40</text>
<line x1="441.70" y1="593.00" x2="443.00" y2="593.00" stroke="#444" stroke-width="0.5"/>
<text x="440.40" y="594.80" font-size="5.0" text-anchor="end" fill="#555" stroke="#555" stroke-width="0.167">60</text>
<path d="M447.5,604.5 L447.5,595.0 L457.4,595.0 L457.4,608.2" fill="none" stroke="#444" stroke-width="0.5"/>
<text x="452.45" y="595.00" font-size="4.6" text-anchor="middle" fill="#333" stroke="#333" stroke-width="0.153">*</text>
<path d="M467,604.5 L467,595.0 L476.9,595.0 L476.9,608.2" fill="none" stroke="#444" stroke-width="0.5"/>
<text x="471.95" y="595.00" font-size="4.6" text-anchor="middle" fill="#333" stroke="#333" stroke-width="0.153">*</text>
<path d="M485.8,604.5 L485.8,595.0 L495.7,595.0 L495.7,608.2" fill="none" stroke="#444" stroke-width="0.5"/>
<text x="490.75" y="594.00" font-size="4.6" text-anchor="middle" fill="#333" stroke="#333" stroke-width="0.153">n.s.</text>
<path d="M504.6,604.5 L504.6,595.0 L514.5,595.0 L514.5,608.2" fill="none" stroke="#444" stroke-width="0.5"/>
<text x="509.55" y="595.00" font-size="4.6" text-anchor="middle" fill="#333" stroke="#333" stroke-width="0.153">*</text>
<line x1="447.50" y1="607.15" x2="447.50" y2="615.94" stroke="#222" stroke-width="0.5"/>
<line x1="444.70" y1="611.55" x2="450.30" y2="611.55" stroke="#222" stroke-width="0.6"/>
<circle cx="448.50" cy="606.59" r="1.35" fill="#222"/>
<circle cx="446.50" cy="608.68" r="1.35" fill="#222"/>
<circle cx="448.50" cy="612.86" r="1.35" fill="#222"/>
<circle cx="446.50" cy="618.08" r="1.35" fill="#222"/>
<line x1="457.40" y1="641.43" x2="457.40" y2="653.25" stroke="#e0262d" stroke-width="0.5"/>
<line x1="454.60" y1="647.34" x2="460.20" y2="647.34" stroke="#e0262d" stroke-width="0.6"/>
<circle cx="458.40" cy="638.98" r="1.35" fill="#e0262d"/>
<circle cx="456.40" cy="643.16" r="1.35" fill="#e0262d"/>
<circle cx="458.40" cy="647.34" r="1.35" fill="#e0262d"/>
<circle cx="456.40" cy="651.52" r="1.35" fill="#e0262d"/>
<circle cx="458.40" cy="655.70" r="1.35" fill="#e0262d"/>
<line x1="467.00" y1="621.39" x2="467.00" y2="636.19" stroke="#222" stroke-width="0.5"/>
<line x1="464.20" y1="628.79" x2="469.80" y2="628.79" stroke="#222" stroke-width="0.6"/>
<circle cx="468.00" cy="621.22" r="1.35" fill="#222"/>
<circle cx="466.00" cy="622.26" r="1.35" fill="#222"/>
<circle cx="468.00" cy="632.71" r="1.35" fill="#222"/>
<circle cx="466.00" cy="638.98" r="1.35" fill="#222"/>
<line x1="476.50" y1="644.78" x2="476.50" y2="652.51" stroke="#e0262d" stroke-width="0.5"/>
<line x1="473.70" y1="648.65" x2="479.30" y2="648.65" stroke="#e0262d" stroke-width="0.6"/>
<circle cx="477.50" cy="643.16" r="1.35" fill="#e0262d"/>
<circle cx="475.50" cy="647.34" r="1.35" fill="#e0262d"/>
<circle cx="477.50" cy="650.48" r="1.35" fill="#e0262d"/>
<circle cx="475.50" cy="653.61" r="1.35" fill="#e0262d"/>
<line x1="486.40" y1="626.69" x2="486.40" y2="632.04" stroke="#222" stroke-width="0.5"/>
<line x1="483.60" y1="629.37" x2="489.20" y2="629.37" stroke="#222" stroke-width="0.6"/>
<circle cx="487.40" cy="625.40" r="1.35" fill="#222"/>
<circle cx="485.40" cy="627.49" r="1.35" fill="#222"/>
<circle cx="487.40" cy="629.58" r="1.35" fill="#222"/>
<circle cx="485.40" cy="631.67" r="1.35" fill="#222"/>
<circle cx="487.40" cy="632.71" r="1.35" fill="#222"/>
<line x1="495.30" y1="635.64" x2="495.30" y2="641.63" stroke="#e0262d" stroke-width="0.5"/>
<line x1="492.50" y1="638.63" x2="498.10" y2="638.63" stroke="#e0262d" stroke-width="0.6"/>
<circle cx="496.30" cy="634.80" r="1.35" fill="#e0262d"/>
<circle cx="494.30" cy="638.98" r="1.35" fill="#e0262d"/>
<circle cx="496.30" cy="642.12" r="1.35" fill="#e0262d"/>
<line x1="505.20" y1="635.59" x2="505.20" y2="642.89" stroke="#222" stroke-width="0.5"/>
<line x1="502.40" y1="639.24" x2="508.00" y2="639.24" stroke="#222" stroke-width="0.6"/>
<circle cx="506.20" cy="634.80" r="1.35" fill="#222"/>
<circle cx="504.20" cy="636.89" r="1.35" fill="#222"/>
<circle cx="506.20" cy="641.07" r="1.35" fill="#222"/>
<circle cx="504.20" cy="644.21" r="1.35" fill="#222"/>
<line x1="515.00" y1="647.92" x2="515.00" y2="653.03" stroke="#e0262d" stroke-width="0.5"/>
<line x1="512.20" y1="650.48" x2="517.80" y2="650.48" stroke="#e0262d" stroke-width="0.6"/>
<circle cx="516.00" cy="647.34" r="1.35" fill="#e0262d"/>
<circle cx="514.00" cy="650.48" r="1.35" fill="#e0262d"/>
<circle cx="516.00" cy="653.61" r="1.35" fill="#e0262d"/>
<text x="443.70" y="663.80" font-size="4.8" text-anchor="end" fill="#333" stroke="#333" stroke-width="0.160"><tspan font-style="italic">Mthfr</tspan>:</text>
<text x="443.70" y="669.30" font-size="4.8" text-anchor="end" fill="#333" stroke="#333" stroke-width="0.160">sh<tspan font-style="italic">Spi1</tspan>:</text>
<text x="443.70" y="674.80" font-size="4.8" text-anchor="end" fill="#333" stroke="#333" stroke-width="0.160">JQ1:</text>
<text x="447.50" y="663.80" font-size="4.2" text-anchor="middle" fill="#555" stroke="#555" stroke-width="0.140">+/+</text>
<text x="447.50" y="669.30" font-size="4.8" text-anchor="middle" fill="#333" stroke="#333" stroke-width="0.160">–</text>
<text x="447.50" y="674.80" font-size="4.8" text-anchor="middle" fill="#333" stroke="#333" stroke-width="0.160">–</text>
<text x="457.40" y="663.80" font-size="4.2" text-anchor="middle" fill="#555" stroke="#555" stroke-width="0.140">+/+</text>
<text x="457.40" y="669.30" font-size="4.8" text-anchor="middle" fill="#333" stroke="#333" stroke-width="0.160">–</text>
<text x="457.40" y="674.80" font-size="4.8" text-anchor="middle" fill="#333" stroke="#333" stroke-width="0.160">+</text>
<text x="467.00" y="663.80" font-size="4.2" text-anchor="middle" fill="#555" stroke="#555" stroke-width="0.140">+/+</text>
<text x="467.00" y="669.30" font-size="4.8" text-anchor="middle" fill="#333" stroke="#333" stroke-width="0.160">1</text>
<text x="467.00" y="674.80" font-size="4.8" text-anchor="middle" fill="#333" stroke="#333" stroke-width="0.160">–</text>
<text x="476.50" y="663.80" font-size="4.2" text-anchor="middle" fill="#555" stroke="#555" stroke-width="0.140">+/+</text>
<text x="476.50" y="669.30" font-size="4.8" text-anchor="middle" fill="#333" stroke="#333" stroke-width="0.160">1</text>
<text x="476.50" y="674.80" font-size="4.8" text-anchor="middle" fill="#333" stroke="#333" stroke-width="0.160">+</text>
<text x="486.40" y="663.80" font-size="4.2" text-anchor="middle" fill="#555" stroke="#555" stroke-width="0.140">−/−</text>
<text x="486.40" y="669.30" font-size="4.8" text-anchor="middle" fill="#333" stroke="#333" stroke-width="0.160">–</text>
<text x="486.40" y="674.80" font-size="4.8" text-anchor="middle" fill="#333" stroke="#333" stroke-width="0.160">–</text>
<text x="495.30" y="663.80" font-size="4.2" text-anchor="middle" fill="#555" stroke="#555" stroke-width="0.140">−/−</text>
<text x="495.30" y="669.30" font-size="4.8" text-anchor="middle" fill="#333" stroke="#333" stroke-width="0.160">–</text>
<text x="495.30" y="674.80" font-size="4.8" text-anchor="middle" fill="#333" stroke="#333" stroke-width="0.160">+</text>
<text x="505.20" y="663.80" font-size="4.2" text-anchor="middle" fill="#555" stroke="#555" stroke-width="0.140">−/−</text>
<text x="505.20" y="669.30" font-size="4.8" text-anchor="middle" fill="#333" stroke="#333" stroke-width="0.160">1</text>
<text x="505.20" y="674.80" font-size="4.8" text-anchor="middle" fill="#333" stroke="#333" stroke-width="0.160">–</text>
<text x="515.00" y="663.80" font-size="4.2" text-anchor="middle" fill="#555" stroke="#555" stroke-width="0.140">−/−</text>
<text x="515.00" y="669.30" font-size="4.8" text-anchor="middle" fill="#333" stroke="#333" stroke-width="0.160">1</text>
<text x="515.00" y="674.80" font-size="4.8" text-anchor="middle" fill="#333" stroke="#333" stroke-width="0.160">+</text>
</svg></body></html>
